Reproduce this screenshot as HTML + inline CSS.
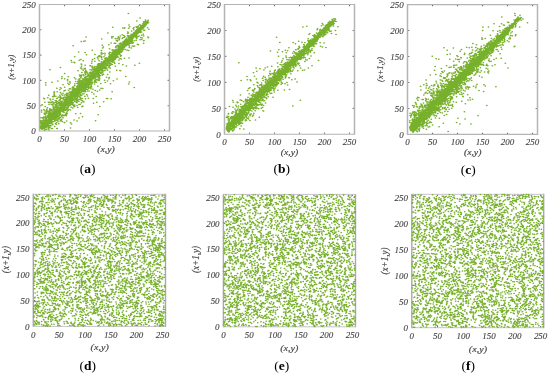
<!DOCTYPE html>
<html><head><meta charset="utf-8"><style>
html,body{margin:0;padding:0;background:#fff;width:550px;height:376px;overflow:hidden}
svg{display:block;filter:blur(.3px)}
text{text-anchor:middle}
.t{font-family:"Liberation Serif",serif;font-style:italic;font-size:7.2px;fill:#444;stroke:#444;stroke-width:.1px}
.e{text-anchor:end}
.l{font-family:"Liberation Serif",serif;font-style:italic;fill:#444;stroke:#444;stroke-width:.15px}
.c{font-family:"Liberation Serif",serif;font-weight:bold;font-size:12.5px;fill:#000}
.n{font-weight:normal}
</style></head><body>
<svg width="550" height="376" viewBox="0 0 550 376">
<path d="M39.5 4V131.5M169.5 4V131.5M224.5 4V134.8M354.5 4V134.8M407.5 4.1V134.9M537.5 4.1V134.9" stroke="#b4b4b4" stroke-width="1.5" fill="none"/>
<path d="M39.5 4.5H169.5M39.5 131H169.5M224.5 4.5H354.5M224.5 134.3H354.5M407.5 4.6H537.5M407.5 134.4H537.5" stroke="#b4b4b4" stroke-width="1.1" fill="none"/>
<path d="M33.3 193.8V326.9M165.5 193.8V326.9M223.4 193.9V327.3M355.5 193.9V327.3M411.8 193.8V328.2M543.7 193.8V328.2" stroke="#aca6b6" stroke-width="1.4" fill="none"/>
<path d="M33.3 194.3H165.5M33.3 326.4H165.5M223.4 194.4H355.5M223.4 326.8H355.5M411.8 194.3H543.7M411.8 327.7H543.7" stroke="#c6c0ce" stroke-width="1" fill="none"/>
<path d="M64.5 130.5v-1.2M64.5 5v1.2M40.2 105.7h1.2M168.8 105.7h-1.2M89.5 130.5v-1.2M89.5 5v1.2M40.2 80.4h1.2M168.8 80.4h-1.2M114.5 130.5v-1.2M114.5 5v1.2M40.2 55.1h1.2M168.8 55.1h-1.2M139.5 130.5v-1.2M139.5 5v1.2M40.2 29.8h1.2M168.8 29.8h-1.2M164.5 130.5v-1.2M164.5 5v1.2M249.5 133.8v-1.2M249.5 5v1.2M225.2 108.34h1.2M353.8 108.34h-1.2M274.5 133.8v-1.2M274.5 5v1.2M225.2 82.38h1.2M353.8 82.38h-1.2M299.5 133.8v-1.2M299.5 5v1.2M225.2 56.42h1.2M353.8 56.42h-1.2M324.5 133.8v-1.2M324.5 5v1.2M225.2 30.46h1.2M353.8 30.46h-1.2M349.5 133.8v-1.2M349.5 5v1.2M432.5 133.9v-1.2M432.5 5.1v1.2M408.2 108.44h1.2M536.8 108.44h-1.2M457.5 133.9v-1.2M457.5 5.1v1.2M408.2 82.48h1.2M536.8 82.48h-1.2M482.5 133.9v-1.2M482.5 5.1v1.2M408.2 56.52h1.2M536.8 56.52h-1.2M507.5 133.9v-1.2M507.5 5.1v1.2M408.2 30.56h1.2M536.8 30.56h-1.2M532.5 133.9v-1.2M532.5 5.1v1.2M59.12 325.9v-1.2M59.12 194.8v1.2M34 300.6h1.2M164.8 300.6h-1.2M84.94 325.9v-1.2M84.94 194.8v1.2M34 274.8h1.2M164.8 274.8h-1.2M110.76 325.9v-1.2M110.76 194.8v1.2M34 249h1.2M164.8 249h-1.2M136.58 325.9v-1.2M136.58 194.8v1.2M34 223.2h1.2M164.8 223.2h-1.2M162.4 325.9v-1.2M162.4 194.8v1.2M34 197.4h1.2M164.8 197.4h-1.2M249.2 326.3v-1.2M249.2 194.9v1.2M224.1 300.94h1.2M354.8 300.94h-1.2M275 326.3v-1.2M275 194.9v1.2M224.1 275.08h1.2M354.8 275.08h-1.2M300.8 326.3v-1.2M300.8 194.9v1.2M224.1 249.22h1.2M354.8 249.22h-1.2M326.6 326.3v-1.2M326.6 194.9v1.2M224.1 223.36h1.2M354.8 223.36h-1.2M352.4 326.3v-1.2M352.4 194.9v1.2M224.1 197.5h1.2M354.8 197.5h-1.2M437.56 327.2v-1.2M437.56 194.8v1.2M412.5 301.65h1.2M543 301.65h-1.2M463.32 327.2v-1.2M463.32 194.8v1.2M412.5 275.59h1.2M543 275.59h-1.2M489.09 327.2v-1.2M489.09 194.8v1.2M412.5 249.54h1.2M543 249.54h-1.2M514.85 327.2v-1.2M514.85 194.8v1.2M412.5 223.48h1.2M543 223.48h-1.2M540.61 327.2v-1.2M540.61 194.8v1.2M412.5 197.43h1.2M543 197.43h-1.2" stroke="#707070" stroke-width="1.1" fill="none"/>
<g transform="scale(0.325 0.25)" fill="none" stroke="#77b02a" stroke-width="5.8" stroke-linecap="round">
<path d="M395 54h0m36 18h0m17 8h0m8 1h0m-35 3h0m34 0h0m-8 1h0m2 0h0m6 1h0m-13 1h0m8 0h0m5 0h0m-4 2h0m-2 1h0m3 0h0m0 0h0m0 0h0m1 0h0m-7 1h0m1 0h0m10 0h0m-11 1h0m3 0h0m5 0h0m-13 1h0m6 0h0m3 0h0m1 0h0m-4 1h0m5 0h0m-12 1h0m9 0h0m-7 2h0m4 0h0m1 0h0m-5 1h0m6 0h0m-18 1h0m13 0h0m1 0h0m1 0h0m0 0h0m5 0h0m-53 1h0m35 0h0m9 0h0m2 0h0m2 0h0m1 0h0m1 0h0m-13 1h0m11 0h0m-9 1h0m2 0h0m8 0h0m-9 1h0m3 0h0m-14 1h0m7 0h0m5 0h0m2 0h0m2 0h0m0 1h0m-1 1h0m1 0h0m3 0h0m1 0h0m-47 1h0m20 0h0m5 0h0m11 0h0m2 0h0m0 0h0m6 0h0m-2 1h0m-94 1h0m87 0h0m0 0h0m7 0h0m-29 1h0m8 0h0m11 0h0m6 0h0m-53 1h0m45 0h0m7 0h0m0 0h0m18 0h0m-76 1h0m64 0h0m-59 1h0m13 0h0m28 0h0m1 0h0m6 0h0m5 0h0m1 0h0m-27 1h0m20 0h0m3 0h0m0 0h0m4 0h0m-10 1h0m7 0h0m3 0h0m2 0h0m-7 1h0m1 0h0m4 0h0m-5 1h0m26 0h0m-34 1h0m3 0h0m8 0h0m-23 1h0m9 0h0m7 0h0m7 0h0m-5 1h0m1 0h0m3 0h0m-12 1h0m1 0h0m3 0h0m1 0h0m4 0h0m11 0h0m3 0h0m-22 1h0m0 0h0m1 0h0m0 0h0m2 0h0m1 0h0m-9 1h0m4 0h0m-17 1h0m17 0h0m0 0h0m3 0h0m1 0h0m5 0h0m-14 1h0m1 0h0m2 0h0m4 0h0m2 0h0m-2 1h0m2 0h0m-4 1h0m1 0h0m0 0h0m9 0h0m-39 1h0m26 0h0m2 0h0m1 0h0m7 0h0m7 0h0m-21 1h0m5 0h0m3 0h0m2 0h0m-13 1h0m6 0h0m4 0h0m2 0h0m2 0h0m1 0h0m5 0h0m-19 1h0m3 0h0m3 0h0m0 0h0m0 0h0m1 0h0m-88 1h0m63 0h0m19 0h0m1 0h0m0 0h0m3 0h0m-6 1h0m2 0h0m3 0h0m8 0h0m-32 1h0m17 0h0m6 0h0m6 0h0m-9 1h0m2 0h0m7 0h0m-11 1h0m2 0h0m9 0h0m1 0h0m-19 1h0m6 0h0m5 0h0m1 0h0m1 0h0m24 0h0m-36 1h0m6 0h0m2 0h0m1 0h0m0 0h0m3 0h0m2 0h0m-43 1h0m29 0h0m1 0h0m2 0h0m4 0h0m6 0h0m1 0h0m-10 1h0m2 0h0m4 0h0m2 0h0m-10 1h0m4 0h0m1 0h0m3 0h0m21 0h0m-55 1h0m20 0h0m1 0h0m8 0h0m5 0h0m0 0h0m3 0h0m-26 1h0m2 0h0m0 0h0m1 0h0m6 0h0m8 0h0m5 0h0m6 0h0m-50 1h0m36 0h0m3 0h0m3 0h0m7 0h0m9 0h0m14 0h0m-47 1h0m11 0h0m16 0h0m-38 1h0m18 0h0m0 0h0m6 0h0m0 0h0m6 0h0m5 0h0m5 0h0m-80 1h0m4 0h0m16 0h0m31 0h0m22 0h0m-152 1h0m133 0h0m9 0h0m1 0h0m3 0h0m44 0h0m-72 1h0m16 0h0m2 0h0m10 0h0m7 0h0m-39 1h0m19 0h0m3 0h0m19 0h0m13 0h0m-68 1h0m32 0h0m5 0h0m5 0h0m3 0h0m47 0h0m-113 1h0m24 0h0m22 0h0m6 0h0m5 0h0m9 0h0m11 0h0m17 0h0m-41 1h0m1 0h0m2 0h0m0 0h0m7 0h0m2 0h0m-54 1h0m6 0h0m15 0h0m22 0h0m4 0h0m3 0h0m2 0h0m13 0h0m-23 1h0m3 0h0m1 0h0m6 0h0m1 0h0m-95 1h0m86 0h0m7 0h0m0 0h0m-39 1h0m20 0h0m5 0h0m3 0h0m5 0h0m1 0h0m-4 1h0m4 0h0m2 0h0m33 0h0m-69 1h0m24 0h0m0 0h0m10 0h0m0 0h0m2 0h0m0 0h0m1 0h0m2 0h0m1 0h0m24 0h0m-46 1h0m8 0h0m3 0h0m8 0h0m2 0h0m-48 1h0m32 0h0m0 0h0m3 0h0m0 0h0m0 0h0m1 0h0m1 0h0m2 0h0m2 0h0m20 0h0m-57 1h0m22 0h0m8 0h0m1 0h0m2 0h0m9 0h0m39 0h0m-49 1h0m1 0h0m3 0h0m2 0h0m13 0h0m29 0h0m-180 1h0m123 0h0m7 0h0m2 0h0m1 0h0m2 0h0m6 0h0m2 0h0m2 0h0m-149 1h0m103 0h0m22 0h0m7 0h0m3 0h0m14 0h0m-157 1h0m129 0h0m7 0h0m3 0h0m0 0h0m4 0h0m1 0h0m2 0h0m4 0h0m-20 1h0m5 0h0m2 0h0m2 0h0m0 1h0m5 0h0m-12 1h0m5 0h0m1 0h0m2 0h0m15 0h0m1 0h0m-18 1h0m2 0h0m-13 1h0m2 0h0m11 0h0m16 0h0m4 0h0m-68 1h0m30 0h0m9 0h0m13 0h0m0 0h0m5 0h0m2 0h0m-49 1h0m4 0h0m26 0h0m1 0h0m1 0h0m19 0h0m5 0h0m34 0h0m-74 1h0m15 0h0m1 0h0m5 0h0m0 0h0m6 0h0m4 0h0m-29 1h0m9 0h0m6 0h0m1 0h0m-18 1h0m16 0h0m6 0h0m2 0h0m3 0h0m-24 1h0m4 0h0m3 0h0m5 0h0m0 0h0m8 0h0m32 0h0m-38 1h0m1 0h0m0 0h0m0 0h0m-51 1h0m44 0h0m5 0h0m7 0h0m35 0h0m-45 1h0m1 0h0m2 0h0m0 0h0m4 0h0m1 0h0m3 0h0m5 0h0m-82 1h0m48 0h0m15 0h0m5 0h0m-8 1h0m3 0h0m3 0h0m1 0h0m1 0h0m-158 1h0m135 0h0m9 0h0m5 0h0m3 0h0m0 0h0m4 0h0m3 0h0m2 0h0m0 0h0m1 0h0m1 0h0m-22 1h0m6 0h0m3 0h0m2 0h0m2 0h0m4 0h0m0 0h0m15 0h0m9 0h0m7 0h0m-49 1h0m14 0h0m2 0h0m1 0h0m29 0h0m-54 1h0m15 0h0m3 0h0m1 0h0m3 0h0m5 0h0m-16 1h0m8 0h0m0 0h0m2 0h0m1 0h0m-61 1h0m46 0h0m5 0h0m4 0h0m3 0h0m2 0h0m1 0h0m-23 1h0m8 0h0m4 0h0m2 0h0m3 0h0m6 0h0m0 0h0m1 0h0m1 0h0m-17 1h0m8 0h0m3 0h0m23 0h0m-41 1h0m11 0h0m1 0h0m1 0h0m2 0h0m0 0h0m1 0h0m3 0h0m3 0h0m1 0h0m3 0h0m-67 1h0m55 0h0m1 0h0m5 0h0m27 0h0m-39 1h0m1 0h0m3 0h0m6 0h0m3 0h0m1 0h0m-15 1h0m2 0h0m2 0h0m0 0h0m1 0h0m3 0h0m2 0h0m-37 1h0m31 0h0m0 0h0m-5 1h0m0 0h0m14 0h0m-16 1h0m2 0h0m1 0h0m0 0h0m3 0h0m4 0h0m2 0h0m-8 1h0m4 0h0m6 0h0m4 0h0m6 0h0m-39 1h0m11 0h0m3 0h0m4 0h0m1 0h0m6 0h0m3 0h0m-29 1h0m6 0h0m3 0h0m9 0h0m10 0h0m18 0h0m-107 1h0m73 0h0m3 0h0m3 0h0m5 0h0m-56 1h0m46 0h0m4 0h0m34 0h0m-35 1h0m2 0h0m-15 1h0m10 0h0m1 0h0m3 0h0m1 0h0m0 0h0m5 0h0m9 0h0m-25 1h0m4 0h0m4 0h0m2 0h0m3 0h0m2 0h0m-13 1h0m1 0h0m2 0h0m7 0h0m7 0h0m-15 1h0m2 0h0m5 0h0m1 0h0m4 0h0m6 0h0m-132 1h0m106 0h0m5 0h0m5 0h0m3 0h0m6 0h0m-29 1h0m16 0h0m0 0h0m15 0h0m2 0h0m-109 1h0m50 0h0m28 0h0m17 0h0m11 0h0m4 0h0m-60 1h0m41 0h0m10 0h0m5 0h0m-23 1h0m5 0h0m1 0h0m-28 1h0m12 0h0m10 0h0m5 0h0m-33 1h0m33 0h0m2 0h0m2 0h0m4 0h0m-11 1h0m8 0h0m3 0h0m1 0h0m6 0h0m-53 1h0m24 0h0m13 0h0m5 0h0m0 0h0m2 0h0m1 0h0m5 0h0m3 0h0m0 0h0m-53 1h0m32 0h0m3 0h0m6 0h0m2 0h0m1 0h0m1 0h0m5 0h0m1 0h0m5 0h0m-76 1h0m46 0h0m5 0h0m4 0h0m8 0h0m0 0h0m-89 1h0m75 0h0m8 0h0m0 0h0m1 0h0m1 0h0m0 0h0m3 0h0m2 0h0m3 0h0m-36 1h0m18 0h0m8 0h0m2 0h0m4 0h0m5 0h0m0 0h0m10 0h0m-21 1h0m0 0h0m10 0h0m-12 1h0m10 0h0m16 0h0m-66 1h0m33 0h0m4 0h0m11 0h0m-51 1h0m32 0h0m2 0h0m8 0h0m16 0h0m-51 1h0m30 0h0m3 0h0m10 0h0m2 0h0m1 0h0m2 0h0m12 0h0m-65 1h0m38 0h0m3 0h0m2 0h0m1 0h0m-120 1h0m72 0h0m18 0h0m15 0h0m3 0h0m1 0h0m3 0h0m3 0h0m2 0h0m0 0h0m5 0h0m0 0h0m2 0h0m2 0h0m2 0h0m-45 1h0m24 0h0m5 0h0m2 0h0m3 0h0m2 0h0m2 0h0m5 0h0m6 0h0m-22 1h0m2 0h0m3 0h0m1 0h0m1 0h0m17 0h0m-64 1h0m48 0h0m2 0h0m2 0h0m-40 1h0m15 0h0m11 0h0m2 0h0m1 0h0m8 0h0m9 0h0m-32 1h0m2 0h0m5 0h0m3 0h0m1 0h0m0 0h0m2 0h0m1 0h0m3 0h0m3 0h0m10 0h0m41 0h0m-65 1h0m9 0h0m2 0h0m1 0h0m3 0h0m1 0h0m2 0h0m33 0h0m-92 1h0m32 0h0m10 0h0m7 0h0m0 0h0m4 0h0m25 0h0m-38 1h0m3 0h0m5 0h0m6 0h0m4 0h0m5 0h0m-52 1h0m25 0h0m8 0h0m5 0h0m0 0h0m0 0h0m6 0h0m3 0h0m24 0h0m0 0h0m-59 1h0m16 0h0m15 0h0m-96 1h0m36 0h0m39 0h0m8 0h0m3 0h0m2 0h0m1 0h0m8 0h0m8 0h0m-19 1h0m-5 1h0m2 0h0m1 0h0m1 0h0m1 0h0m3 0h0m3 0h0m4 0h0m21 0h0m-122 1h0m87 0h0m1 0h0m2 0h0m7 0h0m8 0h0m-130 1h0m104 0h0m5 0h0m0 0h0m2 0h0m3 0h0m1 0h0m-78 1h0m49 0h0m15 0h0m2 0h0m1 0h0m1 0h0m7 0h0m6 0h0m1 0h0m1 0h0m3 0h0m1 0h0m1 0h0m3 0h0m3 0h0m-26 1h0m2 0h0m7 0h0m6 0h0m4 0h0m-60 1h0m9 0h0m33 0h0m-5 1h0m15 0h0m-23 1h0m8 0h0m4 0h0m1 0h0m4 0h0m1 0h0m14 0h0m2 0h0m-26 1h0m1 0h0m0 0h0m4 0h0m1 0h0m0 0h0m1 0h0m4 0h0m5 0h0m-115 1h0m7 0h0m87 0h0m2 0h0m2 0h0m4 0h0m1 0h0m1 0h0m0 0h0m1 0h0m5 0h0m2 0h0m4 0h0m10 0h0m5 0h0m-35 1h0m5 0h0m-92 1h0m87 0h0m3 0h0m4 0h0m-42 2h0m31 0h0m10 0h0m14 0h0m4 0h0m88 0h0m-124 1h0m5 0h0m7 0h0m0 0h0m1 0h0m4 0h0m1 0h0m6 0h0m2 0h0m10 0h0m12 0h0m13 0h0m-53 1h0m1 0h0m1 0h0m10 0h0m10 0h0m-85 1h0m52 0h0m5 0h0m8 0h0m10 0h0m1 0h0m4 0h0m1 0h0m-28 1h0m12 0h0m3 0h0m3 0h0m10 0h0m-28 1h0m11 0h0m4 0h0m7 0h0m2 0h0m1 0h0m17 0h0m-94 1h0m55 0h0m3 0h0m4 0h0m3 0h0m10 0h0m2 0h0m12 0h0m38 0h0m-78 1h0m16 0h0m0 0h0m3 0h0m4 0h0m2 0h0m-63 1h0m41 0h0m2 0h0m4 0h0m6 0h0m6 0h0m5 0h0m10 0h0m4 0h0m75 0h0m-110 1h0m9 0h0m6 0h0m10 0h0m-53 1h0m2 0h0m28 0h0m1 0h0m3 0h0m1 0h0m0 0h0m2 0h0m3 0h0m0 0h0m15 0h0m-28 1h0m6 0h0m0 0h0m7 0h0m3 0h0m7 0h0m62 0h0m-104 1h0m15 0h0m11 0h0m6 0h0m19 0h0m19 0h0m-63 1h0m11 0h0m3 0h0m5 0h0m3 0h0m3 0h0m4 0h0m4 0h0m0 0h0m11 0h0m-85 1h0m53 0h0m12 0h0m3 0h0m-36 1h0m14 0h0m1 0h0m2 0h0m1 0h0m8 0h0m0 0h0m0 0h0m-8 1h0m3 0h0m3 0h0m9 0h0m3 0h0m-133 1h0m104 0h0m16 0h0m6 0h0m1 0h0m3 0h0m1 0h0m6 0h0m-14 1h0m3 0h0m3 0h0m1 0h0m3 0h0m1 0h0m8 0h0m7 0h0m-87 1h0m36 0h0m5 0h0m18 0h0m1 0h0m3 0h0m3 0h0m25 0h0m-77 1h0m33 0h0m5 0h0m0 0h0m4 0h0m0 0h0m0 0h0m1 0h0m0 0h0m0 0h0m5 0h0m3 0h0m0 0h0m2 0h0m7 0h0m-30 1h0m7 0h0m5 0h0m5 0h0m4 0h0m0 0h0m5 0h0m6 0h0m-65 1h0m42 0h0m3 0h0m1 0h0m3 0h0m5 0h0m3 0h0m1 0h0m7 0h0m-72 1h0m10 0h0m31 0h0m1 0h0m5 0h0m4 0h0m5 0h0m2 0h0m2 0h0m4 0h0m13 0h0m-42 1h0m4 0h0m0 0h0m8 0h0m6 0h0m1 0h0m0 0h0m1 0h0m2 0h0m3 0h0m4 0h0m-22 1h0m2 0h0m6 0h0m3 0h0m2 0h0m2 0h0m-155 1h0m123 0h0m6 0h0m7 0h0m2 0h0m1 0h0m10 0h0m6 0h0m4 0h0m-31 1h0m16 0h0m2 0h0m8 0h0m0 0h0m1 0h0m5 0h0m-58 1h0m37 0h0m1 0h0m5 0h0m13 0h0m11 0h0m8 0h0m28 0h0m-95 1h0m37 0h0m5 0h0m1 0h0m7 0h0m2 0h0m53 0h0m-129 1h0m50 0h0m1 0h0m0 0h0m2 0h0m8 0h0m5 0h0m65 0h0m-82 1h0m1 0h0m3 0h0m0 0h0m1 0h0m3 0h0m2 0h0m1 0h0m0 0h0m3 0h0m16 0h0m-33 1h0m6 0h0m4 0h0m2 0h0m1 0h0m0 0h0m-36 1h0m3 0h0m22 0h0m5 0h0m4 0h0m0 0h0m1 0h0m3 0h0m1 0h0m4 0h0m-40 1h0m28 0h0m6 0h0m12 0h0m2 0h0m-53 1h0m6 0h0m13 0h0m6 0h0m52 0h0m-60 1h0m19 0h0m0 0h0m3 0h0m5 0h0m-53 1h0m12 0h0m12 0h0m9 0h0m10 0h0m2 0h0m11 0h0m-45 1h0m21 0h0m2 0h0m2 0h0m3 0h0m2 0h0m1 0h0m1 0h0m1 0h0m14 0h0m6 0h0m-47 1h0m7 0h0m4 0h0m11 0h0m4 0h0m3 0h0m-8 1h0m7 0h0m3 0h0m2 0h0m8 0h0m1 0h0m-112 1h0m63 0h0m15 0h0m20 0h0m3 0h0m1 0h0m2 0h0m-15 1h0m3 0h0m1 0h0m0 0h0m-29 1h0m8 0h0m18 0h0m2 0h0m1 0h0m0 0h0m2 0h0m3 0h0m-16 1h0m2 0h0m1 0h0m8 0h0m4 0h0m10 0h0m12 0h0m-34 1h0m0 0h0m4 0h0m2 0h0m5 0h0m0 0h0m2 0h0m1 0h0m4 0h0m1 0h0m28 0h0m-74 1h0m7 0h0m19 0h0m9 0h0m5 0h0m-52 1h0m7 0h0m22 0h0m2 0h0m9 0h0m4 0h0m3 0h0m2 0h0m2 0h0m2 0h0m6 0h0m10 0h0m-66 1h0m22 0h0m2 0h0m3 0h0m0 0h0m2 0h0m4 0h0m3 0h0m3 0h0m8 0h0m5 0h0m15 0h0m-43 1h0m4 0h0m9 0h0m1 0h0m2 0h0m1 0h0m1 0h0m18 0h0m-50 1h0m20 0h0m5 0h0m4 0h0m7 0h0m14 0h0m-57 1h0m20 0h0m1 0h0m2 0h0m0 0h0m4 0h0m0 0h0m6 0h0m1 0h0m6 0h0m1 0h0m10 0h0m-56 1h0m29 0h0m4 0h0m1 0h0m1 0h0m0 0h0m6 0h0m-21 1h0m4 0h0m12 0h0m3 0h0m4 0h0m5 0h0m5 0h0m6 0h0m82 0h0m-196 1h0m19 0h0m54 0h0m12 0h0m0 0h0m10 0h0m0 0h0m6 0h0m9 0h0m-24 1h0m4 0h0m5 0h0m2 0h0m15 0h0m-54 1h0m15 0h0m15 0h0m1 0h0m2 0h0m2 0h0m3 0h0m3 0h0m1 0h0m37 0h0m-67 1h0m20 0h0m2 0h0m53 0h0m-107 1h0m33 0h0m15 0h0m0 0h0m10 0h0m8 0h0m11 0h0m-57 1h0m25 0h0m3 0h0m6 0h0m7 0h0m12 0h0m-31 1h0m0 0h0m7 0h0m0 0h0m0 0h0m11 0h0m-99 1h0m75 0h0m2 0h0m2 0h0m5 0h0m4 0h0m4 0h0m2 0h0m0 0h0m-85 1h0m45 0h0m11 0h0m0 0h0m4 0h0m2 0h0m3 0h0m7 0h0m0 0h0m4 0h0m5 0h0m2 0h0m5 0h0m0 0h0m2 0h0m18 0h0m28 0h0m-102 1h0m24 0h0m10 0h0m10 0h0m8 0h0m0 0h0m75 0h0m-105 1h0m11 0h0m1 0h0m3 0h0m6 0h0m0 0h0m18 0h0m-86 1h0m53 0h0m18 0h0m1 0h0m16 0h0m-32 1h0m6 0h0m5 0h0m2 0h0m2 0h0m0 0h0m2 0h0m1 0h0m16 0h0m3 0h0m3 0h0m-63 1h0m1 0h0m20 0h0m8 0h0m1 0h0m2 0h0m22 0h0m6 0h0m-56 1h0m3 0h0m11 0h0m1 0h0m7 0h0m2 0h0m11 0h0m2 0h0m40 0h0m-66 1h0m14 0h0m12 0h0m0 0h0m10 0h0m13 0h0m-97 1h0m46 0h0m10 0h0m18 0h0m12 0h0m55 0h0m-171 1h0m83 0h0m1 0h0m0 0h0m2 0h0m2 0h0m4 0h0m2 0h0m3 0h0m8 0h0m48 0h0m-80 1h0m21 0h0m3 0h0m2 0h0m1 0h0m13 0h0m-58 1h0m7 0h0m5 0h0m22 0h0m2 0h0m-54 1h0m28 0h0m7 0h0m0 0h0m6 0h0m14 0h0m7 0h0m-12 1h0m29 0h0m104 0h0m-238 1h0m92 0h0m13 0h0m2 0h0m2 0h0m3 0h0m1 0h0m0 0h0m4 0h0m3 0h0m3 0h0m7 0h0m7 0h0m-47 1h0m1 0h0m8 0h0m6 0h0m2 0h0m7 0h0m50 0h0m-183 1h0m105 0h0m2 0h0m6 0h0m10 0h0m0 0h0m9 0h0m4 0h0m0 0h0m7 0h0m-68 1h0m24 0h0m5 0h0m5 0h0m0 0h0m4 0h0m1 0h0m5 0h0m1 0h0m6 0h0m4 0h0m3 0h0m10 0h0m-75 1h0m39 0h0m7 0h0m6 0h0m7 0h0m3 0h0m5 0h0m-39 1h0m2 0h0m22 0h0m2 0h0m7 0h0m40 0h0m-80 1h0m14 0h0m2 0h0m5 0h0m7 0h0m13 0h0m6 0h0m6 0h0m57 0h0m-78 1h0m0 0h0m2 0h0m6 0h0m21 0h0m105 0h0m-149 1h0m12 0h0m2 0h0m1 0h0m4 0h0m3 0h0m9 0h0m-66 1h0m36 0h0m8 0h0m0 0h0m6 0h0m7 0h0m1 0h0m4 0h0m4 0h0m-84 1h0m53 0h0m5 0h0m3 0h0m6 0h0m2 0h0m0 0h0m-122 1h0m100 0h0m4 0h0m6 0h0m2 0h0m14 0h0m14 0h0m-39 1h0m7 0h0m0 0h0m20 0h0m5 0h0m-44 1h0m0 0h0m19 0h0m1 0h0m14 0h0m2 0h0m1 0h0m-17 1h0m0 0h0m2 0h0m7 0h0m4 0h0m-25 1h0m3 0h0m5 0h0m1 0h0m2 0h0m1 0h0m4 0h0m9 0h0m4 0h0m6 0h0m-32 1h0m8 0h0m10 0h0m2 0h0m2 0h0m4 0h0m6 0h0m6 0h0m22 0h0m-52 1h0m7 0h0m7 0h0m18 0h0m-45 1h0m5 0h0m2 0h0m1 0h0m3 0h0m2 0h0m4 0h0m8 0h0m-37 1h0m3 0h0m15 0h0m1 0h0m15 0h0m2 0h0m3 0h0m5 0h0m11 0h0m3 0h0m-83 1h0m40 0h0m4 0h0m2 0h0m2 0h0m1 0h0m1 0h0m0 0h0m1 0h0m4 0h0m3 0h0m4 0h0m9 0h0m2 0h0m-49 1h0m16 0h0m1 0h0m1 0h0m3 0h0m2 0h0m1 0h0m1 0h0m4 0h0m6 0h0m1 0h0m0 0h0m154 0h0m-227 1h0m40 0h0m14 0h0m1 0h0m14 0h0m2 0h0m1 0h0m7 0h0m11 0h0m-39 1h0m8 0h0m2 0h0m1 0h0m3 0h0m1 0h0m1 0h0m7 0h0m2 0h0m-87 1h0m13 0h0m40 0h0m30 0h0m1 0h0m5 0h0m9 0h0m38 0h0m-66 1h0m0 0h0m4 0h0m0 0h0m2 0h0m0 0h0m7 0h0m4 0h0m54 0h0m-102 1h0m3 0h0m8 0h0m7 0h0m3 0h0m5 0h0m3 0h0m4 0h0m7 0h0m3 0h0m6 0h0m17 0h0m-55 1h0m3 0h0m9 0h0m1 0h0m2 0h0m12 0h0m7 0h0m-36 1h0m18 0h0m3 0h0m0 0h0m2 0h0m1 0h0m19 0h0m4 0h0m16 0h0m-55 1h0m7 0h0m6 0h0m6 0h0m1 0h0m0 0h0m7 0h0m1 0h0m2 0h0m2 0h0m-79 1h0m39 0h0m2 0h0m18 0h0m2 0h0m3 0h0m1 0h0m2 0h0m-28 1h0m11 0h0m0 0h0m12 0h0m1 0h0m0 0h0m0 0h0m5 0h0m55 0h0m-106 1h0m10 0h0m18 0h0m5 0h0m3 0h0m2 0h0m6 0h0m3 0h0m0 0h0m-25 1h0m17 0h0m1 0h0m15 0h0m37 0h0m-68 1h0m4 0h0m8 0h0m5 0h0m3 0h0m0 0h0m9 0h0m4 0h0m4 0h0m-65 1h0m27 0h0m4 0h0m6 0h0m6 0h0m2 0h0m3 0h0m7 0h0m17 0h0m5 0h0m-51 1h0m2 0h0m2 0h0m0 0h0m14 0h0m9 0h0m2 0h0m48 0h0m-68 1h0m6 0h0m18 0h0m2 0h0m-91 1h0m9 0h0m43 0h0m12 0h0m4 0h0m0 0h0m3 0h0m23 0h0m2 0h0m82 0h0m-131 1h0m4 0h0m11 0h0m2 0h0m3 0h0m10 0h0m7 0h0m-27 1h0m4 0h0m2 0h0m2 0h0m1 0h0m3 0h0m2 0h0m45 0h0m-97 1h0m33 0h0m16 0h0m3 0h0m3 0h0m1 0h0m1 0h0m1 0h0m5 0h0m-82 1h0m65 0h0m2 0h0m1 0h0m1 0h0m5 0h0m2 0h0m0 0h0m4 0h0m0 0h0m-32 1h0m27 0h0m-48 1h0m12 0h0m4 0h0m7 0h0m3 0h0m7 0h0m7 0h0m6 0h0m-17 1h0m2 0h0m2 0h0m2 0h0m1 0h0m7 0h0m3 0h0m-22 1h0m9 0h0m0 0h0m14 0h0m2 0h0m15 0h0m-92 1h0m23 0h0m16 0h0m1 0h0m15 0h0m2 0h0m4 0h0m3 0h0m3 0h0m0 0h0m1 0h0m10 0h0m9 0h0m1 0h0m35 0h0m-86 1h0m15 0h0m2 0h0m5 0h0m0 0h0m0 0h0m7 0h0m5 0h0m10 0h0m-27 1h0m6 0h0m14 0h0m27 0h0m-54 1h0m12 0h0m2 0h0m5 0h0m0 0h0m2 0h0m1 0h0m1 0h0m3 0h0m-72 1h0m31 0h0m10 0h0m9 0h0m4 0h0m16 0h0m3 0h0m-90 1h0m34 0h0m8 0h0m12 0h0m3 0h0m9 0h0m11 0h0m4 0h0m1 0h0m2 0h0m4 0h0m1 0h0m10 0h0m-31 1h0m0 0h0m8 0h0m1 0h0m1 0h0m0 0h0m1 0h0m4 0h0m18 0h0m-84 1h0m41 0h0m10 0h0m1 0h0m4 0h0m2 0h0m1 0h0m1 0h0m2 0h0m0 0h0m7 0h0m2 0h0m8 0h0m-30 1h0m1 0h0m3 0h0m3 0h0m1 0h0m6 0h0m14 0h0m25 0h0m-97 1h0m45 0h0m1 0h0m5 0h0m0 0h0m2 0h0m4 0h0m7 0h0m6 0h0m19 0h0m-99 1h0m4 0h0m20 0h0m25 0h0m21 0h0m5 0h0m8 0h0m51 0h0m-131 1h0m43 0h0m4 0h0m4 0h0m4 0h0m-40 1h0m19 0h0m5 0h0m2 0h0m1 0h0m3 0h0m2 0h0m0 0h0m6 0h0m6 0h0m3 0h0m17 0h0m-60 1h0m22 0h0m9 0h0m8 0h0m6 0h0m0 0h0m18 0h0m-61 1h0m10 0h0m14 0h0m4 0h0m16 0h0m8 0h0m-91 1h0m61 0h0m5 0h0m5 0h0m1 0h0m2 0h0m2 0h0m0 0h0m-32 1h0m12 0h0m6 0h0m1 0h0m7 0h0m2 0h0m3 0h0m11 0h0m-98 1h0m41 0h0m13 0h0m1 0h0m14 0h0m8 0h0m2 0h0m6 0h0m0 0h0m3 0h0m26 0h0m23 0h0m-97 1h0m18 0h0m14 0h0m1 0h0m1 0h0m2 0h0m27 0h0m15 0h0m34 0h0m41 0h0m3 0h0m-195 1h0m1 0h0m49 0h0m7 0h0m12 0h0m14 0h0m9 0h0m35 0h0m79 0h0m-188 1h0m49 0h0m3 0h0m0 0h0m4 0h0m1 0h0m1 0h0m16 0h0m20 0h0m-85 1h0m33 0h0m3 0h0m3 0h0m9 0h0m9 0h0m11 0h0m4 0h0m10 0h0m-60 1h0m21 0h0m11 0h0m2 0h0m3 0h0m3 0h0m2 0h0m-26 1h0m4 0h0m2 0h0m6 0h0m6 0h0m2 0h0m15 0h0m4 0h0m-84 1h0m27 0h0m14 0h0m4 0h0m3 0h0m1 0h0m14 0h0m3 0h0m2 0h0m15 0h0m-41 1h0m23 0h0m5 0h0m24 0h0m-68 1h0m25 0h0m1 0h0m6 0h0m2 0h0m3 0h0m16 0h0m17 0h0m-82 1h0m3 0h0m11 0h0m14 0h0m5 0h0m0 0h0m5 0h0m-9 1h0m3 0h0m8 0h0m9 0h0m3 0h0m7 0h0m10 0h0m-50 1h0m3 0h0m6 0h0m2 0h0m1 0h0m42 0h0m12 0h0m-56 1h0m5 0h0m2 0h0m0 0h0m4 0h0m1 0h0m4 0h0m2 0h0m2 0h0m11 0h0m-68 1h0m12 0h0m3 0h0m10 0h0m25 0h0m1 0h0m1 0h0m5 0h0m13 0h0m87 0h0m-160 1h0m42 0h0m5 0h0m0 0h0m2 0h0m3 0h0m2 0h0m6 0h0m15 0h0m1 0h0m23 0h0m-120 1h0m11 0h0m4 0h0m27 0h0m8 0h0m9 0h0m1 0h0m13 0h0m1 0h0m86 0h0m-126 1h0m14 0h0m2 0h0m15 0h0m2 0h0m5 0h0m13 0h0m2 0h0m-69 1h0m8 0h0m4 0h0m15 0h0m5 0h0m16 0h0m13 0h0m5 0h0m15 0h0m14 0h0m-69 1h0m9 0h0m1 0h0m6 0h0m-18 1h0m6 0h0m8 0h0m3 0h0m7 0h0m4 0h0m2 0h0m2 0h0m0 0h0m4 0h0m72 0h0m-113 1h0m11 0h0m11 0h0m4 0h0m0 0h0m1 0h0m1 0h0m6 0h0m4 0h0m-26 1h0m11 0h0m0 0h0m1 0h0m7 0h0m7 0h0m1 0h0m4 0h0m6 0h0m-60 1h0m20 0h0m1 0h0m4 0h0m3 0h0m3 0h0m1 0h0m-45 1h0m32 0h0m3 0h0m1 0h0m0 0h0m4 0h0m1 0h0m14 0h0m11 0h0m30 0h0m-89 1h0m3 0h0m9 0h0m5 0h0m10 0h0m7 0h0m3 0h0m4 0h0m5 0h0m2 0h0m10 0h0m4 0h0m23 0h0m-113 1h0m45 0h0m18 0h0m6 0h0m4 0h0m6 0h0m15 0h0m-95 1h0m46 0h0m7 0h0m7 0h0m4 0h0m0 0h0m0 0h0m5 0h0m32 0h0m-50 1h0m6 0h0m0 0h0m7 0h0m2 0h0m1 0h0m2 0h0m13 0h0m14 0h0m-52 1h0m15 0h0m1 0h0m1 0h0m3 0h0m7 0h0m0 0h0m0 0h0m2 0h0m3 0h0m10 0h0m22 0h0m-52 1h0m5 0h0m3 0h0m6 0h0m10 0h0m18 0h0m-64 1h0m2 0h0m6 0h0m2 0h0m23 0h0m4 0h0m1 0h0m1 0h0m6 0h0m47 0h0m-66 1h0m2 0h0m8 0h0m12 0h0m19 0h0m-91 1h0m50 0h0m1 0h0m8 0h0m2 0h0m107 0h0m-130 1h0m15 0h0m1 0h0m6 0h0m3 0h0m26 0h0m24 0h0m-78 1h0m13 0h0m2 0h0m4 0h0m4 0h0m-22 1h0m2 0h0m3 0h0m1 0h0m5 0h0m4 0h0m0 0h0m20 0h0m9 0h0m-55 1h0m4 0h0m2 0h0m1 0h0m10 0h0m7 0h0m2 0h0m2 0h0m5 0h0m42 0h0m-93 1h0m28 0h0m22 0h0m3 0h0m6 0h0m3 0h0m-42 1h0m14 0h0m4 0h0m0 0h0m1 0h0m8 0h0m12 0h0m19 0h0m-58 1h0m27 0h0m-14 1h0m29 0h0m-54 1h0m30 0h0m3 0h0m1 0h0m9 0h0m-33 1h0m9 0h0m8 0h0m4 0h0m1 0h0m0 0h0m5 0h0m6 0h0m7 0h0m1 0h0m1 0h0m-62 1h0m22 0h0m2 0h0m0 0h0m7 0h0m4 0h0m2 0h0m8 0h0m0 0h0m11 0h0m6 0h0m-71 1h0m24 0h0m15 0h0m18 0h0m8 0h0m12 0h0m-68 1h0m9 0h0m4 0h0m8 0h0m8 0h0m2 0h0m2 0h0m2 0h0m5 0h0m3 0h0m1 0h0m3 0h0m5 0h0m-21 1h0m0 0h0m0 0h0m1 0h0m2 0h0m4 0h0m12 0h0m0 0h0m9 0h0m14 0h0m-89 1h0m40 0h0m12 0h0m6 0h0m6 0h0m10 0h0m-35 1h0m2 0h0m6 0h0m1 0h0m3 0h0m3 0h0m8 0h0m19 0h0m-72 1h0m22 0h0m0 0h0m9 0h0m1 0h0m3 0h0m0 0h0m1 0h0m9 0h0m1 0h0m14 0h0m-56 1h0m5 0h0m5 0h0m7 0h0m2 0h0m1 0h0m10 0h0m-17 1h0m8 0h0m8 0h0m1 0h0m5 0h0m6 0h0m4 0h0m6 0h0m15 0h0m-62 1h0m40 0h0m1 0h0m-42 1h0m23 0h0m4 0h0m4 0h0m8 0h0m9 0h0m3 0h0m-67 1h0m22 0h0m13 0h0m3 0h0m11 0h0m0 0h0m2 0h0m3 0h0m1 0h0m-12 1h0m3 0h0m1 0h0m3 0h0m6 0h0m1 0h0m-30 1h0m9 0h0m2 0h0m10 0h0m3 0h0m4 0h0m2 0h0m0 0h0m12 0h0m-55 1h0m14 0h0m9 0h0m3 0h0m1 0h0m1 0h0m6 0h0m8 0h0m21 0h0m0 0h0m-66 1h0m5 0h0m7 0h0m4 0h0m5 0h0m3 0h0m13 0h0m7 0h0m-47 1h0m17 0h0m4 0h0m4 0h0m6 0h0m1 0h0m4 0h0m2 0h0m2 0h0m3 0h0m0 0h0m0 0h0m6 0h0m1 0h0m17 0h0m4 0h0m-63 1h0m10 0h0m7 0h0m1 0h0m11 0h0m1 0h0m74 0h0m-98 1h0m10 0h0m14 0h0m5 0h0m6 0h0m48 0h0m-72 1h0m1 0h0m15 0h0m-40 1h0m30 0h0m3 0h0m1 0h0m0 0h0m0 0h0m6 0h0m6 0h0m-31 1h0m5 0h0m6 0h0m2 0h0m1 0h0m18 0h0m19 0h0m-53 1h0m0 0h0m2 0h0m2 0h0m7 0h0m6 0h0m1 0h0m7 0h0m11 0h0m19 0h0m97 0h0m-162 1h0m14 0h0m8 0h0m9 0h0m6 0h0m16 0h0m1 0h0m6 0h0m-45 1h0m4 0h0m9 0h0m2 0h0m7 0h0m13 0h0m3 0h0m-47 1h0m12 0h0m0 0h0m7 0h0m5 0h0m2 0h0m6 0h0m5 0h0m-20 1h0m12 0h0m0 0h0m17 0h0m5 0h0m7 0h0m-56 1h0m5 0h0m1 0h0m3 0h0m3 0h0m6 0h0m11 0h0m-27 1h0m0 0h0m1 0h0m0 0h0m7 0h0m2 0h0m5 0h0m3 0h0m6 0h0m3 0h0m1 0h0m3 0h0m-34 1h0m15 0h0m1 0h0m5 0h0m9 0h0m-37 1h0m12 0h0m3 0h0m6 0h0m0 0h0m6 0h0m2 0h0m2 0h0m10 0h0m8 0h0m65 0h0m-119 1h0m10 0h0m7 0h0m10 0h0m1 0h0m1 0h0m0 0h0m3 0h0m2 0h0m1 0h0m6 0h0m-39 1h0m20 0h0m4 0h0m13 0h0m-42 1h0m9 0h0m3 0h0m3 0h0m11 0h0m3 0h0m6 0h0m2 0h0m4 0h0m9 0h0m-56 1h0m18 0h0m3 0h0m4 0h0m1 0h0m1 0h0m1 0h0m19 0h0m1 0h0m11 0h0m9 0h0m-63 1h0m9 0h0m10 0h0m0 0h0m0 0h0m0 0h0m8 0h0m10 0h0m0 0h0m1 0h0m4 0h0m70 0h0m-93 1h0m4 0h0m4 0h0m22 0h0m1 0h0m-47 1h0m23 0h0m5 0h0m1 0h0m8 0h0m-30 1h0m1 0h0m10 0h0m4 0h0m3 0h0m7 0h0m-13 1h0m2 0h0m1 0h0m9 0h0m5 0h0m6 0h0m6 0h0m-29 1h0m0 0h0m4 0h0m1 0h0m2 0h0m30 0h0m-40 1h0m1 0h0m3 0h0m8 0h0m5 0h0m-31 1h0m9 0h0m6 0h0m4 0h0m14 0h0m-28 1h0m3 0h0m5 0h0m29 0h0m9 0h0m41 0h0m-96 1h0m12 0h0m4 0h0m2 0h0m0 0h0m2 0h0m1 0h0m1 0h0m1 0h0m4 0h0m14 0h0m-48 1h0m15 0h0m10 0h0m2 0h0m0 0h0m3 0h0m4 0h0m18 0h0m-45 1h0m5 0h0m4 0h0m3 0h0m2 0h0m13 0h0m10 0h0m1 0h0m18 0h0m106 0h0m-154 1h0m1 0h0m12 0h0m32 0h0m20 0h0m32 0h0m-109 1h0m14 0h0m2 0h0m8 0h0m1 0h0m5 0h0m1 0h0m1 0h0m-22 1h0m3 0h0m4 0h0m2 0h0m3 0h0m5 0h0m6 0h0m5 0h0m0 0h0m26 0h0m-68 1h0m13 0h0m12 0h0m3 0h0m27 0h0m-42 1h0m5 0h0m2 0h0m3 0h0m3 0h0m4 0h0m0 0h0m7 0h0m-33 1h0m5 0h0m4 0h0m3 0h0m0 0h0m1 0h0m1 0h0m1 0h0m3 0h0m0 0h0m3 0h0m0 0h0m3 0h0m4 0h0m-16 1h0m2 0h0m1 0h0m6 0h0m0 0h0m6 0h0m0 0h0m1 0h0m1 0h0m42 0h0m-65 1h0m4 0h0m2 0h0m4 0h0m5 0h0m4 0h0m0 0h0m5 0h0m16 0h0m24 0h0m19 0h0m-86 1h0m3 0h0m1 0h0m3 0h0m3 0h0m2 0h0m1 0h0m0 0h0m0 0h0m0 0h0m-19 1h0m1 0h0m14 0h0m1 0h0m1 0h0m0 0h0m1 0h0m1 0h0m13 0h0m15 0h0m-46 1h0m10 0h0m1 0h0m2 0h0m0 0h0m3 0h0m0 0h0m2 0h0m9 0h0m1 0h0m3 0h0m14 0h0m-35 1h0m1 0h0m2 0h0m0 0h0m1 0h0m1 0h0m0 0h0m6 0h0m3 0h0m31 0h0m-51 1h0m3 0h0m0 0h0m2 0h0m7 0h0m8 0h0m12 0h0m58 0h0m-84 1h0m2 0h0m2 0h0m3 0h0m6 0h0m-21 1h0m10 0h0m0 0h0m3 0h0m1 0h0m0 0h0m2 0h0m0 0h0m29 0h0m-46 1h0m1 0h0m1 0h0m1 0h0m1 0h0m4 0h0m2 0h0m25 0h0m-23 1h0m2 0h0m-10 1h0m4 0h0m1 0h0m11 0h0m0 0h0m-19 1h0m2 0h0m2 0h0m0 0h0m2 0h0m0 0h0m1 0h0m8 0h0m8 0h0m0 0h0m4 0h0m-29 1h0m1 0h0m0 0h0m1 0h0m1 0h0m2 0h0m0 0h0m2 0h0m2 0h0m1 0h0m0 0h0m2 0h0m2 0h0m0 0h0m2 0h0m15 0h0m-26 1h0m4 0h0m2 0h0m0 0h0m8 0h0m5 0h0m-23 1h0m6 0h0m3 0h0m4 0h0m2 0h0m0 0h0m1 0h0m0 0h0m2 0h0m-15 1h0m1 0h0m5 0h0m12 0h0m20 0h0m-44 1h0m2 1h0m1 0h0m1 0h0m2 0h0m2 0h0m2 0h0m-9 1h0m2 0h0m2 0h0m4 0h0m3 0h0m4 0h0m14 0h0m-29 1h0m2 0h0m1 0h0m1 0h0m0 0h0m5 0h0m3 0h0m5 0h0m9 0h0m-21 1h0m18 0h0m-20 1h0m1 0h0m88 0h0m-92 1h0m3 0h0m1 0h0m0 0h0m1 0h0m1 0h0m4 0h0m0 0h0m-7 1h0m1 0h0m4 0h0m1 0h0m3 0h0m21 0h0m3 0h0m14 0h0m1 0h0m-47 1h0m21 0h0m-22 1h0m4 0h0m-3 1h0m15 0h0m-3 1h0m10 2h0m-14 1h0"/>
<path d="M1031 75h0m-5 1h0m-4 2h0m10 0h0m-3 4h0m0 0h0m-5 1h0m1 1h0m2 0h0m0 0h0m-12 1h0m6 0h0m1 0h0m4 0h0m2 0h0m2 0h0m-4 1h0m8 0h0m-12 1h0m4 0h0m-13 1h0m10 0h0m-6 1h0m2 0h0m5 0h0m-10 1h0m3 0h0m1 0h0m1 0h0m3 0h0m-12 1h0m10 0h0m1 0h0m1 0h0m0 0h0m0 0h0m0 0h0m2 0h0m1 0h0m-5 2h0m1 0h0m-29 1h0m18 0h0m5 0h0m13 0h0m-14 1h0m0 0h0m1 0h0m2 0h0m0 0h0m2 0h0m2 0h0m-10 1h0m1 0h0m0 0h0m2 0h0m1 0h0m1 0h0m0 0h0m2 0h0m0 0h0m0 0h0m1 0h0m0 0h0m1 0h0m1 0h0m-9 1h0m2 0h0m1 0h0m0 0h0m1 0h0m3 0h0m-11 1h0m4 0h0m0 0h0m1 0h0m1 0h0m2 0h0m0 0h0m0 0h0m5 0h0m4 0h0m-31 1h0m11 0h0m5 0h0m2 0h0m0 0h0m1 0h0m0 0h0m5 0h0m3 0h0m-9 1h0m5 0h0m-12 1h0m5 0h0m2 0h0m1 0h0m0 0h0m0 0h0m5 0h0m2 0h0m-14 1h0m4 0h0m3 0h0m4 0h0m-28 1h0m12 0h0m6 0h0m2 0h0m3 0h0m1 0h0m5 0h0m-9 1h0m3 0h0m1 0h0m0 0h0m0 0h0m1 0h0m0 0h0m4 0h0m8 0h0m-82 1h0m63 0h0m2 0h0m0 0h0m0 0h0m1 0h0m0 0h0m1 0h0m1 0h0m0 0h0m2 0h0m-7 1h0m1 0h0m3 0h0m1 0h0m0 0h0m2 0h0m-11 1h0m1 0h0m0 0h0m1 0h0m0 0h0m0 0h0m1 0h0m1 0h0m1 0h0m0 0h0m1 0h0m2 0h0m2 0h0m1 0h0m1 0h0m0 0h0m25 0h0m-108 1h0m70 0h0m9 0h0m-11 1h0m9 0h0m1 0h0m-9 1h0m5 0h0m0 0h0m1 0h0m0 0h0m1 0h0m0 0h0m1 0h0m0 0h0m1 0h0m-13 1h0m2 0h0m5 0h0m5 0h0m2 0h0m1 0h0m-9 1h0m0 0h0m0 0h0m1 0h0m1 0h0m1 0h0m3 0h0m1 0h0m-8 1h0m0 0h0m1 0h0m3 0h0m4 0h0m0 0h0m-14 1h0m7 0h0m1 0h0m0 0h0m0 0h0m0 0h0m2 0h0m1 0h0m3 0h0m-33 1h0m18 0h0m4 0h0m2 0h0m2 0h0m3 0h0m2 0h0m2 0h0m-14 1h0m1 0h0m1 0h0m2 0h0m1 0h0m2 0h0m10 0h0m-15 1h0m2 0h0m1 0h0m0 0h0m2 0h0m4 0h0m0 0h0m-22 1h0m1 0h0m9 0h0m2 0h0m2 0h0m0 0h0m1 0h0m0 0h0m1 0h0m1 0h0m1 0h0m2 0h0m-29 1h0m16 0h0m2 0h0m3 0h0m0 0h0m3 0h0m3 0h0m0 0h0m1 0h0m-10 1h0m0 0h0m0 0h0m2 0h0m1 0h0m0 0h0m2 0h0m0 0h0m6 0h0m6 0h0m-19 1h0m2 0h0m1 0h0m1 0h0m1 0h0m1 0h0m0 0h0m-13 1h0m8 0h0m5 0h0m1 0h0m2 0h0m1 0h0m2 0h0m8 0h0m20 0h0m-43 1h0m1 0h0m1 0h0m4 0h0m1 0h0m2 0h0m1 0h0m0 0h0m1 0h0m-7 1h0m1 0h0m2 0h0m0 0h0m1 0h0m1 0h0m1 0h0m4 0h0m4 0h0m0 0h0m12 0h0m-35 1h0m9 0h0m4 0h0m2 0h0m0 0h0m-8 1h0m1 0h0m2 0h0m2 0h0m1 0h0m0 0h0m18 0h0m-22 1h0m4 0h0m1 0h0m1 0h0m2 0h0m-11 1h0m1 0h0m0 0h0m0 0h0m1 0h0m3 0h0m4 0h0m-11 1h0m0 0h0m2 0h0m1 0h0m0 0h0m2 0h0m-11 1h0m8 0h0m1 0h0m0 0h0m2 0h0m0 0h0m3 0h0m-15 1h0m3 0h0m1 0h0m3 0h0m2 0h0m2 0h0m1 0h0m2 0h0m10 0h0m3 0h0m-34 1h0m11 0h0m6 0h0m1 0h0m0 0h0m2 0h0m0 0h0m2 0h0m0 0h0m3 0h0m1 0h0m-19 1h0m4 0h0m2 0h0m3 0h0m0 0h0m1 0h0m1 0h0m0 0h0m-9 1h0m1 0h0m1 0h0m2 0h0m0 0h0m0 0h0m1 0h0m0 0h0m0 0h0m4 0h0m1 0h0m1 0h0m26 0h0m-67 1h0m28 0h0m3 0h0m0 0h0m1 0h0m3 0h0m1 0h0m1 0h0m6 0h0m1 0h0m-20 1h0m1 0h0m1 0h0m3 0h0m2 0h0m1 0h0m0 0h0m1 0h0m0 0h0m3 0h0m0 0h0m2 0h0m2 0h0m-42 1h0m29 0h0m1 0h0m0 0h0m1 0h0m1 0h0m2 0h0m0 0h0m5 0h0m-11 1h0m0 0h0m2 0h0m1 0h0m0 0h0m3 0h0m1 0h0m1 0h0m1 0h0m1 0h0m0 0h0m1 0h0m9 0h0m3 0h0m32 0h0m-66 1h0m10 0h0m5 0h0m0 0h0m4 0h0m1 0h0m0 0h0m1 0h0m8 0h0m2 0h0m-22 1h0m4 0h0m0 0h0m1 0h0m0 0h0m2 0h0m1 0h0m1 0h0m-16 1h0m8 0h0m2 0h0m8 0h0m1 0h0m1 0h0m-27 1h0m15 0h0m0 0h0m0 0h0m2 0h0m0 0h0m10 0h0m-23 1h0m9 0h0m1 0h0m0 0h0m0 0h0m2 0h0m1 0h0m0 0h0m1 0h0m1 0h0m5 0h0m2 0h0m7 0h0m-21 1h0m2 0h0m1 0h0m1 0h0m7 0h0m-8 1h0m3 0h0m4 0h0m-19 1h0m6 0h0m1 0h0m3 0h0m0 0h0m0 0h0m5 0h0m2 0h0m-15 1h0m1 0h0m1 0h0m2 0h0m3 0h0m0 0h0m1 0h0m1 0h0m5 0h0m11 0h0m-21 1h0m4 0h0m2 0h0m1 0h0m0 0h0m-128 1h0m120 0h0m5 0h0m9 0h0m-13 1h0m0 0h0m2 0h0m2 0h0m3 0h0m2 0h0m-11 1h0m1 0h0m3 0h0m-7 1h0m4 0h0m0 0h0m3 0h0m0 0h0m3 0h0m1 0h0m1 0h0m-11 1h0m2 0h0m1 0h0m4 0h0m-3 1h0m0 0h0m1 0h0m1 0h0m1 0h0m-27 1h0m17 0h0m0 0h0m5 0h0m2 0h0m2 0h0m0 0h0m-14 1h0m6 0h0m2 0h0m0 0h0m1 0h0m1 0h0m9 0h0m-16 1h0m4 0h0m1 0h0m3 0h0m0 0h0m4 0h0m1 0h0m-13 1h0m5 0h0m0 0h0m4 0h0m0 0h0m4 0h0m-8 1h0m0 0h0m1 0h0m1 0h0m0 0h0m2 0h0m3 0h0m1 0h0m-21 1h0m6 0h0m6 0h0m3 0h0m0 0h0m1 0h0m0 0h0m0 0h0m1 0h0m-16 1h0m7 0h0m2 0h0m1 0h0m0 0h0m0 0h0m1 0h0m1 0h0m1 0h0m-21 1h0m5 0h0m10 0h0m1 0h0m7 0h0m1 0h0m1 0h0m-13 1h0m4 0h0m1 0h0m2 0h0m0 0h0m1 0h0m3 0h0m1 0h0m-24 1h0m11 0h0m2 0h0m7 0h0m8 0h0m-57 1h0m37 0h0m3 0h0m9 0h0m1 0h0m-11 1h0m3 0h0m0 0h0m1 0h0m3 0h0m3 0h0m-17 1h0m7 0h0m0 0h0m1 0h0m3 0h0m6 0h0m1 0h0m1 0h0m2 0h0m1 0h0m-14 1h0m1 0h0m1 0h0m0 0h0m1 0h0m0 0h0m5 0h0m2 0h0m0 0h0m-40 1h0m32 0h0m0 0h0m1 0h0m1 0h0m4 0h0m1 0h0m0 0h0m1 0h0m-108 1h0m41 0h0m36 0h0m12 0h0m3 0h0m2 0h0m1 0h0m1 0h0m0 0h0m1 0h0m2 0h0m0 0h0m5 0h0m-11 1h0m1 0h0m5 0h0m25 0h0m-35 1h0m2 0h0m2 0h0m3 0h0m1 0h0m2 0h0m37 0h0m-46 1h0m3 0h0m9 0h0m0 0h0m0 0h0m1 0h0m2 0h0m-14 1h0m2 0h0m2 0h0m3 0h0m6 0h0m6 0h0m-62 1h0m38 0h0m5 0h0m3 0h0m2 0h0m2 0h0m3 0h0m2 0h0m10 0h0m-24 1h0m4 0h0m0 0h0m0 0h0m2 0h0m1 0h0m0 0h0m1 0h0m3 0h0m7 0h0m-23 1h0m5 0h0m1 0h0m0 0h0m2 0h0m1 0h0m3 0h0m1 0h0m0 0h0m4 0h0m-27 1h0m15 0h0m1 0h0m1 0h0m0 0h0m4 0h0m2 0h0m-11 1h0m5 0h0m6 0h0m1 0h0m0 0h0m1 0h0m1 0h0m3 0h0m-16 1h0m3 0h0m3 0h0m1 0h0m0 0h0m2 0h0m4 0h0m2 0h0m-27 1h0m8 0h0m12 0h0m1 0h0m0 0h0m0 0h0m-12 1h0m1 0h0m1 0h0m1 0h0m6 0h0m6 0h0m1 0h0m-12 1h0m1 0h0m1 0h0m1 0h0m1 0h0m1 0h0m2 0h0m8 0h0m-16 1h0m1 0h0m3 0h0m6 0h0m2 0h0m6 0h0m-28 1h0m5 0h0m1 0h0m2 0h0m1 0h0m1 0h0m0 0h0m3 0h0m0 0h0m35 0h0m-66 1h0m1 0h0m22 0h0m2 0h0m2 0h0m1 0h0m0 0h0m8 0h0m0 0h0m10 0h0m-32 1h0m6 0h0m4 0h0m3 0h0m2 0h0m4 0h0m-3 1h0m42 0h0m-71 1h0m12 0h0m13 0h0m1 0h0m0 0h0m0 0h0m-13 1h0m4 0h0m1 0h0m2 0h0m1 0h0m4 0h0m0 0h0m6 0h0m51 0h0m-114 1h0m33 0h0m17 0h0m2 0h0m2 0h0m1 0h0m1 0h0m1 0h0m1 0h0m2 0h0m0 0h0m-12 1h0m4 0h0m1 0h0m2 0h0m0 0h0m2 0h0m3 0h0m1 0h0m1 0h0m-13 1h0m5 0h0m0 0h0m1 0h0m-26 1h0m19 0h0m5 0h0m0 0h0m7 0h0m-32 1h0m22 0h0m2 0h0m1 0h0m2 0h0m0 0h0m4 0h0m12 0h0m-43 1h0m24 0h0m3 0h0m-26 1h0m15 0h0m6 0h0m1 0h0m1 0h0m0 0h0m-8 1h0m1 0h0m1 0h0m1 0h0m4 0h0m8 0h0m3 0h0m-93 1h0m52 0h0m1 0h0m22 0h0m1 0h0m1 0h0m3 0h0m1 0h0m0 0h0m2 0h0m-13 1h0m2 0h0m1 0h0m1 0h0m6 0h0m2 0h0m0 0h0m2 0h0m1 0h0m1 0h0m0 0h0m-66 1h0m50 0h0m1 0h0m3 0h0m1 0h0m1 0h0m0 0h0m4 0h0m1 0h0m1 0h0m7 0h0m10 0h0m-27 1h0m3 0h0m6 0h0m2 0h0m8 0h0m11 0h0m-75 1h0m42 0h0m5 0h0m1 0h0m4 0h0m0 0h0m3 0h0m12 0h0m-120 1h0m90 0h0m10 0h0m5 0h0m2 0h0m14 0h0m-20 1h0m0 0h0m3 0h0m0 0h0m12 0h0m-44 1h0m15 0h0m1 0h0m1 0h0m2 0h0m1 0h0m1 0h0m1 0h0m3 0h0m0 0h0m6 0h0m7 0h0m6 0h0m-79 1h0m59 0h0m3 0h0m1 0h0m1 0h0m22 0h0m-22 1h0m-79 1h0m73 0h0m2 0h0m1 0h0m1 0h0m0 0h0m1 0h0m1 0h0m3 0h0m19 0h0m-48 1h0m17 0h0m5 0h0m2 0h0m2 0h0m-52 1h0m41 0h0m3 0h0m2 0h0m1 0h0m1 0h0m2 0h0m3 0h0m10 0h0m2 0h0m21 0h0m-55 1h0m10 0h0m1 0h0m5 0h0m1 0h0m3 0h0m0 0h0m5 0h0m7 0h0m5 0h0m-48 1h0m9 0h0m6 0h0m2 0h0m2 0h0m2 0h0m1 0h0m1 0h0m2 0h0m5 0h0m3 0h0m11 0h0m-32 1h0m8 0h0m4 0h0m2 0h0m8 0h0m5 0h0m1 0h0m-32 1h0m6 0h0m6 0h0m2 0h0m4 0h0m0 0h0m1 0h0m3 0h0m0 0h0m1 0h0m-17 1h0m4 0h0m5 0h0m1 0h0m3 0h0m1 0h0m5 0h0m-16 1h0m3 0h0m2 0h0m1 0h0m3 0h0m0 0h0m2 0h0m1 0h0m3 0h0m2 0h0m-23 1h0m10 0h0m3 0h0m3 0h0m1 0h0m1 0h0m0 0h0m0 0h0m-18 1h0m9 0h0m4 0h0m3 0h0m0 0h0m3 0h0m6 0h0m10 0h0m-33 1h0m3 0h0m2 0h0m5 0h0m3 0h0m2 0h0m1 0h0m-13 1h0m6 0h0m0 0h0m1 0h0m0 0h0m1 0h0m4 0h0m4 0h0m-29 1h0m15 0h0m5 0h0m0 0h0m2 0h0m0 0h0m-9 1h0m2 0h0m2 0h0m0 0h0m5 0h0m8 0h0m-54 1h0m35 0h0m3 0h0m0 0h0m4 0h0m35 0h0m-100 1h0m54 0h0m0 0h0m4 0h0m3 0h0m2 0h0m2 0h0m5 0h0m-20 1h0m3 0h0m3 0h0m3 0h0m9 0h0m-13 1h0m3 0h0m2 0h0m0 0h0m1 0h0m2 0h0m4 0h0m2 0h0m-25 1h0m7 0h0m2 0h0m0 0h0m3 0h0m2 0h0m3 0h0m7 0h0m-30 1h0m9 0h0m7 0h0m6 0h0m1 0h0m4 0h0m4 0h0m1 0h0m3 0h0m0 0h0m5 0h0m1 0h0m-55 1h0m21 0h0m6 0h0m2 0h0m4 0h0m1 0h0m3 0h0m4 0h0m-32 1h0m16 0h0m3 0h0m1 0h0m12 0h0m2 0h0m7 0h0m8 0h0m-41 1h0m0 0h0m5 0h0m5 0h0m2 0h0m1 0h0m0 0h0m3 0h0m19 0h0m-29 1h0m4 0h0m2 0h0m4 0h0m0 0h0m1 0h0m1 0h0m3 0h0m-18 1h0m13 0h0m3 0h0m6 0h0m4 0h0m25 0h0m-81 1h0m27 0h0m6 0h0m4 0h0m4 0h0m2 0h0m-13 1h0m8 0h0m6 0h0m-19 1h0m3 0h0m3 0h0m1 0h0m6 0h0m3 0h0m6 0h0m4 0h0m1 0h0m-40 1h0m25 0h0m4 0h0m4 0h0m1 0h0m8 0h0m-36 1h0m14 0h0m0 0h0m3 0h0m3 0h0m4 0h0m2 0h0m26 0h0m-53 1h0m8 0h0m8 0h0m7 0h0m34 0h0m-51 1h0m6 0h0m1 0h0m7 0h0m1 0h0m3 0h0m2 0h0m-14 1h0m1 0h0m0 0h0m1 0h0m3 0h0m1 0h0m3 0h0m2 0h0m69 0h0m-112 1h0m31 0h0m1 0h0m2 0h0m1 0h0m9 0h0m-9 1h0m2 0h0m3 0h0m4 0h0m2 0h0m1 0h0m-20 1h0m3 0h0m2 0h0m1 0h0m9 0h0m-18 1h0m2 0h0m5 0h0m1 0h0m4 0h0m5 0h0m29 0h0m-42 1h0m8 0h0m3 0h0m-23 1h0m21 0h0m-39 1h0m21 0h0m4 0h0m10 0h0m0 0h0m1 0h0m0 0h0m5 0h0m-13 1h0m0 0h0m1 0h0m3 0h0m2 0h0m-165 1h0m144 0h0m8 0h0m8 0h0m1 0h0m2 0h0m1 0h0m1 0h0m2 0h0m0 0h0m5 0h0m4 0h0m-57 1h0m24 0h0m14 0h0m4 0h0m2 0h0m3 0h0m3 0h0m13 0h0m-34 1h0m3 0h0m6 0h0m0 0h0m11 0h0m17 0h0m-29 1h0m3 0h0m2 0h0m1 0h0m7 0h0m12 0h0m-41 1h0m15 0h0m2 0h0m4 0h0m1 0h0m3 0h0m3 0h0m-25 1h0m6 0h0m4 0h0m14 0h0m6 0h0m-18 1h0m5 0h0m15 0h0m8 0h0m-56 1h0m11 0h0m3 0h0m7 0h0m1 0h0m9 0h0m2 0h0m1 0h0m9 0h0m-22 1h0m4 0h0m4 0h0m0 0h0m3 0h0m1 0h0m2 0h0m0 0h0m-31 1h0m2 0h0m17 0h0m3 0h0m3 0h0m3 0h0m1 0h0m11 0h0m3 0h0m3 0h0m-34 1h0m4 0h0m3 0h0m7 0h0m3 0h0m8 0h0m2 0h0m-13 1h0m1 0h0m3 0h0m2 0h0m2 0h0m-22 1h0m0 0h0m4 0h0m7 0h0m12 0h0m21 0h0m38 0h0m-82 1h0m3 0h0m2 0h0m2 0h0m0 0h0m-49 1h0m38 0h0m13 0h0m1 0h0m2 0h0m2 0h0m11 0h0m7 0h0m-34 1h0m1 0h0m1 0h0m8 0h0m1 0h0m0 0h0m2 0h0m-34 1h0m14 0h0m15 0h0m2 0h0m0 0h0m1 0h0m7 0h0m-71 1h0m48 0h0m6 0h0m2 0h0m0 0h0m8 0h0m0 0h0m15 0h0m-28 1h0m1 0h0m6 0h0m1 0h0m3 0h0m17 0h0m-28 1h0m1 0h0m7 0h0m2 0h0m3 0h0m1 0h0m7 0h0m-13 1h0m4 0h0m-98 1h0m28 0h0m66 0h0m1 0h0m1 0h0m3 0h0m3 0h0m15 0h0m20 0h0m24 0h0m-81 1h0m10 0h0m3 0h0m3 0h0m4 0h0m-22 1h0m9 0h0m0 0h0m4 0h0m-79 1h0m77 0h0m4 0h0m6 0h0m7 0h0m-34 1h0m16 0h0m3 0h0m2 0h0m0 0h0m-11 1h0m3 0h0m7 0h0m2 0h0m1 0h0m0 0h0m1 0h0m1 0h0m3 0h0m-31 1h0m11 0h0m5 0h0m3 0h0m0 0h0m2 0h0m2 0h0m13 0h0m-33 1h0m1 0h0m9 0h0m1 0h0m3 0h0m2 0h0m1 0h0m5 0h0m3 0h0m-73 1h0m35 0h0m21 0h0m6 0h0m8 0h0m1 0h0m6 0h0m3 0h0m10 0h0m35 0h0m-78 1h0m1 0h0m10 0h0m5 0h0m3 0h0m3 0h0m50 0h0m-85 1h0m17 0h0m5 0h0m1 0h0m5 0h0m3 0h0m5 0h0m12 0h0m-49 1h0m10 0h0m7 0h0m8 0h0m2 0h0m0 0h0m9 0h0m2 0h0m4 0h0m29 0h0m-55 1h0m2 0h0m1 0h0m0 0h0m4 0h0m1 0h0m1 0h0m7 0h0m5 0h0m-92 1h0m41 0h0m27 0h0m1 0h0m2 0h0m5 0h0m0 0h0m1 0h0m0 0h0m3 0h0m0 0h0m0 0h0m2 0h0m3 0h0m24 0h0m-33 1h0m1 0h0m0 0h0m27 0h0m-41 1h0m3 0h0m6 0h0m4 0h0m2 0h0m9 0h0m11 0h0m4 0h0m-28 1h0m1 0h0m2 0h0m2 0h0m0 0h0m3 0h0m0 0h0m3 0h0m2 0h0m3 0h0m2 0h0m1 0h0m-39 1h0m22 0h0m8 0h0m2 0h0m2 0h0m-25 1h0m8 0h0m11 0h0m1 0h0m0 0h0m7 0h0m-100 1h0m71 0h0m0 0h0m8 0h0m2 0h0m1 0h0m0 0h0m0 0h0m2 0h0m1 0h0m2 0h0m10 0h0m8 0h0m-28 1h0m1 0h0m5 0h0m6 0h0m-39 1h0m12 0h0m5 0h0m0 0h0m13 0h0m2 0h0m8 0h0m2 0h0m1 0h0m1 0h0m2 0h0m-39 1h0m26 0h0m13 0h0m1 0h0m0 0h0m-24 1h0m4 0h0m8 0h0m4 0h0m4 0h0m1 0h0m0 0h0m21 0h0m-64 1h0m10 0h0m7 0h0m6 0h0m1 0h0m3 0h0m8 0h0m13 0h0m-23 1h0m4 0h0m1 0h0m2 0h0m1 0h0m5 0h0m7 0h0m-16 1h0m-27 1h0m11 0h0m12 0h0m4 0h0m1 0h0m4 0h0m2 0h0m4 0h0m2 0h0m9 0h0m-22 1h0m4 0h0m13 0h0m-30 1h0m6 0h0m2 0h0m5 0h0m4 0h0m16 0h0m-27 1h0m6 0h0m1 0h0m1 0h0m1 0h0m-35 1h0m17 0h0m3 0h0m4 0h0m5 0h0m2 0h0m6 0h0m-19 1h0m13 0h0m3 0h0m2 0h0m1 0h0m1 0h0m1 0h0m-83 1h0m28 0h0m29 0h0m11 0h0m5 0h0m1 0h0m1 0h0m8 0h0m-106 1h0m87 0h0m12 0h0m3 0h0m6 0h0m-25 1h0m5 0h0m1 0h0m3 0h0m1 0h0m6 0h0m0 0h0m19 0h0m2 0h0m-40 1h0m1 0h0m5 0h0m5 0h0m0 0h0m4 0h0m-39 1h0m25 0h0m3 0h0m2 0h0m1 0h0m8 0h0m4 0h0m11 0h0m0 0h0m-29 1h0m1 0h0m1 0h0m3 0h0m-4 1h0m3 0h0m3 0h0m1 0h0m0 0h0m5 0h0m11 0h0m24 0h0m1 0h0m-81 1h0m19 0h0m3 0h0m5 0h0m10 0h0m1 0h0m4 0h0m1 0h0m2 0h0m0 0h0m0 0h0m0 0h0m3 0h0m10 0h0m11 0h0m-70 1h0m28 0h0m10 0h0m4 0h0m2 0h0m4 0h0m4 0h0m-29 1h0m0 0h0m5 0h0m8 0h0m1 0h0m10 0h0m3 0h0m2 0h0m1 0h0m1 0h0m2 0h0m-13 1h0m1 0h0m4 0h0m2 0h0m6 0h0m-75 1h0m60 0h0m3 0h0m7 0h0m49 0h0m-91 1h0m2 0h0m18 0h0m4 0h0m12 0h0m5 0h0m2 0h0m11 0h0m-54 1h0m9 0h0m10 0h0m8 0h0m4 0h0m8 0h0m2 0h0m1 0h0m-98 1h0m9 0h0m60 0h0m9 0h0m0 0h0m3 0h0m0 0h0m0 0h0m2 0h0m5 0h0m49 0h0m-67 1h0m5 0h0m5 0h0m1 0h0m1 0h0m3 0h0m5 0h0m4 0h0m6 0h0m4 0h0m-25 1h0m1 0h0m3 0h0m2 0h0m3 0h0m1 0h0m0 0h0m7 0h0m-115 1h0m68 0h0m12 0h0m11 0h0m2 0h0m1 0h0m9 0h0m3 0h0m1 0h0m1 0h0m2 0h0m1 0h0m-81 1h0m65 0h0m1 0h0m4 0h0m-14 1h0m9 0h0m6 0h0m10 0h0m7 0h0m-43 1h0m9 0h0m1 0h0m1 0h0m1 0h0m8 0h0m7 0h0m0 0h0m0 0h0m1 0h0m0 0h0m1 0h0m0 0h0m-21 1h0m6 0h0m8 0h0m2 0h0m1 0h0m1 0h0m0 0h0m1 0h0m4 0h0m3 0h0m-28 1h0m10 0h0m0 0h0m3 0h0m4 0h0m1 0h0m4 0h0m3 0h0m3 0h0m14 1h0m49 0h0m-123 1h0m35 0h0m3 0h0m2 0h0m35 0h0m-49 1h0m12 0h0m6 0h0m5 0h0m1 0h0m2 0h0m6 0h0m7 0h0m27 0h0m-53 1h0m1 0h0m5 0h0m6 0h0m1 0h0m-49 1h0m11 0h0m18 0h0m5 0h0m1 0h0m3 0h0m1 0h0m2 0h0m5 0h0m3 0h0m9 0h0m2 0h0m-35 1h0m7 0h0m1 0h0m8 0h0m1 0h0m33 0h0m-39 1h0m7 0h0m2 0h0m13 0h0m5 0h0m-36 1h0m9 0h0m7 0h0m0 0h0m9 0h0m31 0h0m-54 1h0m7 0h0m2 0h0m14 0h0m1 0h0m4 0h0m-15 1h0m1 0h0m0 0h0m4 0h0m0 0h0m1 0h0m1 0h0m10 0h0m12 0h0m-40 1h0m2 0h0m6 0h0m11 0h0m-63 1h0m21 0h0m3 0h0m13 0h0m7 0h0m5 0h0m3 0h0m4 0h0m6 0h0m5 0h0m5 0h0m-37 1h0m4 0h0m11 0h0m1 0h0m6 0h0m12 0h0m35 0h0m-86 1h0m13 0h0m5 0h0m7 0h0m4 0h0m1 0h0m3 0h0m3 0h0m-18 1h0m0 0h0m4 0h0m14 0h0m-43 1h0m13 0h0m30 0h0m5 0h0m4 0h0m-37 1h0m10 0h0m2 0h0m6 0h0m4 0h0m1 0h0m6 0h0m11 0h0m0 0h0m3 0h0m-35 1h0m5 0h0m1 0h0m9 0h0m-15 1h0m2 0h0m8 0h0m2 0h0m-14 1h0m1 0h0m4 0h0m7 0h0m0 0h0m4 0h0m-35 1h0m12 0h0m4 0h0m15 0h0m3 0h0m2 0h0m12 0h0m-33 1h0m6 0h0m1 0h0m13 0h0m-22 1h0m16 0h0m6 0h0m2 0h0m2 0h0m4 0h0m-68 1h0m29 0h0m6 0h0m9 0h0m5 0h0m3 0h0m11 0h0m-28 1h0m2 0h0m1 0h0m7 0h0m1 0h0m5 0h0m9 0h0m9 0h0m9 0h0m-35 1h0m1 0h0m2 0h0m4 0h0m2 0h0m8 0h0m10 0h0m-74 1h0m19 0h0m18 0h0m7 0h0m4 0h0m0 0h0m2 0h0m4 0h0m14 0h0m-15 1h0m0 0h0m1 0h0m5 0h0m2 0h0m1 0h0m4 0h0m12 0h0m-44 1h0m16 0h0m5 0h0m7 0h0m-17 1h0m5 0h0m1 0h0m10 0h0m-24 1h0m2 0h0m3 0h0m4 0h0m1 0h0m4 0h0m4 0h0m12 0h0m59 0h0m-108 1h0m35 0h0m26 0h0m-66 1h0m20 0h0m7 0h0m1 0h0m3 0h0m1 0h0m9 0h0m4 0h0m11 0h0m1 0h0m40 0h0m-59 1h0m3 0h0m9 0h0m4 0h0m10 0h0m13 0h0m-93 1h0m17 0h0m23 0h0m5 0h0m18 0h0m5 0h0m2 0h0m-55 1h0m29 0h0m3 0h0m0 0h0m7 0h0m1 0h0m1 0h0m9 0h0m-28 1h0m7 0h0m4 0h0m1 0h0m10 0h0m3 0h0m0 0h0m1 0h0m-18 1h0m0 0h0m3 0h0m4 0h0m1 0h0m0 0h0m5 0h0m3 0h0m-19 1h0m12 0h0m4 0h0m7 0h0m-32 1h0m12 0h0m4 0h0m4 0h0m-34 1h0m16 0h0m1 0h0m10 0h0m7 0h0m14 0h0m15 0h0m-54 1h0m0 0h0m7 0h0m10 0h0m6 0h0m2 0h0m1 0h0m7 0h0m-35 1h0m16 0h0m3 0h0m0 0h0m2 0h0m3 0h0m4 0h0m1 0h0m-16 1h0m1 0h0m3 0h0m2 0h0m6 0h0m-22 1h0m8 0h0m3 0h0m2 0h0m5 0h0m2 0h0m1 0h0m0 0h0m-19 1h0m5 0h0m4 0h0m10 0h0m2 0h0m22 0h0m0 0h0m-47 1h0m0 0h0m15 0h0m4 0h0m0 0h0m6 0h0m18 0h0m-65 1h0m20 0h0m14 0h0m6 0h0m1 0h0m13 0h0m-43 1h0m16 0h0m5 0h0m9 0h0m-17 1h0m0 0h0m6 0h0m3 0h0m-1 1h0m4 0h0m1 0h0m2 0h0m17 0h0m1 0h0m-43 1h0m3 0h0m26 0h0m1 0h0m3 0h0m2 0h0m5 0h0m-81 1h0m53 0h0m2 0h0m3 0h0m15 0h0m6 0h0m-46 1h0m3 0h0m10 0h0m8 0h0m8 0h0m2 0h0m1 0h0m1 0h0m2 0h0m1 0h0m-18 1h0m7 0h0m0 0h0m22 0h0m-34 1h0m2 0h0m0 0h0m9 0h0m7 0h0m2 0h0m0 0h0m1 0h0m0 0h0m-21 1h0m0 0h0m0 0h0m6 0h0m3 0h0m3 0h0m1 0h0m-18 1h0m4 0h0m11 0h0m0 0h0m2 0h0m2 0h0m-23 1h0m6 0h0m4 0h0m5 0h0m6 0h0m1 0h0m4 0h0m1 0h0m8 0h0m-25 1h0m0 0h0m2 0h0m3 0h0m4 0h0m0 0h0m1 0h0m1 0h0m15 0h0m12 0h0m-48 1h0m8 0h0m8 0h0m3 0h0m3 0h0m1 0h0m6 0h0m-43 1h0m27 0h0m8 0h0m3 0h0m4 0h0m8 0h0m3 0h0m24 0h0m-48 1h0m1 0h0m0 0h0m2 0h0m18 0h0m-29 1h0m7 0h0m14 0h0m3 0h0m0 0h0m-22 1h0m2 0h0m1 0h0m5 0h0m26 0h0m-51 1h0m0 0h0m5 0h0m0 0h0m8 0h0m5 0h0m0 0h0m0 0h0m1 0h0m6 0h0m-16 1h0m5 0h0m12 0h0m7 0h0m-33 1h0m17 0h0m3 0h0m31 0h0m-47 1h0m9 0h0m9 0h0m1 0h0m0 0h0m1 0h0m1 0h0m1 0h0m7 0h0m1 0h0m-47 1h0m17 0h0m0 0h0m2 0h0m4 0h0m2 0h0m7 0h0m21 0h0m-47 1h0m13 0h0m16 0h0m1 0h0m3 0h0m3 0h0m11 0h0m-51 1h0m0 0h0m11 0h0m1 0h0m0 0h0m7 0h0m2 0h0m0 0h0m4 0h0m1 0h0m5 0h0m0 0h0m6 0h0m-56 1h0m17 0h0m26 0h0m9 0h0m2 0h0m-51 1h0m17 0h0m2 0h0m11 0h0m2 0h0m5 0h0m1 0h0m6 0h0m0 0h0m9 0h0m129 0h0m-208 1h0m28 0h0m14 0h0m6 0h0m1 0h0m1 0h0m4 0h0m17 0h0m1 0h0m1 0h0m14 0h0m3 0h0m-49 1h0m3 0h0m5 0h0m10 0h0m3 0h0m3 0h0m1 0h0m1 0h0m17 0h0m10 0h0m4 0h0m-59 1h0m21 0h0m15 0h0m-30 1h0m7 0h0m3 0h0m8 0h0m2 0h0m3 0h0m0 0h0m5 0h0m3 0h0m-33 1h0m19 0h0m10 0h0m-39 1h0m10 0h0m15 0h0m6 0h0m6 0h0m10 0h0m-66 1h0m30 0h0m1 0h0m8 0h0m4 0h0m14 0h0m9 0h0m-78 1h0m53 0h0m5 0h0m2 0h0m20 0h0m-66 1h0m34 0h0m2 0h0m1 0h0m1 0h0m0 0h0m1 0h0m2 0h0m5 0h0m7 0h0m-55 1h0m32 0h0m2 0h0m9 0h0m4 0h0m1 0h0m7 0h0m4 0h0m-34 1h0m21 0h0m2 0h0m8 0h0m3 0h0m13 0h0m15 0h0m-59 1h0m10 0h0m7 0h0m1 0h0m8 0h0m0 0h0m0 0h0m-25 1h0m8 0h0m1 0h0m2 0h0m5 0h0m4 0h0m4 0h0m2 0h0m-29 1h0m8 0h0m10 0h0m0 0h0m1 0h0m1 0h0m1 0h0m0 0h0m-20 1h0m1 0h0m0 0h0m10 0h0m1 0h0m3 0h0m4 0h0m4 0h0m6 0h0m5 0h0m-50 1h0m35 0h0m0 0h0m31 0h0m-54 1h0m0 0h0m2 0h0m11 0h0m2 0h0m4 0h0m3 0h0m0 0h0m0 0h0m3 0h0m6 0h0m3 0h0m11 0h0m4 0h0m-49 1h0m12 0h0m4 0h0m3 0h0m1 0h0m8 0h0m1 0h0m3 0h0m10 0h0m1 0h0m-34 1h0m0 0h0m4 0h0m14 0h0m10 0h0m-64 1h0m27 0h0m9 0h0m2 0h0m0 0h0m11 0h0m2 0h0m2 0h0m13 0h0m13 0h0m-44 1h0m1 0h0m3 0h0m6 0h0m1 0h0m1 0h0m4 0h0m5 0h0m11 0h0m18 0h0m-56 1h0m3 0h0m6 0h0m5 0h0m1 0h0m2 0h0m-38 1h0m14 0h0m1 0h0m4 0h0m13 0h0m2 0h0m7 0h0m126 0h0m-155 1h0m8 0h0m4 0h0m6 0h0m1 0h0m1 0h0m1 0h0m0 0h0m10 0h0m11 0h0m-82 1h0m47 0h0m2 0h0m2 0h0m6 0h0m3 0h0m1 0h0m4 0h0m4 0h0m-47 1h0m13 0h0m5 0h0m3 0h0m8 0h0m0 0h0m1 0h0m11 0h0m2 0h0m2 0h0m3 0h0m0 0h0m10 0h0m-26 1h0m1 0h0m1 0h0m2 0h0m-47 1h0m28 0h0m18 0h0m0 0h0m2 0h0m0 0h0m2 0h0m1 0h0m9 0h0m-33 1h0m1 0h0m17 0h0m0 0h0m9 0h0m1 0h0m0 0h0m1 0h0m1 0h0m2 0h0m11 0h0m21 0h0m-60 1h0m1 0h0m7 0h0m1 0h0m4 0h0m0 0h0m5 0h0m1 0h0m3 0h0m6 0h0m6 0h0m-49 1h0m18 0h0m24 0h0m8 0h0m9 0h0m-47 1h0m7 0h0m3 0h0m11 0h0m0 0h0m13 0h0m10 0h0m15 0h0m-58 1h0m1 0h0m5 0h0m1 0h0m2 0h0m1 0h0m2 0h0m1 0h0m7 0h0m4 0h0m2 0h0m5 0h0m11 0h0m-42 1h0m8 0h0m0 0h0m3 0h0m2 0h0m1 0h0m4 0h0m5 0h0m2 0h0m17 0h0m8 0h0m-73 1h0m20 0h0m1 0h0m11 0h0m4 0h0m0 0h0m2 0h0m1 0h0m-23 1h0m6 0h0m6 0h0m4 0h0m2 0h0m1 0h0m2 0h0m6 0h0m14 0h0m-43 1h0m1 0h0m17 0h0m1 0h0m8 0h0m0 0h0m-33 1h0m13 0h0m10 0h0m1 0h0m6 0h0m-24 1h0m4 0h0m2 0h0m7 0h0m5 0h0m0 0h0m1 0h0m1 0h0m2 0h0m0 0h0m5 0h0m2 0h0m-7 1h0m2 0h0m1 0h0m7 0h0m0 0h0m1 0h0m-44 1h0m2 0h0m20 0h0m5 0h0m-13 1h0m12 0h0m3 0h0m3 0h0m5 0h0m3 0h0m1 0h0m18 0h0m24 0h0m-73 1h0m10 0h0m0 0h0m1 0h0m17 0h0m11 0h0m36 0h0m-84 1h0m14 0h0m5 0h0m0 0h0m2 0h0m-10 1h0m7 0h0m9 0h0m-38 1h0m20 0h0m2 0h0m5 0h0m-24 1h0m6 0h0m3 0h0m10 0h0m5 0h0m1 0h0m3 0h0m2 0h0m1 0h0m1 0h0m2 0h0m3 1h0m9 0h0m-25 1h0m2 0h0m1 0h0m1 0h0m5 0h0m1 0h0m0 0h0m-7 1h0m9 0h0m0 0h0m7 0h0m6 0h0m-52 1h0m23 0h0m0 0h0m2 0h0m0 0h0m3 0h0m2 0h0m0 0h0m6 0h0m10 0h0m-34 1h0m1 0h0m1 0h0m1 0h0m7 0h0m1 0h0m45 0h0m-78 1h0m12 0h0m21 0h0m3 0h0m1 0h0m4 0h0m1 0h0m3 0h0m1 0h0m1 0h0m2 0h0m11 0h0m-36 1h0m9 0h0m1 0h0m9 0h0m2 0h0m3 0h0m2 0h0m-50 1h0m28 0h0m1 0h0m6 0h0m1 0h0m5 0h0m4 0h0m3 0h0m6 0h0m2 0h0m14 0h0m-34 1h0m3 0h0m1 0h0m7 0h0m5 0h0m-31 1h0m5 0h0m1 0h0m2 0h0m2 0h0m0 0h0m2 0h0m1 0h0m1 0h0m12 0h0m11 0h0m8 0h0m1 0h0m-36 1h0m6 0h0m8 0h0m4 0h0m7 0h0m2 0h0m-22 1h0m1 0h0m5 0h0m2 0h0m0 0h0m4 0h0m4 0h0m2 0h0m23 0h0m-55 1h0m8 0h0m0 0h0m9 0h0m2 0h0m2 0h0m2 0h0m6 0h0m1 0h0m24 0h0m-48 1h0m1 0h0m1 0h0m26 0h0m-38 1h0m0 0h0m17 0h0m1 0h0m1 0h0m4 0h0m2 0h0m24 0h0m-47 1h0m4 0h0m2 0h0m10 0h0m2 0h0m2 0h0m-44 1h0m21 0h0m4 0h0m2 0h0m3 0h0m5 0h0m5 0h0m1 0h0m2 0h0m1 0h0m1 0h0m3 0h0m11 0h0m19 0h0m-74 1h0m26 0h0m2 0h0m0 0h0m6 0h0m-24 1h0m3 0h0m15 0h0m8 0h0m7 0h0m2 0h0m7 0h0m-31 1h0m1 0h0m6 0h0m1 0h0m5 0h0m0 0h0m9 0h0m19 0h0m-64 1h0m8 0h0m8 0h0m2 0h0m3 0h0m8 0h0m1 0h0m11 0h0m56 0h0m-101 1h0m13 0h0m5 0h0m12 0h0m2 0h0m1 0h0m0 0h0m9 0h0m3 0h0m5 0h0m1 0h0m4 0h0m-29 1h0m1 0h0m7 0h0m6 0h0m0 0h0m2 0h0m0 0h0m4 0h0m1 0h0m15 0h0m-47 1h0m9 0h0m5 0h0m3 0h0m5 0h0m0 0h0m0 0h0m14 0h0m-37 1h0m27 0h0m2 0h0m21 0h0m-58 1h0m6 0h0m7 0h0m9 0h0m8 0h0m30 0h0m-39 1h0m2 0h0m1 0h0m3 0h0m5 0h0m1 0h0m1 0h0m1 0h0m0 0h0m1 0h0m0 0h0m1 0h0m4 0h0m7 0h0m-37 1h0m14 0h0m3 0h0m1 0h0m4 0h0m2 0h0m27 0h0m-46 1h0m3 0h0m5 0h0m11 0h0m2 0h0m6 1h0m11 0h0m-51 1h0m17 0h0m3 0h0m5 0h0m2 0h0m4 0h0m2 0h0m8 0h0m-45 1h0m0 0h0m23 0h0m3 0h0m11 0h0m47 0h0m-73 1h0m1 0h0m2 0h0m7 0h0m6 0h0m2 0h0m10 0h0m16 0h0m-52 1h0m13 0h0m3 0h0m2 0h0m10 0h0m5 0h0m20 0h0m11 0h0m-42 1h0m3 0h0m16 0h0m9 0h0m-42 1h0m5 0h0m13 0h0m5 0h0m4 0h0m-26 1h0m4 0h0m8 0h0m2 0h0m5 0h0m-21 1h0m1 0h0m10 0h0m9 0h0m-28 1h0m11 0h0m4 0h0m-14 1h0m6 0h0m3 0h0m1 0h0m4 0h0m2 0h0m0 0h0m4 0h0m0 0h0m-16 1h0m1 0h0m2 0h0m1 0h0m3 0h0m0 0h0m3 0h0m1 0h0m6 0h0m3 0h0m1 0h0m3 0h0m4 0h0m-28 1h0m3 0h0m4 0h0m2 0h0m2 0h0m2 0h0m3 0h0m1 0h0m5 0h0m4 0h0m7 0h0m-39 1h0m4 0h0m2 0h0m5 0h0m1 0h0m1 0h0m2 0h0m8 0h0m-18 1h0m4 0h0m6 0h0m1 0h0m1 0h0m6 0h0m7 0h0m5 0h0m1 0h0m1 0h0m3 0h0m-34 1h0m5 0h0m4 0h0m4 0h0m1 0h0m23 0h0m-47 1h0m9 0h0m12 0h0m1 0h0m7 0h0m0 0h0m-15 1h0m2 0h0m2 0h0m3 0h0m0 0h0m0 0h0m2 0h0m0 0h0m13 0h0m4 0h0m-28 1h0m5 0h0m3 0h0m7 0h0m-22 1h0m8 0h0m2 0h0m10 0h0m-19 1h0m1 0h0m0 0h0m5 0h0m1 0h0m1 0h0m5 0h0m8 0h0m-25 1h0m6 0h0m1 0h0m1 0h0m1 0h0m4 0h0m7 0h0m14 0h0m-37 1h0m4 0h0m0 0h0m14 0h0m2 0h0m2 0h0m8 0h0m-23 1h0m6 0h0m7 0h0m-3 1h0m5 0h0m9 0h0m-25 1h0m2 0h0m3 0h0m4 0h0m-12 1h0m9 0h0m3 0h0m9 0h0m20 0h0m-30 1h0m6 0h0m5 0h0m0 0h0m-25 1h0m4 0h0m7 0h0m0 0h0m1 0h0m4 0h0m1 0h0m1 0h0m2 0h0m3 0h0m-12 1h0m2 0h0m0 0h0m9 0h0m-17 1h0m20 0h0m4 0h0m-29 1h0m0 1h0m6 0h0m4 0h0m1 0h0m7 0h0m1 0h0m5 0h0m-25 1h0m4 0h0m2 0h0m2 0h0m3 0h0m1 0h0m1 0h0m-12 1h0m4 0h0m2 0h0m16 0h0m-21 1h0m3 0h0m2 0h0m0 0h0m1 0h0m1 0h0m1 0h0m9 0h0m5 0h0m-24 1h0m0 0h0m2 0h0m6 0h0m0 0h0m3 0h0m-2 1h0m3 0h0m0 0h0m4 0h0m25 0h0m-40 1h0m2 0h0m1 0h0m3 0h0m3 0h0m4 0h0m39 0h0m-52 1h0m1 0h0m7 0h0m-9 1h0m0 0h0m1 0h0m2 0h0m2 0h0m2 0h0m1 0h0m2 0h0m-8 1h0m1 0h0m0 0h0m0 0h0m5 0h0m8 0h0m7 0h0m-21 1h0m0 0h0m6 0h0m1 0h0m-6 1h0m2 0h0m4 0h0m12 0h0m-11 1h0m-7 1h0m1 0h0m4 1h0m11 0h0m-15 1h0m1 1h0m3 1h0m-1 1h0"/>
<path d="M1584 54h0m16 7h0m-15 1h0m-41 6h0m50 0h0m9 2h0m1 1h0m-12 1h0m2 1h0m1 0h0m2 0h0m1 0h0m1 1h0m0 0h0m2 0h0m-11 1h0m19 1h0m-20 1h0m8 0h0m3 0h0m-11 1h0m0 0h0m6 0h0m-4 1h0m4 0h0m2 0h0m-15 1h0m4 0h0m2 0h0m1 1h0m1 0h0m14 0h0m-13 1h0m5 1h0m-8 1h0m3 0h0m-5 1h0m5 0h0m-7 1h0m4 1h0m4 0h0m-30 2h0m23 0h0m1 0h0m-21 1h0m18 1h0m40 0h0m-40 1h0m-3 1h0m2 0h0m2 0h0m-4 1h0m3 0h0m1 0h0m4 0h0m-68 1h0m0 0h0m23 0h0m39 0h0m4 0h0m2 0h0m-14 1h0m3 0h0m8 0h0m-9 2h0m1 0h0m3 0h0m-6 1h0m2 0h0m1 0h0m2 0h0m0 0h0m6 0h0m-36 1h0m3 1h0m15 0h0m7 0h0m1 0h0m1 0h0m-2 1h0m3 0h0m-6 1h0m7 0h0m1 0h0m8 0h0m-15 1h0m2 0h0m2 0h0m1 0h0m-8 1h0m4 0h0m3 0h0m-39 1h0m33 0h0m6 0h0m1 0h0m-2 1h0m3 0h0m2 0h0m-94 1h0m17 0h0m64 0h0m1 0h0m4 0h0m14 0h0m13 0h0m-38 1h0m8 0h0m4 0h0m3 0h0m2 0h0m-13 1h0m7 0h0m3 0h0m-10 1h0m5 0h0m0 0h0m5 0h0m2 0h0m-10 1h0m2 0h0m7 0h0m1 0h0m-20 1h0m1 0h0m9 0h0m2 0h0m2 0h0m-17 1h0m9 0h0m1 0h0m1 0h0m1 0h0m4 0h0m-11 2h0m9 0h0m-7 1h0m2 0h0m-4 1h0m1 0h0m2 0h0m1 0h0m0 0h0m2 0h0m-7 1h0m5 0h0m-15 1h0m5 0h0m6 0h0m1 0h0m1 0h0m1 0h0m6 0h0m-13 1h0m7 0h0m0 0h0m1 0h0m2 0h0m2 0h0m2 0h0m-84 1h0m53 0h0m11 0h0m12 0h0m1 0h0m2 0h0m-47 1h0m36 0h0m2 0h0m2 0h0m3 0h0m1 0h0m1 0h0m-7 1h0m3 0h0m3 0h0m1 0h0m4 0h0m-34 1h0m24 0h0m2 0h0m0 0h0m1 0h0m1 0h0m2 0h0m-15 1h0m6 0h0m3 0h0m10 0h0m-5 1h0m1 0h0m0 0h0m14 0h0m-30 1h0m7 0h0m1 0h0m4 0h0m2 0h0m2 0h0m-23 1h0m6 0h0m9 0h0m2 0h0m3 0h0m-11 1h0m3 0h0m0 0h0m7 0h0m2 0h0m-14 1h0m6 0h0m12 0h0m-16 1h0m14 0h0m10 0h0m-27 1h0m1 0h0m8 0h0m3 0h0m-9 1h0m7 0h0m0 0h0m0 0h0m1 0h0m1 0h0m-26 1h0m15 0h0m1 0h0m0 0h0m3 0h0m3 0h0m0 0h0m3 0h0m-13 1h0m1 0h0m5 0h0m14 0h0m-18 1h0m1 0h0m7 0h0m1 0h0m2 0h0m-15 1h0m0 0h0m6 0h0m0 0h0m0 0h0m11 0h0m-14 1h0m7 0h0m3 0h0m9 0h0m24 0h0m-56 1h0m0 0h0m14 0h0m1 0h0m2 0h0m1 0h0m0 0h0m6 0h0m2 0h0m-48 1h0m25 1h0m3 0h0m6 0h0m1 0h0m0 0h0m27 0h0m-41 1h0m9 0h0m5 0h0m6 0h0m2 0h0m2 0h0m22 0h0m10 0h0m-49 1h0m2 0h0m0 0h0m1 0h0m2 0h0m1 0h0m4 0h0m1 0h0m-22 1h0m16 0h0m3 0h0m4 0h0m-18 1h0m11 0h0m1 0h0m0 0h0m2 0h0m-8 1h0m1 0h0m1 0h0m0 0h0m1 0h0m13 0h0m-24 1h0m4 0h0m9 0h0m1 0h0m3 0h0m3 0h0m1 0h0m3 0h0m-18 1h0m8 0h0m2 0h0m1 0h0m23 0h0m-41 1h0m4 0h0m2 0h0m8 0h0m5 0h0m-64 1h0m54 0h0m0 0h0m3 0h0m1 0h0m1 0h0m4 0h0m0 0h0m0 0h0m-16 1h0m1 0h0m11 0h0m-6 1h0m1 0h0m0 0h0m3 0h0m3 0h0m8 0h0m-58 1h0m19 0h0m9 0h0m7 0h0m3 0h0m8 0h0m3 0h0m2 0h0m1 0h0m5 0h0m-18 1h0m1 0h0m1 0h0m32 0h0m4 0h0m-85 1h0m53 0h0m4 0h0m-59 1h0m62 0h0m8 0h0m-25 1h0m4 0h0m10 0h0m-25 1h0m10 0h0m1 0h0m3 0h0m0 0h0m3 0h0m2 0h0m-19 1h0m8 0h0m2 0h0m3 0h0m0 0h0m2 0h0m1 0h0m2 0h0m-15 1h0m8 0h0m0 0h0m5 0h0m1 0h0m2 0h0m0 0h0m1 0h0m9 0h0m6 0h0m-30 1h0m11 0h0m7 0h0m-29 1h0m13 0h0m6 0h0m4 0h0m4 0h0m23 0h0m-34 1h0m0 0h0m1 0h0m-16 1h0m13 0h0m7 0h0m1 0h0m2 0h0m0 0h0m-24 1h0m15 0h0m5 0h0m0 0h0m5 0h0m-16 1h0m2 0h0m1 0h0m4 0h0m2 0h0m24 0h0m13 0h0m-58 1h0m6 0h0m23 0h0m4 0h0m-36 1h0m14 0h0m4 0h0m1 0h0m0 0h0m3 0h0m21 0h0m-30 1h0m1 0h0m1 0h0m5 0h0m2 0h0m4 0h0m16 0h0m-29 1h0m11 0h0m3 0h0m2 0h0m-20 1h0m4 0h0m1 0h0m4 0h0m7 0h0m1 0h0m-29 1h0m9 0h0m3 0h0m7 0h0m0 0h0m1 0h0m5 0h0m6 0h0m-78 1h0m52 0h0m7 0h0m5 0h0m7 0h0m0 0h0m2 0h0m7 0h0m-27 1h0m6 0h0m12 0h0m-28 1h0m3 0h0m14 0h0m5 0h0m2 0h0m1 0h0m3 0h0m0 0h0m-23 1h0m4 0h0m2 0h0m8 0h0m6 0h0m1 0h0m22 0h0m-32 1h0m1 0h0m1 0h0m0 0h0m5 0h0m0 0h0m1 0h0m-56 1h0m39 0h0m15 0h0m9 0h0m-29 1h0m12 0h0m3 0h0m0 0h0m8 0h0m3 0h0m15 0h0m-52 1h0m12 0h0m14 0h0m1 0h0m9 0h0m23 0h0m-52 1h0m12 0h0m5 0h0m1 0h0m4 0h0m0 0h0m10 0h0m1 0h0m7 0h0m-38 1h0m13 0h0m0 0h0m0 0h0m1 0h0m1 0h0m1 0h0m0 0h0m-6 1h0m3 0h0m2 0h0m2 0h0m1 0h0m1 0h0m0 0h0m-36 1h0m25 0h0m4 0h0m3 0h0m3 0h0m3 0h0m3 0h0m5 0h0m5 0h0m52 0h0m-89 1h0m5 0h0m7 0h0m6 0h0m-13 1h0m9 0h0m1 0h0m3 0h0m2 0h0m0 0h0m0 0h0m3 0h0m1 0h0m63 0h0m-89 1h0m18 0h0m2 0h0m7 0h0m7 0h0m-91 1h0m16 0h0m56 0h0m6 0h0m4 0h0m24 0h0m-78 1h0m37 0h0m6 0h0m1 0h0m0 0h0m1 0h0m3 0h0m1 0h0m3 0h0m1 0h0m-151 1h0m78 0h0m49 0h0m17 0h0m2 0h0m9 0h0m-126 1h0m85 0h0m9 0h0m1 0h0m17 0h0m6 0h0m1 0h0m1 0h0m-24 1h0m2 0h0m2 0h0m12 0h0m3 0h0m2 0h0m-42 1h0m31 0h0m3 0h0m5 0h0m4 0h0m-30 1h0m12 0h0m10 0h0m0 0h0m2 0h0m0 0h0m1 0h0m1 0h0m1 0h0m3 0h0m-32 1h0m14 0h0m2 0h0m1 0h0m3 0h0m1 0h0m3 0h0m3 0h0m0 0h0m6 0h0m4 0h0m-42 1h0m20 0h0m1 0h0m5 0h0m2 0h0m0 0h0m1 0h0m0 0h0m5 0h0m4 0h0m4 0h0m26 0h0m-124 1h0m77 0h0m0 0h0m3 0h0m1 0h0m0 0h0m1 0h0m2 0h0m11 0h0m2 0h0m1 0h0m9 0h0m3 0h0m-55 1h0m4 0h0m16 0h0m3 0h0m4 0h0m1 0h0m0 0h0m4 0h0m0 0h0m5 0h0m-58 1h0m13 0h0m21 0h0m8 0h0m2 0h0m5 0h0m0 0h0m2 0h0m0 0h0m1 0h0m4 0h0m4 0h0m-138 1h0m113 0h0m8 0h0m4 0h0m2 0h0m6 0h0m-20 1h0m3 0h0m10 0h0m2 0h0m2 0h0m5 0h0m3 0h0m-24 1h0m4 0h0m2 0h0m3 0h0m8 0h0m4 0h0m4 0h0m4 0h0m-56 1h0m16 0h0m14 0h0m12 0h0m6 0h0m4 0h0m2 0h0m-101 1h0m66 0h0m9 0h0m2 0h0m3 0h0m6 0h0m1 0h0m1 0h0m7 0h0m22 0h0m-59 1h0m11 0h0m6 0h0m0 0h0m1 0h0m2 0h0m2 0h0m0 0h0m2 0h0m0 0h0m-7 1h0m9 0h0m-29 1h0m0 0h0m10 0h0m6 0h0m0 0h0m2 0h0m7 0h0m-43 1h0m17 0h0m1 0h0m4 0h0m14 0h0m1 0h0m0 0h0m4 0h0m9 0h0m1 0h0m12 0h0m-29 1h0m3 0h0m6 0h0m2 0h0m2 0h0m6 0h0m8 0h0m-28 1h0m3 0h0m4 0h0m3 0h0m1 0h0m-17 1h0m1 0h0m4 0h0m8 0h0m4 0h0m11 0h0m2 0h0m-80 1h0m20 0h0m26 0h0m8 0h0m6 0h0m2 0h0m8 0h0m6 0h0m1 0h0m4 0h0m-65 1h0m17 0h0m17 0h0m3 0h0m1 0h0m1 0h0m6 0h0m1 0h0m3 0h0m0 0h0m2 0h0m-20 1h0m11 0h0m0 0h0m11 0h0m1 0h0m1 0h0m3 0h0m3 0h0m32 0h0m-154 1h0m76 0h0m24 0h0m1 0h0m2 0h0m2 0h0m2 0h0m0 0h0m4 0h0m1 0h0m-31 1h0m9 0h0m2 0h0m1 0h0m1 0h0m10 0h0m2 0h0m2 0h0m5 0h0m2 0h0m7 0h0m-131 1h0m53 0h0m44 0h0m4 0h0m5 0h0m3 0h0m1 0h0m0 0h0m6 0h0m2 0h0m4 0h0m-54 1h0m23 0h0m0 0h0m10 0h0m5 0h0m4 0h0m4 0h0m2 0h0m2 0h0m1 0h0m-17 1h0m0 0h0m3 0h0m4 0h0m1 0h0m2 0h0m3 0h0m-32 1h0m5 0h0m2 0h0m12 0h0m6 0h0m3 0h0m1 0h0m5 0h0m-37 1h0m19 0h0m4 0h0m2 0h0m1 0h0m7 0h0m-83 1h0m70 0h0m2 0h0m5 0h0m0 0h0m2 0h0m6 0h0m0 0h0m1 0h0m2 0h0m8 0h0m9 0h0m-62 1h0m6 0h0m22 0h0m1 0h0m2 0h0m6 0h0m2 0h0m2 0h0m8 0h0m-168 1h0m129 0h0m24 0h0m0 0h0m2 0h0m0 0h0m0 0h0m2 0h0m-78 1h0m40 0h0m8 0h0m12 0h0m5 0h0m8 0h0m3 0h0m2 0h0m4 0h0m0 0h0m-23 1h0m4 0h0m4 0h0m3 0h0m0 0h0m9 0h0m1 0h0m0 0h0m10 0h0m1 0h0m-43 1h0m5 0h0m5 0h0m2 0h0m5 0h0m1 0h0m5 0h0m-34 1h0m16 0h0m12 0h0m2 0h0m1 0h0m3 0h0m0 0h0m0 0h0m2 0h0m0 0h0m1 0h0m2 0h0m0 0h0m-67 1h0m57 0h0m10 0h0m10 0h0m-25 1h0m5 0h0m2 0h0m0 0h0m5 0h0m7 0h0m10 0h0m-80 1h0m19 0h0m28 0h0m2 0h0m2 0h0m1 0h0m6 0h0m16 0h0m4 0h0m-41 1h0m12 0h0m2 0h0m0 0h0m3 0h0m0 0h0m2 0h0m5 0h0m0 0h0m15 0h0m32 0h0m15 0h0m-89 1h0m3 0h0m12 0h0m4 0h0m11 0h0m0 0h0m6 0h0m-147 1h0m106 0h0m12 0h0m12 0h0m0 0h0m3 0h0m4 0h0m0 0h0m-77 1h0m50 0h0m17 0h0m5 0h0m4 0h0m4 0h0m1 0h0m22 0h0m-155 1h0m34 0h0m83 0h0m1 0h0m2 0h0m4 0h0m8 0h0m6 0h0m-80 1h0m2 0h0m4 0h0m48 0h0m1 0h0m0 0h0m1 0h0m6 0h0m1 0h0m8 0h0m2 0h0m39 0h0m-66 1h0m1 0h0m0 0h0m3 0h0m10 0h0m1 0h0m10 0h0m6 0h0m6 0h0m-34 1h0m3 0h0m4 0h0m0 0h0m-20 1h0m15 0h0m16 0h0m3 0h0m3 0h0m-37 1h0m4 0h0m19 0h0m2 0h0m3 0h0m1 0h0m6 0h0m5 0h0m20 0h0m-53 1h0m14 0h0m2 0h0m0 0h0m2 0h0m1 0h0m0 0h0m2 0h0m3 0h0m3 0h0m0 0h0m0 0h0m1 0h0m3 0h0m1 0h0m-27 1h0m2 0h0m2 0h0m1 0h0m8 0h0m4 0h0m0 0h0m3 0h0m-80 1h0m46 0h0m21 0h0m1 0h0m2 0h0m2 0h0m2 0h0m2 0h0m2 0h0m37 0h0m-62 1h0m1 0h0m18 0h0m1 0h0m5 0h0m7 0h0m25 0h0m-93 1h0m16 0h0m5 0h0m25 0h0m3 0h0m1 0h0m2 0h0m0 0h0m16 0h0m-27 1h0m4 0h0m0 0h0m2 0h0m3 0h0m1 0h0m0 0h0m4 0h0m6 0h0m-21 1h0m10 0h0m5 0h0m0 0h0m5 0h0m5 0h0m-42 1h0m16 0h0m3 0h0m3 0h0m13 0h0m0 0h0m3 0h0m4 0h0m-40 1h0m8 0h0m8 0h0m8 0h0m3 0h0m1 0h0m2 0h0m5 0h0m1 0h0m13 0h0m-61 1h0m21 0h0m4 0h0m0 0h0m2 0h0m1 0h0m5 0h0m11 0h0m7 0h0m-20 1h0m2 0h0m5 0h0m6 0h0m2 0h0m83 0h0m-110 1h0m31 0h0m-39 1h0m12 0h0m2 0h0m3 0h0m3 0h0m3 0h0m3 0h0m8 0h0m3 0h0m3 0h0m-26 1h0m1 0h0m6 0h0m0 0h0m1 0h0m4 0h0m2 0h0m2 0h0m-23 1h0m9 0h0m1 0h0m6 0h0m3 0h0m2 0h0m2 0h0m4 0h0m1 0h0m9 0h0m1 0h0m16 0h0m-61 1h0m5 0h0m9 0h0m3 0h0m0 0h0m2 0h0m2 0h0m1 0h0m8 0h0m1 0h0m1 0h0m6 0h0m-25 1h0m2 0h0m1 0h0m2 0h0m2 0h0m0 0h0m20 0h0m2 0h0m4 0h0m4 0h0m36 0h0m-118 1h0m28 0h0m15 0h0m3 0h0m1 0h0m1 0h0m2 0h0m0 0h0m1 0h0m6 0h0m6 0h0m-72 1h0m4 0h0m46 0h0m2 0h0m10 0h0m2 0h0m11 0h0m1 0h0m16 0h0m8 0h0m-62 1h0m10 0h0m5 0h0m4 0h0m2 0h0m4 0h0m2 0h0m37 0h0m-124 1h0m53 0h0m9 0h0m1 0h0m3 0h0m10 0h0m0 0h0m1 0h0m3 0h0m3 0h0m3 0h0m4 0h0m37 0h0m14 0h0m-79 1h0m1 0h0m24 0h0m1 0h0m-28 1h0m16 0h0m1 0h0m6 0h0m0 0h0m6 0h0m0 0h0m1 0h0m7 0h0m-132 1h0m80 0h0m8 0h0m9 0h0m0 0h0m6 0h0m3 0h0m0 0h0m0 0h0m0 0h0m5 0h0m0 0h0m1 0h0m4 0h0m9 0h0m8 0h0m-39 1h0m4 0h0m4 0h0m3 0h0m3 0h0m1 0h0m7 0h0m-67 1h0m8 0h0m21 0h0m10 0h0m0 0h0m7 0h0m4 0h0m5 0h0m2 0h0m3 0h0m9 0h0m10 0h0m-83 1h0m49 0h0m15 0h0m5 0h0m3 0h0m-74 1h0m15 0h0m24 0h0m15 0h0m2 0h0m4 0h0m0 0h0m1 0h0m0 0h0m1 0h0m5 0h0m0 0h0m4 0h0m13 0h0m-56 1h0m39 0h0m1 0h0m9 0h0m19 0h0m-64 1h0m21 0h0m4 0h0m4 0h0m2 0h0m3 0h0m2 0h0m1 0h0m0 0h0m8 0h0m104 0h0m-145 1h0m22 0h0m2 0h0m1 0h0m0 0h0m2 0h0m0 0h0m5 0h0m46 0h0m-138 1h0m86 0h0m1 0h0m2 0h0m2 0h0m-28 1h0m1 0h0m16 0h0m9 0h0m2 0h0m3 0h0m1 0h0m3 0h0m1 0h0m2 0h0m7 0h0m-47 1h0m7 0h0m20 0h0m1 0h0m4 0h0m5 0h0m12 0h0m33 0h0m-99 1h0m3 0h0m23 0h0m2 0h0m7 0h0m1 0h0m1 0h0m2 0h0m6 0h0m0 0h0m5 0h0m5 0h0m15 0h0m-42 1h0m2 0h0m0 0h0m7 0h0m4 0h0m5 0h0m1 0h0m-35 1h0m2 0h0m28 0h0m1 0h0m-25 1h0m10 0h0m0 0h0m4 0h0m4 0h0m4 0h0m14 0h0m0 0h0m11 0h0m-130 1h0m85 0h0m7 0h0m8 0h0m8 0h0m4 0h0m1 0h0m1 0h0m0 0h0m1 0h0m8 0h0m2 0h0m-56 1h0m17 0h0m13 0h0m1 0h0m10 0h0m0 0h0m0 0h0m-23 1h0m2 0h0m2 0h0m4 0h0m6 0h0m0 0h0m2 0h0m2 0h0m1 0h0m6 0h0m5 0h0m27 0h0m-114 1h0m40 0h0m22 0h0m10 0h0m5 0h0m10 0h0m0 0h0m4 0h0m13 0h0m33 0h0m-77 1h0m6 0h0m3 0h0m5 0h0m-81 1h0m51 0h0m17 0h0m1 0h0m5 0h0m6 0h0m4 0h0m24 0h0m-67 1h0m24 0h0m5 0h0m3 0h0m3 0h0m8 0h0m1 0h0m-36 1h0m25 0h0m1 0h0m1 0h0m1 0h0m16 0h0m14 0h0m24 0h0m10 0h0m-91 1h0m8 0h0m6 0h0m6 0h0m2 0h0m11 0h0m3 0h0m1 0h0m3 0h0m20 0h0m7 0h0m-114 1h0m56 0h0m12 0h0m8 0h0m0 0h0m7 0h0m1 0h0m-63 1h0m17 0h0m13 0h0m5 0h0m3 0h0m0 0h0m1 0h0m5 0h0m4 0h0m2 0h0m4 0h0m-43 1h0m4 0h0m15 0h0m8 0h0m2 0h0m7 0h0m1 0h0m0 0h0m8 0h0m63 0h0m-122 1h0m9 0h0m24 0h0m7 0h0m2 0h0m4 0h0m2 0h0m1 0h0m4 0h0m8 0h0m7 0h0m15 0h0m-41 1h0m3 0h0m2 0h0m4 0h0m0 0h0m0 0h0m2 0h0m3 0h0m9 0h0m7 0h0m-96 1h0m56 0h0m9 0h0m0 0h0m3 0h0m5 0h0m7 0h0m4 0h0m2 0h0m0 0h0m-67 1h0m48 0h0m2 0h0m2 0h0m3 0h0m9 0h0m-23 1h0m3 0h0m1 0h0m-80 1h0m63 0h0m24 0h0m11 0h0m8 0h0m16 0h0m-85 1h0m41 0h0m6 0h0m7 0h0m5 0h0m-113 1h0m68 0h0m30 0h0m1 0h0m7 0h0m3 0h0m9 0h0m-32 1h0m1 0h0m2 0h0m4 0h0m8 0h0m1 0h0m7 0h0m0 0h0m8 0h0m18 0h0m-62 1h0m22 0h0m5 0h0m1 0h0m11 0h0m-82 1h0m23 0h0m24 0h0m11 0h0m1 0h0m13 0h0m0 0h0m5 0h0m2 0h0m-21 1h0m0 0h0m3 0h0m8 0h0m4 0h0m0 0h0m3 0h0m45 0h0m-64 1h0m2 0h0m4 0h0m6 0h0m10 0h0m-75 1h0m54 0h0m2 0h0m1 0h0m1 0h0m1 0h0m2 0h0m8 0h0m-52 1h0m16 0h0m11 0h0m13 0h0m2 0h0m1 0h0m0 0h0m1 0h0m3 0h0m2 0h0m0 0h0m6 0h0m4 0h0m-27 1h0m2 0h0m3 0h0m0 0h0m1 0h0m2 0h0m1 0h0m1 0h0m3 0h0m2 0h0m0 0h0m5 0h0m2 0h0m2 0h0m-20 1h0m2 0h0m7 0h0m0 0h0m1 0h0m62 0h0m-117 1h0m36 0h0m18 0h0m1 0h0m1 0h0m3 0h0m0 0h0m2 0h0m-57 1h0m33 0h0m3 0h0m7 0h0m1 0h0m1 0h0m0 0h0m4 0h0m31 0h0m-41 1h0m2 0h0m3 0h0m7 0h0m10 0h0m3 0h0m16 0h0m-85 1h0m26 0h0m18 0h0m5 0h0m1 0h0m6 0h0m0 0h0m13 0h0m2 0h0m1 0h0m-68 1h0m32 0h0m1 0h0m13 0h0m2 0h0m0 0h0m5 0h0m0 0h0m4 0h0m3 0h0m-40 1h0m7 0h0m5 0h0m11 0h0m16 0h0m15 0h0m-38 1h0m1 0h0m5 0h0m8 0h0m6 0h0m11 0h0m-55 1h0m9 0h0m12 0h0m5 0h0m11 0h0m2 0h0m4 0h0m4 0h0m18 0h0m-72 1h0m20 0h0m1 0h0m3 0h0m8 0h0m8 0h0m2 0h0m7 0h0m2 0h0m5 0h0m5 0h0m-38 1h0m10 0h0m11 0h0m2 0h0m0 0h0m-109 1h0m44 0h0m47 0h0m2 0h0m2 0h0m11 0h0m14 0h0m-71 1h0m14 0h0m4 0h0m10 0h0m10 0h0m6 0h0m0 0h0m6 0h0m1 0h0m2 0h0m2 0h0m4 0h0m7 0h0m-23 1h0m4 0h0m2 0h0m2 0h0m1 0h0m2 0h0m0 0h0m4 0h0m2 0h0m31 0h0m-48 1h0m2 0h0m0 0h0m1 0h0m3 0h0m1 0h0m8 0h0m1 0h0m9 0h0m11 0h0m4 0h0m-72 1h0m29 0h0m16 0h0m5 0h0m-79 1h0m20 0h0m26 0h0m28 0h0m5 0h0m-37 1h0m13 0h0m4 0h0m7 0h0m1 0h0m2 0h0m0 0h0m9 0h0m15 0h0m-58 1h0m3 0h0m6 0h0m1 0h0m4 0h0m0 0h0m12 0h0m2 0h0m5 0h0m1 0h0m1 0h0m0 0h0m6 0h0m-21 1h0m2 0h0m0 0h0m6 0h0m3 0h0m-26 1h0m7 0h0m33 0h0m-39 1h0m11 0h0m5 0h0m11 0h0m3 0h0m1 0h0m14 0h0m-44 1h0m3 0h0m3 0h0m15 0h0m4 0h0m1 0h0m7 0h0m1 0h0m6 0h0m-81 1h0m12 0h0m26 0h0m4 0h0m5 0h0m6 0h0m10 0h0m14 0h0m-36 1h0m12 0h0m9 0h0m6 0h0m0 0h0m20 0h0m-119 1h0m53 0h0m29 0h0m5 0h0m3 0h0m2 0h0m8 0h0m3 0h0m1 0h0m-35 1h0m11 0h0m2 0h0m1 0h0m1 0h0m5 0h0m9 0h0m20 0h0m0 0h0m-71 1h0m21 0h0m7 0h0m17 0h0m3 0h0m1 0h0m1 0h0m-37 1h0m8 0h0m13 0h0m3 0h0m4 0h0m1 0h0m31 0h0m36 0h0m-132 1h0m39 0h0m8 0h0m4 0h0m3 0h0m2 0h0m1 0h0m1 0h0m2 0h0m12 0h0m17 0h0m-121 1h0m65 0h0m14 0h0m7 0h0m3 0h0m0 0h0m6 0h0m5 0h0m11 0h0m16 0h0m58 0h0m-151 1h0m9 0h0m36 0h0m5 0h0m5 0h0m2 0h0m8 0h0m-89 1h0m42 0h0m25 0h0m10 0h0m4 0h0m8 0h0m5 0h0m3 0h0m2 0h0m-85 1h0m34 0h0m25 0h0m11 0h0m4 0h0m4 0h0m3 0h0m-97 1h0m36 0h0m26 0h0m3 0h0m4 0h0m13 0h0m6 0h0m14 0h0m2 0h0m3 0h0m-85 1h0m26 0h0m33 0h0m15 0h0m6 0h0m51 0h0m28 0h0m-199 1h0m69 0h0m5 0h0m5 0h0m14 0h0m15 0h0m0 0h0m2 0h0m2 0h0m13 0h0m38 0h0m-110 1h0m27 0h0m3 0h0m2 0h0m1 0h0m10 0h0m0 0h0m49 0h0m-91 1h0m11 0h0m37 0h0m1 0h0m9 0h0m31 0h0m89 0h0m-204 1h0m43 0h0m15 0h0m4 0h0m5 0h0m2 0h0m0 0h0m30 0h0m-45 1h0m1 0h0m2 0h0m3 0h0m6 0h0m1 0h0m1 0h0m20 0h0m23 0h0m7 0h0m5 0h0m-95 1h0m17 0h0m12 0h0m9 0h0m1 0h0m1 0h0m2 0h0m1 0h0m2 0h0m0 0h0m8 0h0m16 0h0m22 0h0m-91 1h0m26 0h0m7 0h0m3 0h0m1 0h0m8 0h0m0 0h0m0 0h0m5 0h0m5 0h0m59 0h0m-153 1h0m49 0h0m23 0h0m1 0h0m1 0h0m2 0h0m3 0h0m1 0h0m2 0h0m12 0h0m-86 1h0m56 0h0m7 0h0m2 0h0m3 0h0m4 0h0m1 0h0m2 0h0m21 0h0m-43 1h0m2 0h0m18 0h0m1 0h0m18 0h0m11 0h0m-88 1h0m10 0h0m24 0h0m3 0h0m7 0h0m5 0h0m4 0h0m16 0h0m31 0h0m-61 1h0m2 0h0m14 0h0m0 0h0m2 0h0m12 0h0m2 0h0m2 0h0m6 0h0m28 0h0m-63 1h0m1 0h0m3 0h0m2 0h0m0 0h0m3 0h0m4 0h0m2 0h0m9 0h0m-77 1h0m20 0h0m13 0h0m5 0h0m13 0h0m7 0h0m10 0h0m13 0h0m-44 1h0m7 0h0m0 0h0m8 0h0m9 0h0m2 0h0m1 0h0m0 0h0m8 0h0m1 0h0m0 0h0m5 0h0m6 0h0m-114 1h0m34 0h0m40 0h0m3 0h0m9 0h0m2 0h0m14 0h0m22 0h0m-68 1h0m17 0h0m1 0h0m11 0h0m11 0h0m13 0h0m22 0h0m-109 1h0m44 0h0m7 0h0m2 0h0m4 0h0m5 0h0m1 0h0m5 0h0m4 0h0m1 0h0m2 0h0m82 0h0m-109 1h0m8 0h0m4 0h0m3 0h0m3 0h0m-49 1h0m12 0h0m10 0h0m3 0h0m5 0h0m3 0h0m11 0h0m3 0h0m8 0h0m3 0h0m39 0h0m-89 1h0m22 0h0m7 0h0m1 0h0m1 0h0m1 0h0m1 0h0m13 0h0m0 0h0m4 0h0m16 0h0m7 0h0m-93 1h0m12 0h0m15 0h0m29 0h0m4 0h0m4 0h0m13 0h0m6 0h0m5 0h0m78 0h0m-144 1h0m6 0h0m2 0h0m9 0h0m12 0h0m2 0h0m8 0h0m2 0h0m10 0h0m14 0h0m-75 1h0m13 0h0m17 0h0m3 0h0m2 0h0m4 0h0m2 0h0m-64 1h0m25 0h0m19 0h0m21 0h0m5 0h0m24 0h0m-56 1h0m5 0h0m7 0h0m4 0h0m4 0h0m1 0h0m1 0h0m0 0h0m9 0h0m30 0h0m-89 1h0m29 0h0m9 0h0m0 0h0m20 0h0m2 0h0m1 0h0m1 0h0m21 0h0m16 0h0m-93 1h0m17 0h0m15 0h0m8 0h0m2 0h0m4 0h0m16 0h0m10 0h0m-91 1h0m22 0h0m5 0h0m18 0h0m2 0h0m0 0h0m17 0h0m4 0h0m6 0h0m1 0h0m5 0h0m-73 1h0m14 0h0m6 0h0m10 0h0m19 0h0m1 0h0m2 0h0m10 0h0m15 0h0m11 0h0m23 0h0m-100 1h0m34 0h0m1 0h0m3 0h0m5 0h0m3 0h0m2 0h0m5 0h0m3 0h0m4 0h0m18 0h0m-52 1h0m6 0h0m2 0h0m8 0h0m6 0h0m0 0h0m3 0h0m6 0h0m4 0h0m-41 1h0m10 0h0m10 0h0m30 0h0m19 0h0m-56 1h0m6 0h0m2 0h0m6 0h0m1 0h0m1 0h0m21 0h0m25 0h0m-36 1h0m54 0h0m-135 1h0m27 0h0m5 0h0m3 0h0m4 0h0m9 0h0m1 0h0m12 0h0m4 0h0m2 0h0m1 0h0m1 0h0m4 0h0m1 0h0m3 0h0m15 0h0m-51 1h0m2 0h0m8 0h0m1 0h0m0 0h0m5 0h0m1 0h0m1 0h0m-37 1h0m36 0h0m1 0h0m2 0h0m2 0h0m9 0h0m0 0h0m-34 1h0m6 0h0m3 0h0m3 0h0m9 0h0m13 0h0m2 0h0m-27 1h0m2 0h0m6 0h0m0 0h0m3 0h0m7 0h0m-40 1h0m30 0h0m5 0h0m4 0h0m2 0h0m0 0h0m0 0h0m1 0h0m2 0h0m1 0h0m2 0h0m48 0h0m-60 1h0m0 0h0m21 0h0m-33 1h0m12 0h0m5 0h0m3 0h0m0 0h0m17 0h0m16 0h0m20 0h0m-80 1h0m6 0h0m6 0h0m1 0h0m15 0h0m-88 1h0m47 0h0m2 0h0m2 0h0m13 0h0m4 0h0m1 0h0m1 0h0m2 0h0m7 0h0m2 0h0m1 0h0m0 0h0m1 0h0m24 0h0m-43 1h0m1 0h0m1 0h0m2 0h0m1 0h0m4 0h0m2 0h0m6 0h0m2 0h0m-79 1h0m56 0h0m5 0h0m2 0h0m3 0h0m11 0h0m6 0h0m1 0h0m73 0h0m-105 1h0m6 0h0m0 0h0m0 0h0m8 0h0m2 0h0m8 0h0m1 0h0m1 0h0m21 0h0m0 0h0m-28 1h0m5 0h0m16 0h0m5 0h0m-76 1h0m29 0h0m0 0h0m8 0h0m1 0h0m3 0h0m1 0h0m7 0h0m1 0h0m11 0h0m8 0h0m8 0h0m-104 1h0m28 0h0m22 0h0m8 0h0m2 0h0m7 0h0m1 0h0m11 0h0m2 0h0m28 0h0m-33 1h0m9 0h0m4 0h0m5 0h0m-65 1h0m6 0h0m34 0h0m1 0h0m17 0h0m17 0h0m67 0h0m-155 1h0m3 0h0m25 0h0m7 0h0m12 0h0m2 0h0m1 0h0m1 0h0m7 0h0m-10 1h0m9 0h0m10 0h0m5 0h0m4 0h0m-65 1h0m31 0h0m6 0h0m3 0h0m12 0h0m78 0h0m7 0h0m-161 1h0m48 0h0m2 0h0m18 0h0m31 0h0m-42 1h0m1 0h0m3 0h0m6 0h0m2 0h0m11 0h0m3 0h0m-59 1h0m14 0h0m10 0h0m7 0h0m0 0h0m3 0h0m1 0h0m4 0h0m6 0h0m5 0h0m5 0h0m6 0h0m8 0h0m-48 1h0m3 0h0m10 0h0m4 0h0m7 0h0m0 0h0m30 0h0m-55 1h0m7 0h0m7 0h0m1 0h0m2 0h0m6 0h0m6 0h0m0 0h0m2 0h0m2 0h0m5 0h0m53 0h0m-82 1h0m1 0h0m9 0h0m6 0h0m1 0h0m2 0h0m-44 1h0m0 0h0m14 0h0m2 0h0m8 0h0m0 0h0m2 0h0m3 0h0m2 0h0m1 0h0m1 0h0m0 0h0m3 0h0m11 0h0m5 0h0m0 0h0m3 0h0m7 0h0m19 0h0m-76 1h0m5 0h0m5 0h0m17 0h0m0 0h0m4 0h0m3 0h0m-22 1h0m3 0h0m5 0h0m5 0h0m5 0h0m55 0h0m-126 1h0m48 0h0m8 0h0m11 0h0m14 0h0m25 0h0m-61 1h0m10 0h0m4 0h0m9 0h0m2 0h0m0 0h0m8 0h0m2 0h0m-55 1h0m11 0h0m16 0h0m14 0h0m4 0h0m4 0h0m2 0h0m6 0h0m10 0h0m11 0h0m-101 1h0m54 0h0m5 0h0m3 0h0m3 0h0m2 0h0m9 0h0m6 0h0m16 0h0m-53 1h0m15 0h0m0 0h0m5 0h0m0 0h0m3 0h0m3 0h0m0 0h0m2 0h0m-30 1h0m3 0h0m8 0h0m13 0h0m0 0h0m0 0h0m22 0h0m63 0h0m-137 1h0m23 0h0m10 0h0m6 0h0m8 0h0m0 0h0m0 0h0m2 0h0m1 0h0m3 0h0m3 0h0m9 0h0m-40 1h0m11 0h0m4 0h0m1 0h0m1 0h0m1 0h0m4 0h0m2 0h0m13 0h0m7 0h0m-48 1h0m0 0h0m4 0h0m6 0h0m1 0h0m2 0h0m3 0h0m3 0h0m21 0h0m24 0h0m12 0h0m-111 1h0m17 0h0m18 0h0m0 0h0m1 0h0m8 0h0m10 0h0m38 0h0m-55 1h0m18 0h0m1 0h0m8 0h0m2 0h0m2 0h0m25 0h0m-67 1h0m1 0h0m2 0h0m2 0h0m2 0h0m2 0h0m1 0h0m6 0h0m10 0h0m3 0h0m1 0h0m0 0h0m12 0h0m1 0h0m37 0h0m5 0h0m-122 1h0m28 0h0m12 0h0m5 0h0m2 0h0m4 0h0m5 0h0m3 0h0m1 0h0m1 0h0m2 0h0m1 0h0m15 0h0m33 0h0m116 0h0m-174 1h0m4 0h0m10 0h0m0 0h0m1 0h0m19 0h0m-83 1h0m25 0h0m16 0h0m7 0h0m4 0h0m10 0h0m1 0h0m3 0h0m17 0h0m-65 1h0m7 0h0m6 0h0m15 0h0m2 0h0m8 0h0m6 0h0m0 0h0m2 0h0m-47 1h0m25 0h0m0 0h0m10 0h0m3 0h0m7 0h0m2 0h0m54 0h0m-111 1h0m13 0h0m24 0h0m8 0h0m9 0h0m7 0h0m13 0h0m-71 1h0m24 0h0m18 0h0m3 0h0m9 0h0m10 0h0m4 0h0m-80 1h0m36 0h0m3 0h0m18 0h0m0 0h0m7 0h0m3 0h0m0 0h0m30 0h0m8 0h0m-78 1h0m18 0h0m0 0h0m4 0h0m5 0h0m1 0h0m4 0h0m15 0h0m-47 1h0m14 0h0m6 0h0m0 0h0m3 0h0m1 0h0m6 0h0m5 0h0m3 0h0m3 0h0m5 0h0m16 0h0m-71 1h0m13 0h0m23 0h0m4 0h0m1 0h0m3 0h0m2 0h0m0 0h0m10 0h0m20 0h0m-47 1h0m3 0h0m2 0h0m20 0h0m45 0h0m-100 1h0m25 0h0m16 0h0m16 0h0m4 0h0m-38 1h0m6 0h0m30 0h0m13 0h0m7 0h0m-53 1h0m2 0h0m3 0h0m3 0h0m7 0h0m4 0h0m3 0h0m1 0h0m0 0h0m0 0h0m1 0h0m1 0h0m9 0h0m23 0h0m-63 1h0m1 0h0m8 0h0m5 0h0m5 0h0m4 0h0m10 0h0m2 0h0m37 0h0m-83 1h0m15 0h0m11 0h0m3 0h0m1 0h0m13 0h0m2 0h0m3 0h0m1 0h0m-37 1h0m11 0h0m6 0h0m4 0h0m10 0h0m8 0h0m2 0h0m4 0h0m17 0h0m-70 1h0m4 0h0m23 0h0m0 0h0m3 0h0m1 0h0m7 0h0m7 0h0m3 0h0m-66 1h0m4 0h0m23 0h0m2 0h0m3 0h0m4 0h0m5 0h0m5 0h0m4 0h0m17 0h0m-39 1h0m3 0h0m6 0h0m16 0h0m-44 1h0m13 0h0m4 0h0m14 0h0m1 0h0m19 0h0m-45 1h0m10 0h0m6 0h0m1 0h0m7 0h0m6 0h0m-24 1h0m11 0h0m34 0h0m-64 1h0m18 0h0m17 0h0m1 0h0m16 0h0m30 0h0m9 0h0m-107 1h0m5 0h0m13 0h0m9 0h0m10 0h0m1 0h0m10 0h0m6 0h0m12 0h0m92 0h0m-155 1h0m23 0h0m8 0h0m2 0h0m3 0h0m1 0h0m0 0h0m8 0h0m2 0h0m6 0h0m5 0h0m8 0h0m-60 1h0m24 0h0m7 0h0m4 0h0m8 0h0m2 0h0m3 0h0m5 0h0m0 0h0m2 0h0m3 0h0m-42 1h0m3 0h0m6 0h0m1 0h0m1 0h0m3 0h0m1 0h0m5 0h0m3 0h0m3 0h0m3 0h0m30 0h0m-85 1h0m8 0h0m14 0h0m11 0h0m3 0h0m12 0h0m1 0h0m-50 1h0m7 0h0m13 0h0m0 0h0m5 0h0m1 0h0m1 0h0m5 0h0m39 0h0m21 0h0m-99 1h0m13 0h0m19 0h0m5 0h0m10 0h0m9 0h0m0 0h0m3 0h0m6 0h0m5 0h0m-49 1h0m14 0h0m4 0h0m2 0h0m1 0h0m1 0h0m10 0h0m32 0h0m-49 1h0m9 0h0m4 0h0m1 0h0m4 0h0m8 0h0m-57 1h0m19 0h0m15 0h0m1 0h0m3 0h0m1 0h0m1 0h0m3 0h0m4 0h0m1 0h0m5 0h0m-43 1h0m19 0h0m1 0h0m19 0h0m10 0h0m-35 1h0m5 0h0m1 0h0m4 0h0m14 0h0m10 0h0m1 0h0m1 0h0m8 0h0m39 0h0m-101 1h0m7 0h0m14 0h0m2 0h0m6 0h0m1 0h0m5 0h0m3 0h0m9 0h0m9 0h0m-63 1h0m9 0h0m24 0h0m6 0h0m1 0h0m1 0h0m1 0h0m8 0h0m-37 1h0m3 0h0m6 0h0m1 0h0m2 0h0m16 0h0m2 0h0m9 0h0m4 0h0m-60 1h0m4 0h0m32 0h0m1 0h0m4 0h0m0 0h0m6 0h0m0 0h0m11 0h0m3 0h0m19 0h0m25 0h0m-93 1h0m2 0h0m5 0h0m10 0h0m6 0h0m14 0h0m6 0h0m19 0h0m1 0h0m0 0h0m134 0h0m-178 1h0m1 0h0m2 0h0m3 0h0m9 0h0m7 0h0m1 0h0m27 0h0m-65 1h0m16 0h0m0 0h0m5 0h0m2 0h0m1 0h0m5 0h0m1 0h0m8 0h0m7 0h0m-31 1h0m3 0h0m11 0h0m-17 1h0m2 0h0m3 0h0m1 0h0m8 0h0m4 0h0m6 0h0m2 0h0m-51 1h0m12 0h0m40 0h0m4 0h0m-29 1h0m2 0h0m1 0h0m5 0h0m14 0h0m5 0h0m-35 1h0m0 0h0m3 0h0m18 0h0m1 0h0m3 0h0m-33 1h0m0 0h0m6 0h0m8 0h0m2 0h0m19 0h0m1 0h0m10 0h0m-39 1h0m4 0h0m5 0h0m2 0h0m3 0h0m13 0h0m31 0h0m-55 1h0m2 0h0m7 0h0m1 0h0m0 0h0m5 0h0m3 0h0m4 0h0m45 0h0m57 0h0m-123 1h0m1 0h0m7 0h0m4 0h0m17 0h0m-31 1h0m3 0h0m3 0h0m4 0h0m17 0h0m-41 1h0m6 0h0m4 0h0m19 0h0m1 0h0m5 0h0m6 0h0m1 0h0m1 0h0m118 0h0m-151 1h0m2 0h0m6 0h0m2 0h0m10 0h0m8 0h0m4 0h0m15 0h0m-49 1h0m6 0h0m7 0h0m3 0h0m2 0h0m5 0h0m11 0h0m-38 1h0m8 0h0m4 0h0m5 0h0m3 0h0m-26 1h0m2 0h0m15 0h0m3 0h0m17 0h0m-22 1h0m3 0h0m2 0h0m8 0h0m4 0h0m18 0h0m-43 1h0m5 0h0m17 0h0m2 0h0m6 0h0m-44 1h0m9 0h0m1 0h0m1 0h0m3 0h0m1 0h0m2 0h0m5 0h0m6 0h0m2 0h0m2 0h0m3 0h0m3 0h0m6 0h0m-33 1h0m-1 1h0m10 0h0m3 0h0m1 0h0m1 0h0m1 0h0m1 0h0m2 0h0m14 0h0m10 0h0m-42 1h0m4 0h0m1 0h0m2 0h0m1 0h0m0 0h0m1 0h0m4 0h0m3 0h0m1 0h0m3 0h0m2 0h0m2 0h0m8 0h0m-28 1h0m13 0h0m2 0h0m15 0h0m17 0h0m-53 1h0m1 0h0m4 0h0m1 0h0m7 0h0m8 0h0m-23 1h0m1 0h0m8 0h0m1 0h0m5 0h0m4 0h0m3 0h0m9 0h0m-38 1h0m16 0h0m9 0h0m3 0h0m14 0h0m2 0h0m2 0h0m20 0h0m78 0h0m-130 1h0m8 0h0m4 0h0m5 0h0m1 0h0m19 0h0m9 0h0m-55 1h0m7 0h0m1 0h0m6 0h0m0 0h0m1 0h0m4 0h0m1 0h0m2 0h0m3 0h0m-23 1h0m7 0h0m6 0h0m3 0h0m3 0h0m3 0h0m12 0h0m3 0h0m11 0h0m48 0h0m-97 1h0m12 0h0m1 0h0m5 0h0m7 0h0m-14 1h0m1 0h0m6 0h0m2 0h0m1 0h0m7 0h0m5 0h0m-32 1h0m7 0h0m7 0h0m4 0h0m3 0h0m4 0h0m19 0h0m103 0h0m34 0h0m-174 1h0m0 0h0m2 0h0m2 0h0m3 0h0m4 0h0m2 0h0m1 0h0m11 0h0m3 0h0m-37 1h0m3 0h0m3 0h0m2 0h0m2 0h0m7 0h0m4 0h0m6 0h0m-27 1h0m1 0h0m1 0h0m2 0h0m7 0h0m6 0h0m2 0h0m1 0h0m0 0h0m4 0h0m1 0h0m-27 1h0m2 0h0m1 0h0m10 0h0m7 0h0m3 0h0m2 0h0m5 0h0m5 0h0m14 0h0m18 0h0m-61 1h0m1 0h0m2 0h0m4 0h0m1 0h0m3 0h0m1 0h0m5 0h0m0 0h0m3 0h0m6 0h0m5 0h0m-31 1h0m7 0h0m1 0h0m0 0h0m0 0h0m10 0h0m0 0h0m0 0h0m-12 1h0m6 0h0m26 0h0m6 0h0m-49 1h0m3 0h0m0 0h0m4 0h0m4 0h0m1 0h0m1 0h0m1 0h0m0 0h0m3 0h0m0 0h0m0 0h0m3 0h0m1 0h0m13 0h0m-37 1h0m0 0h0m15 0h0m0 0h0m0 0h0m1 0h0m1 0h0m4 0h0m7 0h0m-24 1h0m1 0h0m2 0h0m0 0h0m5 0h0m4 0h0m2 0h0m22 0h0m-36 1h0m1 0h0m3 0h0m6 0h0m0 0h0m3 0h0m6 0h0m1 0h0m36 0h0m29 0h0m-85 1h0m1 0h0m1 0h0m9 0h0m7 0h0m8 0h0m7 0h0m19 0h0m-56 1h0m5 0h0m2 0h0m2 0h0m1 0h0m4 0h0m2 0h0m-16 1h0m1 0h0m1 0h0m2 0h0m2 0h0m1 0h0m4 0h0m4 0h0m3 0h0m2 0h0m-21 1h0m9 0h0m7 0h0m-10 1h0m6 0h0m12 0h0m-4 1h0m22 0h0m-41 1h0m3 0h0m4 0h0m0 0h0m2 0h0m5 0h0m3 0h0m3 0h0m1 0h0m-19 1h0m1 0h0m1 0h0m3 0h0m0 0h0m2 0h0m3 0h0m17 0h0m-26 1h0m8 0h0m4 0h0m3 0h0m-13 1h0m0 0h0m2 0h0m1 0h0m3 0h0m2 0h0m5 0h0m0 0h0m7 0h0m25 0h0m-49 1h0m0 0h0m0 0h0m3 0h0m1 0h0m2 0h0m4 0h0m1 0h0m1 0h0m3 0h0m-13 1h0m1 0h0m-3 1h0m3 0h0m6 0h0m2 0h0m1 0h0m3 0h0m12 0h0m-24 1h0m2 0h0m9 0h0m-13 1h0m1 0h0m0 0h0m2 0h0m1 0h0m1 0h0m13 0h0m-17 1h0m1 0h0m1 0h0m2 0h0m4 0h0m-4 1h0m3 0h0m18 0h0m-7 1h0m-10 1h0m106 0h0m-95 1h0m-13 2h0"/>
<path d="M121 778h0m51 0h0m44 0h0m-46 1h0m72 0h0m40 0h0m76 0h0m28 0h0m20 0h0m11 0h0m-306 1h0m35 0h0m4 0h0m14 0h0m54 0h0m12 0h0m19 0h0m69 0h0m-156 1h0m127 0h0m59 0h0m30 0h0m96 0h0m2 0h0m29 0h0m-273 1h0m1 0h0m232 0h0m6 0h0m-275 1h0m20 0h0m20 0h0m32 0h0m10 0h0m4 0h0m40 0h0m35 0h0m10 0h0m18 0h0m-271 1h0m41 0h0m109 0h0m67 0h0m77 0h0m81 0h0m10 0h0m-383 1h0m27 0h0m38 0h0m5 0h0m15 0h0m47 0h0m106 0h0m43 0h0m58 0h0m-314 1h0m14 0h0m130 0h0m111 0h0m44 0h0m-292 1h0m67 0h0m64 0h0m47 0h0m3 0h0m-197 1h0m60 0h0m121 0h0m11 0h0m105 0h0m19 0h0m1 0h0m31 0h0m-239 1h0m22 0h0m9 0h0m85 0h0m16 0h0m65 0h0m-332 1h0m130 0h0m20 0h0m15 0h0m21 0h0m63 0h0m53 0h0m37 0h0m-317 1h0m132 0h0m29 0h0m11 0h0m48 0h0m100 0h0m1 0h0m18 0h0m-244 1h0m35 0h0m54 0h0m9 0h0m8 0h0m64 0h0m5 0h0m-261 1h0m88 0h0m7 0h0m5 0h0m0 0h0m149 0h0m-279 1h0m6 0h0m17 0h0m48 0h0m19 0h0m109 0h0m83 0h0m14 0h0m33 0h0m11 0h0m9 0h0m-286 1h0m131 0h0m26 0h0m26 0h0m87 0h0m8 0h0m7 0h0m3 0h0m2 0h0m7 0h0m-349 1h0m32 0h0m10 0h0m2 0h0m8 0h0m107 0h0m55 0h0m25 0h0m32 0h0m32 0h0m2 0h0m17 0h0m46 0h0m-375 1h0m19 0h0m32 0h0m77 0h0m37 0h0m63 0h0m113 0h0m12 0h0m-351 1h0m116 0h0m44 0h0m5 0h0m57 0h0m63 0h0m30 0h0m16 0h0m23 0h0m35 0h0m4 0h0m-394 1h0m89 0h0m12 0h0m67 0h0m28 0h0m152 0h0m-347 1h0m36 0h0m1 0h0m45 0h0m23 0h0m84 0h0m17 0h0m3 0h0m21 0h0m4 0h0m34 0h0m115 0h0m6 0h0m-288 1h0m11 0h0m74 0h0m16 0h0m17 0h0m80 0h0m12 0h0m19 0h0m-278 1h0m24 0h0m12 0h0m227 0h0m12 0h0m17 0h0m37 0h0m-337 1h0m51 0h0m67 0h0m3 0h0m11 0h0m12 0h0m37 0h0m7 0h0m23 0h0m10 0h0m31 0h0m90 0h0m-368 1h0m102 0h0m1 0h0m37 0h0m37 0h0m72 0h0m17 0h0m27 0h0m41 0h0m-340 1h0m3 0h0m34 0h0m57 0h0m88 0h0m26 0h0m-201 1h0m56 0h0m30 0h0m32 0h0m72 0h0m23 0h0m5 0h0m89 0h0m-317 1h0m10 0h0m73 0h0m32 0h0m21 0h0m1 0h0m20 0h0m13 0h0m27 0h0m27 0h0m-224 1h0m38 0h0m7 0h0m60 0h0m1 0h0m68 0h0m168 0h0m15 0h0m24 0h0m-320 1h0m47 0h0m3 0h0m59 0h0m20 0h0m169 0h0m13 0h0m-348 1h0m6 0h0m52 0h0m52 0h0m99 0h0m0 0h0m22 0h0m27 0h0m18 0h0m10 0h0m59 0h0m-349 1h0m95 0h0m2 0h0m140 0h0m77 0h0m7 0h0m-354 1h0m72 0h0m28 0h0m8 0h0m41 0h0m8 0h0m8 0h0m45 0h0m25 0h0m35 0h0m90 0h0m6 0h0m-369 1h0m22 0h0m88 0h0m82 0h0m56 0h0m14 0h0m23 0h0m103 0h0m13 0h0m-281 1h0m10 0h0m72 0h0m188 0h0m-275 1h0m50 0h0m133 0h0m4 0h0m18 0h0m63 0h0m-378 1h0m71 0h0m14 0h0m214 0h0m24 0h0m-303 1h0m38 0h0m52 0h0m90 0h0m7 0h0m9 0h0m71 0h0m13 0h0m14 0h0m-229 1h0m12 0h0m233 0h0m14 0h0m39 0h0m-346 1h0m35 0h0m80 0h0m43 0h0m12 0h0m52 0h0m3 0h0m42 0h0m20 0h0m11 0h0m9 0h0m-318 1h0m66 0h0m91 0h0m21 0h0m124 0h0m20 0h0m16 0h0m-345 1h0m126 0h0m73 0h0m57 0h0m28 0h0m-100 1h0m34 0h0m45 0h0m2 0h0m-291 1h0m95 0h0m34 0h0m54 0h0m65 0h0m11 0h0m4 0h0m19 0h0m8 0h0m-275 1h0m3 0h0m194 0h0m30 0h0m49 0h0m25 0h0m6 0h0m18 0h0m19 0h0m38 0h0m-363 1h0m58 0h0m86 0h0m12 0h0m18 0h0m78 0h0m3 0h0m2 0h0m17 0h0m72 0h0m-379 1h0m23 0h0m44 0h0m82 0h0m11 0h0m35 0h0m2 0h0m75 0h0m65 0h0m26 0h0m27 0h0m-337 1h0m30 0h0m216 0h0m20 0h0m4 0h0m-324 1h0m14 0h0m12 0h0m47 0h0m5 0h0m59 0h0m41 0h0m63 0h0m-227 1h0m86 0h0m7 0h0m10 0h0m12 0h0m26 0h0m61 0h0m105 0h0m20 0h0m41 0h0m1 0h0m-353 1h0m15 0h0m33 0h0m2 0h0m16 0h0m78 0h0m52 0h0m14 0h0m6 0h0m46 0h0m44 0h0m-322 1h0m31 0h0m32 0h0m21 0h0m3 0h0m16 0h0m52 0h0m22 0h0m40 0h0m140 0h0m-340 1h0m17 0h0m83 0h0m6 0h0m91 0h0m70 0h0m-290 1h0m16 0h0m21 0h0m4 0h0m10 0h0m11 0h0m4 0h0m20 0h0m16 0h0m79 0h0m94 0h0m-244 1h0m1 0h0m244 0h0m39 0h0m32 0h0m7 0h0m9 0h0m-347 1h0m33 0h0m83 0h0m7 0h0m134 0h0m26 0h0m96 0h0m-403 1h0m71 0h0m34 0h0m11 0h0m10 0h0m69 0h0m9 0h0m26 0h0m60 0h0m-281 1h0m138 0h0m113 0h0m31 0h0m7 0h0m72 0h0m-370 1h0m8 0h0m25 0h0m64 0h0m24 0h0m6 0h0m3 0h0m65 0h0m38 0h0m19 0h0m1 0h0m14 0h0m63 0h0m23 0h0m-329 1h0m147 0h0m7 0h0m65 0h0m32 0h0m39 0h0m-248 1h0m87 0h0m91 0h0m120 0h0m2 0h0m6 0h0m16 0h0m7 0h0m-355 1h0m1 0h0m35 0h0m71 0h0m110 0h0m80 0h0m-330 1h0m108 0h0m43 0h0m91 0h0m17 0h0m34 0h0m63 0h0m7 0h0m22 0h0m-385 1h0m16 0h0m1 0h0m164 0h0m112 0h0m20 0h0m24 0h0m32 0h0m-327 1h0m17 0h0m16 0h0m0 0h0m160 0h0m3 0h0m48 0h0m12 0h0m7 0h0m26 0h0m38 0h0m5 0h0m-261 1h0m45 0h0m45 0h0m-108 1h0m6 0h0m1 0h0m61 0h0m131 0h0m46 0h0m-331 1h0m34 0h0m14 0h0m21 0h0m167 0h0m36 0h0m23 0h0m-239 1h0m10 0h0m15 0h0m27 0h0m65 0h0m32 0h0m104 0h0m28 0h0m23 0h0m28 0h0m-309 1h0m45 0h0m187 0h0m6 0h0m22 0h0m-299 1h0m1 0h0m132 0h0m78 0h0m61 0h0m9 0h0m2 0h0m7 0h0m16 0h0m18 0h0m19 0h0m1 0h0m-399 1h0m40 0h0m59 0h0m15 0h0m77 0h0m69 0h0m51 0h0m-228 1h0m50 0h0m120 0h0m74 0h0m25 0h0m18 0h0m1 0h0m-316 1h0m47 0h0m52 0h0m247 0h0m-394 1h0m7 0h0m23 0h0m15 0h0m80 0h0m141 0h0m13 0h0m13 0h0m33 0h0m57 0h0m-372 1h0m14 0h0m67 0h0m8 0h0m1 0h0m29 0h0m0 0h0m19 0h0m81 0h0m29 0h0m20 0h0m41 0h0m63 0h0m-333 1h0m87 0h0m92 0h0m64 0h0m31 0h0m55 0h0m17 0h0m-398 1h0m112 0h0m104 0h0m80 0h0m20 0h0m56 0h0m22 0h0m-274 1h0m55 0h0m22 0h0m122 0h0m78 0h0m-281 1h0m48 0h0m42 0h0m104 0h0m7 0h0m7 0h0m25 0h0m-322 1h0m54 0h0m69 0h0m49 0h0m2 0h0m25 0h0m41 0h0m32 0h0m-198 1h0m121 0h0m14 0h0m59 0h0m24 0h0m-186 1h0m8 0h0m21 0h0m59 0h0m-203 1h0m34 0h0m154 0h0m6 0h0m40 0h0m31 0h0m-275 1h0m33 0h0m3 0h0m24 0h0m119 0h0m19 0h0m2 0h0m112 0h0m7 0h0m5 0h0m37 0h0m-301 1h0m2 0h0m39 0h0m115 0h0m68 0h0m-293 1h0m10 0h0m2 0h0m21 0h0m39 0h0m96 0h0m8 0h0m15 0h0m46 0h0m65 0h0m4 0h0m69 0h0m-305 1h0m130 0h0m118 0h0m20 0h0m6 0h0m12 0h0m-355 1h0m62 0h0m28 0h0m11 0h0m180 0h0m109 0h0m-307 1h0m62 0h0m23 0h0m80 0h0m-65 1h0m14 0h0m4 0h0m2 0h0m24 0h0m156 0h0m-378 1h0m2 0h0m66 0h0m4 0h0m26 0h0m3 0h0m86 0h0m11 0h0m45 0h0m46 0h0m33 0h0m34 0h0m-317 1h0m72 0h0m10 0h0m4 0h0m17 0h0m33 0h0m16 0h0m57 0h0m119 0h0m-325 1h0m96 0h0m57 0h0m36 0h0m26 0h0m-186 1h0m36 0h0m6 0h0m12 0h0m67 0h0m11 0h0m2 0h0m160 0h0m5 0h0m5 0h0m2 0h0m15 0h0m-402 1h0m192 0h0m24 0h0m111 0h0m5 0h0m-326 1h0m47 0h0m233 0h0m17 0h0m31 0h0m-303 1h0m22 0h0m65 0h0m2 0h0m115 0h0m8 0h0m11 0h0m141 0h0m-383 1h0m20 0h0m137 0h0m15 0h0m23 0h0m49 0h0m13 0h0m97 0h0m31 0h0m-353 1h0m18 0h0m124 0h0m101 0h0m68 0h0m9 0h0m-282 1h0m59 0h0m55 0h0m53 0h0m33 0h0m-195 1h0m31 0h0m4 0h0m13 0h0m23 0h0m2 0h0m33 0h0m10 0h0m6 0h0m14 0h0m50 0h0m111 0h0m-381 1h0m14 0h0m66 0h0m98 0h0m32 0h0m74 0h0m29 0h0m-135 1h0m28 0h0m15 0h0m37 0h0m6 0h0m78 0h0m-242 1h0m53 0h0m0 0h0m74 0h0m1 0h0m30 0h0m30 0h0m66 0h0m24 0h0m-352 1h0m85 0h0m33 0h0m7 0h0m8 0h0m54 0h0m147 0h0m-349 1h0m0 0h0m21 0h0m46 0h0m27 0h0m30 0h0m49 0h0m94 0h0m11 0h0m96 0h0m5 0h0m-356 1h0m29 0h0m120 0h0m7 0h0m8 0h0m59 0h0m12 0h0m36 0h0m70 0h0m11 0h0m11 0h0m-398 1h0m3 0h0m35 0h0m4 0h0m65 0h0m11 0h0m17 0h0m117 0h0m7 0h0m23 0h0m29 0h0m12 0h0m7 0h0m-167 1h0m5 0h0m19 0h0m37 0h0m5 0h0m15 0h0m19 0h0m47 0h0m37 0h0m43 0h0m5 0h0m-379 1h0m26 0h0m25 0h0m21 0h0m20 0h0m18 0h0m11 0h0m67 0h0m69 0h0m32 0h0m18 0h0m15 0h0m4 0h0m2 0h0m-293 1h0m18 0h0m7 0h0m39 0h0m21 0h0m30 0h0m101 0h0m40 0h0m5 0h0m9 0h0m1 0h0m13 0h0m9 0h0m-326 1h0m70 0h0m52 0h0m71 0h0m2 0h0m9 0h0m14 0h0m6 0h0m137 0h0m-304 1h0m18 0h0m148 0h0m46 0h0m51 0h0m-326 1h0m17 0h0m13 0h0m4 0h0m13 0h0m10 0h0m29 0h0m80 0h0m52 0h0m65 0h0m15 0h0m25 0h0m20 0h0m-341 1h0m38 0h0m155 0h0m15 0h0m86 0h0m25 0h0m32 0h0m16 0h0m13 0h0m-372 1h0m32 0h0m177 0h0m74 0h0m85 0h0m-391 1h0m32 0h0m24 0h0m104 0h0m31 0h0m117 0h0m37 0h0m14 0h0m27 0h0m-344 1h0m115 0h0m41 0h0m22 0h0m40 0h0m20 0h0m17 0h0m51 0h0m7 0h0m8 0h0m-278 1h0m121 0h0m37 0h0m74 0h0m20 0h0m23 0h0m42 0h0m-386 1h0m98 0h0m12 0h0m17 0h0m37 0h0m21 0h0m7 0h0m90 0h0m24 0h0m45 0h0m12 0h0m-352 1h0m4 0h0m68 0h0m0 0h0m24 0h0m120 0h0m11 0h0m30 0h0m3 0h0m103 0h0m10 0h0m-367 1h0m155 0h0m1 0h0m73 0h0m25 0h0m41 0h0m25 0h0m19 0h0m-268 1h0m18 0h0m1 0h0m41 0h0m15 0h0m3 0h0m87 0h0m55 0h0m64 0h0m4 0h0m-254 1h0m17 0h0m66 0h0m45 0h0m50 0h0m-279 1h0m20 0h0m115 0h0m61 0h0m96 0h0m-317 1h0m10 0h0m80 0h0m50 0h0m54 0h0m11 0h0m22 0h0m106 0h0m16 0h0m-354 1h0m3 0h0m139 0h0m106 0h0m14 0h0m88 0h0m-336 1h0m23 0h0m133 0h0m32 0h0m110 0h0m6 0h0m-312 1h0m116 0h0m137 0h0m64 0h0m2 0h0m27 0h0m18 0h0m-374 1h0m86 0h0m47 0h0m13 0h0m7 0h0m104 0h0m6 0h0m18 0h0m11 0h0m21 0h0m9 0h0m3 0h0m12 0h0m8 0h0m16 0h0m27 0h0m-284 1h0m100 0h0m19 0h0m13 0h0m58 0h0m26 0h0m63 0h0m-352 1h0m57 0h0m236 0h0m2 0h0m-252 1h0m51 0h0m37 0h0m8 0h0m52 0h0m53 0h0m26 0h0m26 0h0m54 0h0m-308 1h0m50 0h0m60 0h0m14 0h0m13 0h0m14 0h0m30 0h0m7 0h0m8 0h0m27 0h0m96 0h0m-332 1h0m40 0h0m25 0h0m118 0h0m31 0h0m-274 1h0m220 0h0m-107 1h0m78 0h0m35 0h0m67 0h0m5 0h0m68 0h0m25 0h0m-371 1h0m47 0h0m79 0h0m31 0h0m9 0h0m5 0h0m73 0h0m44 0h0m81 0h0m-361 1h0m1 0h0m12 0h0m76 0h0m46 0h0m10 0h0m8 0h0m76 0h0m16 0h0m67 0h0m53 0h0m-346 1h0m213 0h0m21 0h0m4 0h0m-253 1h0m41 0h0m1 0h0m50 0h0m21 0h0m27 0h0m5 0h0m38 0h0m11 0h0m54 0h0m68 0h0m10 0h0m-348 1h0m2 0h0m55 0h0m4 0h0m4 0h0m23 0h0m54 0h0m13 0h0m83 0h0m102 0h0m27 0h0m-357 1h0m8 0h0m41 0h0m52 0h0m97 0h0m93 0h0m12 0h0m-290 1h0m38 0h0m124 0h0m133 0h0m-330 1h0m21 0h0m36 0h0m1 0h0m6 0h0m24 0h0m63 0h0m23 0h0m72 0h0m16 0h0m-247 1h0m106 0h0m36 0h0m28 0h0m99 0h0m13 0h0m33 0h0m35 0h0m21 0h0m-387 1h0m113 0h0m41 0h0m118 0h0m46 0h0m5 0h0m-314 1h0m40 0h0m3 0h0m69 0h0m22 0h0m28 0h0m84 0h0m24 0h0m49 0h0m-294 1h0m57 0h0m-86 1h0m85 0h0m31 0h0m57 0h0m124 0h0m29 0h0m33 0h0m-340 1h0m14 0h0m32 0h0m200 0h0m2 0h0m39 0h0m9 0h0m49 0h0m22 0h0m8 0h0m-367 1h0m99 0h0m85 0h0m18 0h0m40 0h0m51 0h0m-266 1h0m39 0h0m69 0h0m91 0h0m84 0h0m44 0h0m-178 1h0m5 0h0m9 0h0m3 0h0m30 0h0m81 0h0m-312 1h0m81 0h0m12 0h0m88 0h0m52 0h0m-252 1h0m6 0h0m119 0h0m7 0h0m48 0h0m24 0h0m7 0h0m21 0h0m79 0h0m2 0h0m-309 1h0m17 0h0m74 0h0m27 0h0m50 0h0m120 0h0m55 0h0m12 0h0m-363 1h0m16 0h0m166 0h0m62 0h0m-236 1h0m91 0h0m107 0h0m1 0h0m94 0h0m-235 1h0m48 0h0m86 0h0m36 0h0m24 0h0m142 0h0m-348 1h0m43 0h0m51 0h0m126 0h0m5 0h0m-265 1h0m19 0h0m47 0h0m228 0h0m7 0h0m-228 1h0m101 0h0m28 0h0m116 0h0m42 0h0m-359 1h0m95 0h0m19 0h0m8 0h0m114 0h0m17 0h0m53 0h0m7 0h0m8 0h0m3 0h0m-270 1h0m8 0h0m138 0h0m17 0h0m71 0h0m13 0h0m9 0h0m73 0h0m-378 1h0m92 0h0m0 0h0m52 0h0m137 0h0m10 0h0m10 0h0m28 0h0m-293 1h0m126 0h0m9 0h0m34 0h0m61 0h0m66 0h0m-320 1h0m85 0h0m15 0h0m97 0h0m36 0h0m6 0h0m3 0h0m6 0h0m14 0h0m-246 1h0m29 0h0m4 0h0m11 0h0m101 0h0m65 0h0m45 0h0m52 0h0m-255 1h0m0 0h0m101 0h0m6 0h0m4 0h0m9 0h0m24 0h0m127 0h0m-311 1h0m23 0h0m3 0h0m16 0h0m33 0h0m4 0h0m6 0h0m105 0h0m16 0h0m31 0h0m51 0h0m-211 1h0m25 0h0m80 0h0m31 0h0m3 0h0m98 0h0m8 0h0m-338 1h0m14 0h0m13 0h0m2 0h0m18 0h0m21 0h0m9 0h0m48 0h0m29 0h0m24 0h0m35 0h0m1 0h0m9 0h0m101 0h0m-305 1h0m76 0h0m62 0h0m107 0h0m-283 1h0m8 0h0m8 0h0m186 0h0m42 0h0m40 0h0m21 0h0m53 0h0m10 0h0m-335 1h0m31 0h0m27 0h0m20 0h0m14 0h0m45 0h0m1 0h0m19 0h0m85 0h0m30 0h0m-282 1h0m140 0h0m48 0h0m121 0h0m-336 1h0m31 0h0m1 0h0m42 0h0m16 0h0m72 0h0m61 0h0m10 0h0m94 0h0m-268 1h0m38 0h0m48 0h0m7 0h0m79 0h0m120 0h0m-364 1h0m38 0h0m28 0h0m32 0h0m3 0h0m9 0h0m1 0h0m81 0h0m53 0h0m103 0h0m10 0h0m2 0h0m5 0h0m7 0h0m1 0h0m10 0h0m-322 1h0m231 0h0m22 0h0m15 0h0m-313 1h0m80 0h0m15 0h0m44 0h0m81 0h0m45 0h0m47 0h0m27 0h0m-363 1h0m5 0h0m12 0h0m38 0h0m80 0h0m14 0h0m18 0h0m26 0h0m7 0h0m60 0h0m46 0h0m39 0h0m2 0h0m18 0h0m28 0h0m-391 1h0m61 0h0m7 0h0m117 0h0m23 0h0m30 0h0m108 0h0m13 0h0m8 0h0m-362 1h0m211 0h0m31 0h0m104 0h0m-199 1h0m6 0h0m87 0h0m55 0h0m61 0h0m2 0h0m26 0h0m-352 1h0m6 0h0m98 0h0m61 0h0m17 0h0m47 0h0m45 0h0m9 0h0m-305 1h0m42 0h0m26 0h0m15 0h0m12 0h0m159 0h0m7 0h0m24 0h0m67 0h0m-302 1h0m29 0h0m158 0h0m17 0h0m40 0h0m53 0h0m34 0h0m-136 1h0m35 0h0m19 0h0m85 0h0m-391 1h0m68 0h0m12 0h0m163 0h0m30 0h0m11 0h0m-259 1h0m10 0h0m94 0h0m80 0h0m37 0h0m8 0h0m29 0h0m69 0h0m31 0h0m-370 1h0m22 0h0m121 0h0m90 0h0m92 0h0m38 0h0m-358 1h0m7 0h0m54 0h0m3 0h0m24 0h0m7 0h0m74 0h0m91 0h0m63 0h0m29 0h0m11 0h0m-390 1h0m35 0h0m11 0h0m35 0h0m48 0h0m43 0h0m44 0h0m17 0h0m41 0h0m54 0h0m13 0h0m43 0h0m-361 1h0m47 0h0m12 0h0m7 0h0m181 0h0m26 0h0m69 0h0m-360 1h0m43 0h0m23 0h0m0 0h0m103 0h0m4 0h0m72 0h0m20 0h0m5 0h0m37 0h0m-299 1h0m123 0h0m6 0h0m13 0h0m96 0h0m28 0h0m83 0h0m7 0h0m-317 1h0m8 0h0m5 0h0m77 0h0m35 0h0m186 0h0m21 0h0m-367 1h0m7 0h0m117 0h0m14 0h0m76 0h0m60 0h0m37 0h0m-327 1h0m24 0h0m45 0h0m106 0h0m0 0h0m89 0h0m0 0h0m31 0h0m85 0h0m-383 1h0m47 0h0m9 0h0m26 0h0m35 0h0m52 0h0m81 0h0m109 0h0m14 0h0m12 0h0m5 0h0m12 0h0m-397 1h0m10 0h0m8 0h0m29 0h0m30 0h0m50 0h0m46 0h0m6 0h0m24 0h0m76 0h0m10 0h0m3 0h0m-224 1h0m72 0h0m45 0h0m27 0h0m16 0h0m121 0h0m10 0h0m12 0h0m13 0h0m-357 1h0m17 0h0m60 0h0m84 0h0m118 0h0m44 0h0m37 0h0m-385 1h0m4 0h0m24 0h0m11 0h0m4 0h0m2 0h0m95 0h0m6 0h0m39 0h0m39 0h0m157 0h0m7 0h0m-365 1h0m2 0h0m78 0h0m38 0h0m17 0h0m165 0h0m58 0h0m7 0h0m-388 1h0m45 0h0m1 0h0m260 0h0m6 0h0m30 0h0m35 0h0m-375 1h0m34 0h0m121 0h0m52 0h0m37 0h0m46 0h0m20 0h0m4 0h0m12 0h0m43 0h0m-332 1h0m27 0h0m33 0h0m1 0h0m9 0h0m123 0h0m136 0h0m22 0h0m6 0h0m-398 1h0m10 0h0m41 0h0m46 0h0m15 0h0m76 0h0m175 0h0m33 0h0m-244 1h0m31 0h0m80 0h0m114 0h0m4 0h0m-299 1h0m54 0h0m19 0h0m15 0h0m41 0h0m41 0h0m22 0h0m76 0h0m13 0h0m-307 1h0m13 0h0m27 0h0m35 0h0m47 0h0m77 0h0m34 0h0m5 0h0m74 0h0m-229 1h0m39 0h0m44 0h0m17 0h0m87 0h0m-188 1h0m55 0h0m55 0h0m20 0h0m29 0h0m25 0h0m51 0h0m-338 1h0m30 0h0m15 0h0m223 0h0m21 0h0m31 0h0m29 0h0m-342 1h0m19 0h0m23 0h0m77 0h0m4 0h0m111 0h0m35 0h0m44 0h0m20 0h0m2 0h0m-379 1h0m126 0h0m18 0h0m27 0h0m6 0h0m53 0h0m62 0h0m23 0h0m59 0h0m3 0h0m-318 1h0m40 0h0m7 0h0m3 0h0m73 0h0m17 0h0m84 0h0m81 0h0m7 0h0m-248 1h0m26 0h0m19 0h0m28 0h0m58 0h0m-249 1h0m26 0h0m61 0h0m16 0h0m28 0h0m1 0h0m51 0h0m73 0h0m28 0h0m80 0h0m-195 1h0m32 0h0m28 0h0m83 0h0m1 0h0m20 0h0m40 0h0m5 0h0m-382 1h0m43 0h0m73 0h0m80 0h0m40 0h0m31 0h0m103 0h0m-322 1h0m138 0h0m26 0h0m-157 1h0m5 0h0m131 0h0m51 0h0m15 0h0m22 0h0m48 0h0m20 0h0m1 0h0m9 0h0m-315 1h0m24 0h0m45 0h0m104 0h0m44 0h0m25 0h0m54 0h0m4 0h0m14 0h0m-182 1h0m12 0h0m10 0h0m17 0h0m22 0h0m51 0h0m-264 1h0m155 0h0m5 0h0m8 0h0m27 0h0m0 0h0m8 0h0m42 0h0m13 0h0m97 0h0m-354 1h0m6 0h0m81 0h0m63 0h0m28 0h0m45 0h0m115 0h0m22 0h0m5 0h0m-370 1h0m8 0h0m18 0h0m199 0h0m72 0h0m15 0h0m7 0h0m62 0h0m-224 1h0m-179 1h0m23 0h0m69 0h0m22 0h0m17 0h0m95 0h0m2 0h0m34 0h0m22 0h0m50 0h0m27 0h0m-243 1h0m35 0h0m1 0h0m34 0h0m68 0h0m10 0h0m72 0h0m21 0h0m34 0h0m-391 1h0m93 0h0m48 0h0m38 0h0m51 0h0m80 0h0m34 0h0m8 0h0m-268 1h0m148 0h0m0 0h0m163 0h0m-209 1h0m34 0h0m20 0h0m141 0h0m-359 1h0m7 0h0m66 0h0m15 0h0m70 0h0m70 0h0m87 0h0m52 0h0m-343 1h0m51 0h0m16 0h0m152 0h0m34 0h0m6 0h0m33 0h0m32 0h0m15 0h0m5 0h0m-328 1h0m100 0h0m40 0h0m53 0h0m28 0h0m21 0h0m82 0h0m-347 1h0m163 0h0m1 0h0m8 0h0m24 0h0m11 0h0m53 0h0m38 0h0m23 0h0m4 0h0m-324 1h0m193 0h0m34 0h0m25 0h0m74 0h0m29 0h0m-396 1h0m140 0h0m141 0h0m39 0h0m6 0h0m8 0h0m3 0h0m44 0h0m-356 1h0m47 0h0m18 0h0m123 0h0m8 0h0m163 0h0m16 0h0m-315 1h0m31 0h0m4 0h0m66 0h0m124 0h0m47 0h0m-335 1h0m66 0h0m4 0h0m3 0h0m32 0h0m105 0h0m18 0h0m43 0h0m27 0h0m35 0h0m19 0h0m8 0h0m-357 1h0m37 0h0m44 0h0m2 0h0m24 0h0m63 0h0m144 0h0m36 0h0m-288 1h0m19 0h0m35 0h0m164 0h0m17 0h0m61 0h0m3 0h0m14 0h0m-317 1h0m32 0h0m125 0h0m54 0h0m-259 1h0m53 0h0m2 0h0m21 0h0m5 0h0m38 0h0m18 0h0m27 0h0m69 0h0m5 0h0m48 0h0m0 0h0m14 0h0m-234 1h0m2 0h0m83 0h0m12 0h0m5 0h0m30 0h0m107 0h0m7 0h0m16 0h0m4 0h0m34 0h0m-268 1h0m23 0h0m37 0h0m101 0h0m37 0h0m32 0h0m-346 1h0m10 0h0m102 0h0m8 0h0m84 0h0m1 0h0m56 0h0m-234 1h0m22 0h0m94 0h0m107 0h0m108 0h0m-224 1h0m71 0h0m10 0h0m1 0h0m7 0h0m70 0h0m-251 1h0m36 0h0m80 0h0m163 0h0m-316 1h0m6 0h0m9 0h0m0 0h0m258 0h0m22 0h0m84 0h0m-318 1h0m51 0h0m24 0h0m51 0h0m35 0h0m36 0h0m100 0h0m-293 1h0m19 0h0m179 0h0m88 0h0m15 0h0m13 0h0m-378 1h0m121 0h0m23 0h0m0 0h0m32 0h0m16 0h0m129 0h0m35 0h0m-351 1h0m171 0h0m6 0h0m86 0h0m48 0h0m-229 1h0m64 0h0m114 0h0m113 0h0m-399 1h0m62 0h0m20 0h0m37 0h0m25 0h0m83 0h0m35 0h0m12 0h0m49 0h0m44 0h0m31 0h0m-394 1h0m107 0h0m58 0h0m17 0h0m128 0h0m-276 1h0m16 0h0m202 0h0m43 0h0m15 0h0m22 0h0m36 0h0m22 0h0m-391 1h0m142 0h0m52 0h0m26 0h0m8 0h0m14 0h0m-226 1h0m78 0h0m26 0h0m104 0h0m10 0h0m51 0h0m48 0h0m4 0h0m47 0h0m-354 1h0m120 0h0m46 0h0m26 0h0m1 0h0m8 0h0m104 0h0m17 0h0m12 0h0m-356 1h0m33 0h0m108 0h0m108 0h0m69 0h0m56 0h0m-367 1h0m69 0h0m4 0h0m7 0h0m50 0h0m37 0h0m1 0h0m45 0h0m22 0h0m57 0h0m41 0h0m-324 1h0m31 0h0m10 0h0m50 0h0m41 0h0m206 0h0m-333 1h0m29 0h0m20 0h0m95 0h0m116 0h0m11 0h0m48 0h0m-295 1h0m97 0h0m98 0h0m30 0h0m2 0h0m3 0h0m70 0h0m21 0h0m-338 1h0m88 0h0m44 0h0m52 0h0m44 0h0m35 0h0m-187 1h0m34 0h0m5 0h0m99 0h0m60 0h0m22 0h0m43 0h0m-361 1h0m7 0h0m50 0h0m24 0h0m5 0h0m44 0h0m86 0h0m27 0h0m47 0h0m7 0h0m35 0h0m24 0h0m-377 1h0m50 0h0m55 0h0m34 0h0m1 0h0m18 0h0m148 0h0m42 0h0m8 0h0m25 0h0m3 0h0m-378 1h0m17 0h0m2 0h0m51 0h0m79 0h0m75 0h0m136 0h0m23 0h0m-346 1h0m18 0h0m137 0h0m104 0h0m65 0h0m-257 1h0m29 0h0m81 0h0m33 0h0m119 0h0m14 0h0m-350 1h0m40 0h0m55 0h0m107 0h0m16 0h0m39 0h0m-251 1h0m1 0h0m4 0h0m42 0h0m140 0h0m61 0h0m42 0h0m-313 1h0m36 0h0m28 0h0m33 0h0m51 0h0m186 0h0m38 0h0m-387 1h0m28 0h0m36 0h0m88 0h0m12 0h0m3 0h0m14 0h0m10 0h0m30 0h0m12 0h0m9 0h0m1 0h0m5 0h0m10 0h0m41 0h0m56 0h0m-162 1h0m60 0h0m71 0h0m-270 1h0m100 0h0m7 0h0m66 0h0m48 0h0m22 0h0m64 0h0m-264 1h0m38 0h0m9 0h0m12 0h0m8 0h0m108 0h0m4 0h0m24 0h0m-276 1h0m29 0h0m13 0h0m36 0h0m24 0h0m26 0h0m37 0h0m43 0h0m27 0h0m63 0h0m-283 1h0m36 0h0m40 0h0m26 0h0m35 0h0m68 0h0m76 0h0m27 0h0m50 0h0m-380 1h0m45 0h0m63 0h0m13 0h0m64 0h0m27 0h0m171 0h0m-247 1h0m27 0h0m86 0h0m49 0h0m10 0h0m53 0h0m-279 1h0m19 0h0m9 0h0m4 0h0m14 0h0m43 0h0m63 0h0m122 0h0m9 0h0m-373 1h0m32 0h0m53 0h0m36 0h0m95 0h0m84 0h0m24 0h0m-336 1h0m16 0h0m19 0h0m60 0h0m96 0h0m44 0h0m46 0h0m9 0h0m66 0h0m22 0h0m-288 1h0m7 0h0m93 0h0m12 0h0m142 0h0m50 0h0m-222 1h0m50 0h0m18 0h0m12 0h0m7 0h0m4 0h0m53 0h0m-276 1h0m65 0h0m69 0h0m34 0h0m10 0h0m48 0h0m13 0h0m24 0h0m35 0h0m18 0h0m47 0h0m-369 1h0m140 0h0m27 0h0m76 0h0m-266 1h0m22 0h0m36 0h0m169 0h0m50 0h0m15 0h0m29 0h0m7 0h0m-295 1h0m27 0h0m115 0h0m55 0h0m44 0h0m6 0h0m65 0h0m18 0h0m-365 1h0m46 0h0m26 0h0m86 0h0m94 0h0m11 0h0m1 0h0m21 0h0m77 0h0m-313 1h0m1 0h0m95 0h0m0 0h0m30 0h0m51 0h0m13 0h0m7 0h0m-228 1h0m17 0h0m65 0h0m64 0h0m116 0h0m16 0h0m-296 1h0m16 0h0m5 0h0m99 0h0m58 0h0m50 0h0m112 0h0m-307 1h0m5 0h0m21 0h0m25 0h0m44 0h0m79 0h0m2 0h0m31 0h0m110 0h0m-344 1h0m1 0h0m55 0h0m15 0h0m43 0h0m11 0h0m18 0h0m57 0h0m32 0h0m57 0h0m8 0h0m55 0h0m13 0h0m-276 1h0m32 0h0m27 0h0m12 0h0m13 0h0m12 0h0m62 0h0m75 0h0m-230 1h0m54 0h0m16 0h0m7 0h0m42 0h0m67 0h0m41 0h0m53 0h0m-383 1h0m19 0h0m16 0h0m9 0h0m30 0h0m72 0h0m83 0h0m6 0h0m148 0h0m-376 1h0m5 0h0m5 0h0m30 0h0m7 0h0m49 0h0m1 0h0m18 0h0m11 0h0m57 0h0m10 0h0m11 0h0m83 0h0m48 0h0m-344 1h0m90 0h0m67 0h0m9 0h0m8 0h0m-14 1h0m133 0h0m3 0h0m30 0h0m1 0h0m19 0h0m-270 1h0m68 0h0m10 0h0m43 0h0m119 0h0m41 0h0m6 0h0m-361 1h0m15 0h0m1 0h0m137 0h0m28 0h0m67 0h0m13 0h0m8 0h0m43 0h0m-311 1h0m6 0h0m2 0h0m66 0h0m17 0h0m128 0h0m2 0h0m19 0h0m39 0h0m108 0h0m-361 1h0m12 0h0m9 0h0m86 0h0m21 0h0m71 0h0m42 0h0m4 0h0m15 0h0m59 0h0m20 0h0m-358 1h0m45 0h0m25 0h0m16 0h0m46 0h0m209 0h0m-350 1h0m26 0h0m6 0h0m9 0h0m86 0h0m22 0h0m10 0h0m37 0h0m34 0h0m15 0h0m76 0h0m-245 1h0m45 0h0m72 0h0m40 0h0m0 0h0m93 0h0m29 0h0m-280 1h0m46 0h0m20 0h0m35 0h0m130 0h0m1 0h0m-250 1h0m74 0h0m13 0h0m35 0h0m32 0h0m1 0h0m26 0h0m74 0h0m33 0h0m17 0h0m-228 1h0m216 0h0m-334 1h0m14 0h0m30 0h0m26 0h0m43 0h0m48 0h0m3 0h0m22 0h0m140 0h0m30 0h0m-300 1h0m11 0h0m26 0h0m2 0h0m81 0h0m71 0h0m96 0h0m24 0h0m-384 1h0m47 0h0m188 0h0m8 0h0m84 0h0m17 0h0m-336 1h0m32 0h0m23 0h0m14 0h0m39 0h0m31 0h0m17 0h0m27 0h0m32 0h0m11 0h0m101 0h0m16 0h0m36 0h0m-345 1h0m2 0h0m54 0h0m7 0h0m70 0h0m4 0h0m118 0h0m34 0h0m14 0h0m39 0h0m-245 1h0m49 0h0m16 0h0m19 0h0m36 0h0m7 0h0m52 0h0m30 0h0m-348 1h0m80 0h0m97 0h0m21 0h0m195 0h0m5 0h0m-348 1h0m97 0h0m68 0h0m2 0h0m104 0h0m36 0h0m2 0h0m8 0h0m-347 1h0m108 0h0m63 0h0m138 0h0m5 0h0m21 0h0m4 0h0m20 0h0m5 0h0m-282 1h0m128 0h0m5 0h0m7 0h0m35 0h0m8 0h0m26 0h0m26 0h0m1 0h0m-341 1h0m35 0h0m13 0h0m36 0h0m15 0h0m48 0h0m27 0h0m18 0h0m37 0h0m-200 1h0m12 0h0m63 0h0m145 0h0m31 0h0m41 0h0m5 0h0m-250 1h0m88 0h0m7 0h0m24 0h0m197 0h0m-392 1h0m76 0h0m48 0h0m96 0h0m55 0h0m79 0h0m42 0h0m-375 1h0m17 0h0m75 0h0m34 0h0m151 0h0m19 0h0m55 0h0m-358 1h0m22 0h0m110 0h0m21 0h0m72 0h0m46 0h0m18 0h0m-248 1h0m20 0h0m23 0h0m48 0h0m1 0h0m166 0h0m61 0h0m11 0h0m-368 1h0m24 0h0m0 0h0m1 0h0m25 0h0m2 0h0m8 0h0m91 0h0m21 0h0m72 0h0m11 0h0m60 0h0m14 0h0m-313 1h0m44 0h0m9 0h0m86 0h0m40 0h0m17 0h0m59 0h0m38 0h0m24 0h0m12 0h0m-177 1h0m144 0h0m19 0h0m-300 1h0m110 0h0m11 0h0m27 0h0m7 0h0m81 0h0m39 0h0m36 0h0m21 0h0m-378 1h0m20 0h0m118 0h0m48 0h0m19 0h0m55 0h0m12 0h0m5 0h0m90 0h0m-366 1h0m28 0h0m23 0h0m92 0h0m2 0h0m4 0h0m7 0h0m54 0h0m130 0h0m39 0h0m4 0h0m-385 1h0m18 0h0m48 0h0m68 0h0m23 0h0m14 0h0m0 0h0m47 0h0m17 0h0m21 0h0m49 0h0m55 0h0m-335 1h0m66 0h0m67 0h0m31 0h0m31 0h0m48 0h0m15 0h0m8 0h0m11 0h0m-242 1h0m93 0h0m43 0h0m3 0h0m33 0h0m60 0h0m21 0h0m11 0h0m36 0h0m12 0h0m17 0h0m-368 1h0m22 0h0m7 0h0m34 0h0m22 0h0m24 0h0m17 0h0m1 0h0m9 0h0m2 0h0m31 0h0m91 0h0m73 0h0m-345 1h0m20 0h0m28 0h0m53 0h0m10 0h0m16 0h0m37 0h0m112 0h0m14 0h0m3 0h0m84 0h0m-365 1h0m11 0h0m54 0h0m119 0h0m114 0h0m2 0h0m24 0h0m18 0h0m-230 1h0m6 0h0m6 0h0m2 0h0m40 0h0m73 0h0m4 0h0m55 0h0m40 0h0m-360 1h0m22 0h0m6 0h0m93 0h0m36 0h0m59 0h0m58 0h0m20 0h0m84 0h0m-362 1h0m55 0h0m22 0h0m11 0h0m115 0h0m6 0h0m63 0h0m34 0h0m50 0h0m2 0h0m-224 1h0m7 0h0m27 0h0m122 0h0m-293 1h0m47 0h0m251 0h0m16 0h0m10 0h0m34 0h0m3 0h0m9 0h0m-327 1h0m48 0h0m45 0h0m41 0h0m9 0h0m7 0h0m77 0h0m14 0h0m75 0h0m6 0h0m4 0h0m-373 1h0m31 0h0m32 0h0m36 0h0m144 0h0m9 0h0m78 0h0m22 0h0m13 0h0m-310 1h0m36 0h0m8 0h0m74 0h0m8 0h0m11 0h0m41 0h0m59 0h0m13 0h0m53 0h0m-280 1h0m43 0h0m33 0h0m30 0h0m21 0h0m159 0h0m2 0h0m-374 1h0m146 0h0m92 0h0m29 0h0m14 0h0m-214 1h0m12 0h0m6 0h0m55 0h0m10 0h0m122 0h0m129 0h0m-355 1h0m3 0h0m19 0h0m162 0h0m70 0h0m23 0h0m-234 1h0m84 0h0m80 0h0m45 0h0m4 0h0m36 0h0m47 0h0m7 0h0m-356 1h0m135 0h0m17 0h0m18 0h0m8 0h0m82 0h0m78 0h0m-348 1h0m25 0h0m39 0h0m67 0h0m19 0h0m162 0h0m38 0h0m2 0h0m-370 1h0m11 0h0m38 0h0m9 0h0m10 0h0m69 0h0m25 0h0m27 0h0m76 0h0m5 0h0m1 0h0m3 0h0m7 0h0m79 0h0m24 0h0m10 0h0m-364 1h0m13 0h0m30 0h0m30 0h0m29 0h0m71 0h0m45 0h0m2 0h0m36 0h0m108 0h0m-345 1h0m16 0h0m16 0h0m25 0h0m8 0h0m23 0h0m15 0h0m95 0h0m120 0h0m-284 1h0m38 0h0m23 0h0m25 0h0m18 0h0m58 0h0m78 0h0m24 0h0m-318 1h0m102 0h0m19 0h0m14 0h0m12 0h0m14 0h0m112 0h0m7 0h0m-286 1h0m42 0h0m110 0h0m80 0h0m34 0h0m31 0h0m-302 1h0m10 0h0m72 0h0m52 0h0m5 0h0m23 0h0m64 0h0m12 0h0m4 0h0m10 0h0m34 0h0m16 0h0m20 0h0m-332 1h0m25 0h0m87 0h0m11 0h0m127 0h0m32 0h0m1 0h0m26 0h0m22 0h0m3 0h0m27 0h0m4 0h0m-381 1h0m2 0h0m58 0h0m32 0h0m10 0h0m168 0h0m9 0h0m-60 1h0m61 0h0m26 0h0m56 0h0m0 0h0m-319 1h0m36 0h0m17 0h0m54 0h0m55 0h0m30 0h0m5 0h0m44 0h0m22 0h0m24 0h0m-92 1h0m15 0h0m95 0h0m-318 1h0m6 0h0m2 0h0m99 0h0m18 0h0m15 0h0m68 0h0m6 0h0m17 0h0m107 0h0m28 0h0m-362 1h0m2 0h0m32 0h0m101 0h0m17 0h0m56 0h0m142 0h0m-313 1h0m245 0h0m9 0h0m-288 1h0m4 0h0m2 0h0m66 0h0m63 0h0m22 0h0m88 0h0m21 0h0m82 0h0m8 0h0m-357 1h0m15 0h0m140 0h0m14 0h0m15 0h0m47 0h0m6 0h0m55 0h0m20 0h0m29 0h0m13 0h0m-260 1h0m2 0h0m58 0h0m110 0h0m27 0h0m53 0h0m-219 1h0m32 0h0m8 0h0m96 0h0m47 0h0m10 0h0m45 0h0m-280 1h0m19 0h0m30 0h0m20 0h0m52 0h0m36 0h0m31 0h0m8 0h0m-264 1h0m4 0h0m3 0h0m46 0h0m108 0h0m9 0h0m31 0h0m150 0h0m-392 1h0m83 0h0m117 0h0m55 0h0m10 0h0m119 0h0m-372 1h0m5 0h0m51 0h0m6 0h0m55 0h0m26 0h0m78 0h0m25 0h0m59 0h0m-289 1h0m64 0h0m24 0h0m1 0h0m100 0h0m22 0h0m11 0h0m19 0h0m101 0h0m-324 1h0m0 0h0m31 0h0m4 0h0m38 0h0m15 0h0m17 0h0m10 0h0m170 0h0m-338 1h0m22 0h0m5 0h0m34 0h0m4 0h0m46 0h0m28 0h0m130 0h0m50 0h0m-222 1h0m126 0h0m12 0h0m67 0h0m14 0h0m65 0h0m5 0h0m-349 1h0m6 0h0m3 0h0m235 0h0m69 0h0m34 0h0m-365 1h0m29 0h0m59 0h0m79 0h0m5 0h0m10 0h0m34 0h0m65 0h0m66 0h0m-209 1h0m88 0h0m61 0h0m-249 1h0m165 0h0m12 0h0m10 0h0m62 0h0m23 0h0m4 0h0m36 0h0m22 0h0m-327 1h0m23 0h0m66 0h0m5 0h0m2 0h0m85 0h0m92 0h0m40 0h0m-298 1h0m79 0h0m34 0h0m35 0h0m116 0h0m2 0h0m18 0h0m26 0h0m10 0h0m-310 1h0m18 0h0m101 0h0m22 0h0m71 0h0m33 0h0m60 0h0m-387 1h0m25 0h0m66 0h0m104 0h0m4 0h0m14 0h0m-151 1h0m27 0h0m29 0h0m38 0h0m23 0h0m26 0h0m75 0h0m18 0h0m51 0h0m18 0h0m19 0h0m-348 1h0m56 0h0m127 0h0m109 0h0m-128 1h0m7 0h0m42 0h0m102 0h0m-235 1h0m15 0h0m29 0h0m36 0h0m66 0h0m21 0h0m10 0h0m62 0h0m9 0h0m-355 1h0m137 0h0m137 0h0m58 0h0m33 0h0m-357 1h0m25 0h0m10 0h0m15 0h0m9 0h0m55 0h0m50 0h0m28 0h0m24 0h0m52 0h0m69 0h0m-327 1h0m24 0h0m74 0h0m1 0h0m18 0h0m66 0h0m3 0h0m83 0h0m10 0h0m-315 1h0m62 0h0m60 0h0m47 0h0m25 0h0m87 0h0m38 0h0m32 0h0m15 0h0m16 0h0m11 0h0m-384 1h0m102 0h0m24 0h0m37 0h0m0 0h0m52 0h0m28 0h0m86 0h0m-300 1h0m24 0h0m70 0h0m14 0h0m91 0h0m47 0h0m61 0h0m10 0h0m-356 1h0m12 0h0m42 0h0m51 0h0m46 0h0m71 0h0m64 0h0m-246 1h0m91 0h0m61 0h0m7 0h0m68 0h0m23 0h0m26 0h0m72 0h0m-328 1h0m19 0h0m13 0h0m22 0h0m142 0h0m89 0h0m6 0h0m-297 1h0m8 0h0m6 0h0m58 0h0m30 0h0m3 0h0m3 0h0m12 0h0m12 0h0m78 0h0m26 0h0m26 0h0m61 0h0m18 0h0m-323 1h0m57 0h0m68 0h0m197 0h0m-272 1h0m76 0h0m31 0h0m13 0h0m44 0h0m61 0h0m7 0h0m-331 1h0m104 0h0m13 0h0m38 0h0m186 0h0m-335 1h0m13 0h0m74 0h0m39 0h0m39 0h0m107 0h0m-277 1h0m2 0h0m18 0h0m3 0h0m63 0h0m26 0h0m71 0h0m6 0h0m8 0h0m40 0h0m36 0h0m-274 1h0m6 0h0m30 0h0m22 0h0m104 0h0m82 0h0m93 0h0m27 0h0m1 0h0m-311 1h0m84 0h0m10 0h0m5 0h0m5 0h0m138 0h0m44 0h0m-305 1h0m9 0h0m21 0h0m67 0h0m125 0h0m14 0h0m27 0h0m-308 1h0m39 0h0m11 0h0m36 0h0m124 0h0m54 0h0m36 0h0m-196 1h0m32 0h0m79 0h0m43 0h0m22 0h0m-291 1h0m6 0h0m75 0h0m51 0h0m16 0h0m9 0h0m48 0h0m125 0h0m53 0h0m-388 1h0m16 0h0m91 0h0m71 0h0m17 0h0m12 0h0m153 0h0m31 0h0m-381 1h0m24 0h0m60 0h0m17 0h0m7 0h0m14 0h0m32 0h0m75 0h0m14 0h0m35 0h0m14 0h0m14 0h0m29 0h0m8 0h0m22 0h0m-287 1h0m15 0h0m40 0h0m68 0h0m23 0h0m32 0h0m32 0h0m13 0h0m-282 1h0m87 0h0m50 0h0m19 0h0m20 0h0m111 0h0m-285 1h0m11 0h0m104 0h0m120 0h0m19 0h0m34 0h0m12 0h0m45 0h0m6 0h0m-359 1h0m6 0h0m28 0h0m122 0h0m4 0h0m85 0h0m38 0h0m80 0h0m13 0h0m-295 1h0m56 0h0m116 0h0m19 0h0m20 0h0m-285 1h0m31 0h0m5 0h0m32 0h0m7 0h0m56 0h0m31 0h0m31 0h0m55 0h0m2 0h0m5 0h0m2 0h0m32 0h0m3 0h0m-313 1h0m8 0h0m41 0h0m215 0h0m-199 1h0m15 0h0m16 0h0m149 0h0m92 0h0m-301 1h0m60 0h0m250 0h0m-318 1h0m64 0h0m34 0h0m37 0h0m11 0h0m21 0h0m7 0h0m51 0h0m43 0h0m74 0h0m-374 1h0m23 0h0m39 0h0m13 0h0m40 0h0m13 0h0m59 0h0m38 0h0m39 0h0m2 0h0m41 0h0m-300 1h0m57 0h0m4 0h0m29 0h0m36 0h0m180 0h0m-279 1h0m65 0h0m113 0h0m9 0h0m49 0h0m55 0h0m46 0h0m-362 1h0m36 0h0m6 0h0m22 0h0m83 0h0m214 0h0m-374 1h0m7 0h0m68 0h0m33 0h0m11 0h0m42 0h0m25 0h0m58 0h0m19 0h0m46 0h0m20 0h0m2 0h0m38 0h0m-363 1h0m73 0h0m53 0h0m32 0h0m93 0h0m9 0h0m62 0h0m71 0h0m-384 1h0m95 0h0m92 0h0m9 0h0m64 0h0m10 0h0m-286 1h0m13 0h0m19 0h0m103 0h0m95 0h0m7 0h0m8 0h0m53 0h0m5 0h0m9 0h0m4 0h0m2 0h0m33 0h0m12 0h0m13 0h0m11 0h0m-377 1h0m9 0h0m44 0h0m33 0h0m81 0h0m6 0h0m44 0h0m131 0h0m19 0h0m-167 1h0m19 0h0m11 0h0m53 0h0m21 0h0m-309 1h0m128 0h0m86 0h0m6 0h0m7 0h0m22 0h0m41 0h0m71 0h0m3 0h0m-307 1h0m40 0h0m98 0h0m65 0h0m4 0h0m24 0h0m43 0h0m64 0h0m-386 1h0m51 0h0m33 0h0m43 0h0m5 0h0m17 0h0m23 0h0m126 0h0m66 0h0m-349 1h0m135 0h0m6 0h0m11 0h0m15 0h0m15 0h0m48 0h0m14 0h0m57 0h0m5 0h0m28 0h0m-296 1h0m54 0h0m16 0h0m19 0h0m36 0h0m17 0h0m48 0h0m31 0h0m-281 1h0m68 0h0m41 0h0m27 0h0m124 0h0m53 0h0m-321 1h0m139 0h0m57 0h0m72 0h0m39 0h0m7 0h0m19 0h0m-283 1h0m15 0h0m79 0h0m62 0h0m37 0h0m123 0h0m7 0h0m-368 1h0m6 0h0m25 0h0m33 0h0m28 0h0m53 0h0m1 0h0m5 0h0m21 0h0m21 0h0m22 0h0m11 0h0m169 0h0m-212 1h0m166 0h0m29 0h0m-340 1h0m6 0h0m18 0h0m10 0h0m109 0h0m219 0h0m-355 1h0m11 0h0m30 0h0m30 0h0m9 0h0m125 0h0m85 0h0m32 0h0m7 0h0m4 0h0m-356 1h0m167 0h0m50 0h0m73 0h0m14 0h0m-317 1h0m177 0h0m4 0h0m28 0h0m-108 1h0m37 0h0m1 0h0m11 0h0m32 0h0m28 0h0m52 0h0m53 0h0m26 0h0m9 0h0m-340 1h0m10 0h0m153 0h0m9 0h0m4 0h0m46 0h0m16 0h0m51 0h0m48 0h0m-360 1h0m4 0h0m8 0h0m50 0h0m32 0h0m25 0h0m26 0h0m86 0h0m54 0h0m-79 1h0m9 0h0m95 0h0m27 0h0m50 0h0m4 0h0m2 0h0m-338 1h0m4 0h0m74 0h0m53 0h0m134 0h0m80 0h0m-363 1h0m14 0h0m30 0h0m27 0h0m34 0h0m13 0h0m193 0h0m-332 1h0m29 0h0m4 0h0m124 0h0m3 0h0m79 0h0m17 0h0m31 0h0m49 0h0m3 0h0m16 0h0m-351 1h0m128 0h0m35 0h0m44 0h0m80 0h0m50 0h0m37 0h0m-394 1h0m3 0h0m10 0h0m7 0h0m8 0h0m1 0h0m160 0h0m6 0h0m48 0h0m20 0h0m69 0h0m72 0h0m-373 1h0m50 0h0m2 0h0m156 0h0m-197 1h0m37 0h0m8 0h0m7 0h0m21 0h0m53 0h0m22 0h0m135 0h0m73 0h0m-366 1h0m65 0h0m86 0h0m1 0h0m5 0h0m28 0h0m46 0h0m36 0h0m18 0h0m23 0h0m22 0h0m25 0h0m-380 1h0m25 0h0m64 0h0m33 0h0m92 0h0m-193 1h0m28 0h0m124 0h0m62 0h0m13 0h0m74 0h0m46 0h0m13 0h0m-230 1h0m7 0h0m69 0h0m40 0h0m24 0h0m3 0h0m89 0h0m-299 1h0m52 0h0m55 0h0m5 0h0m57 0h0m-209 1h0m19 0h0m30 0h0m31 0h0m196 0h0m48 0h0m10 0h0m-336 1h0m190 0h0m22 0h0m16 0h0m113 0h0m-380 1h0m13 0h0m58 0h0m67 0h0m13 0h0m131 0h0m92 0h0m12 0h0m-335 1h0m90 0h0m1 0h0m16 0h0m30 0h0m35 0h0m44 0h0m21 0h0m58 0h0m-335 1h0m30 0h0m73 0h0m2 0h0m81 0h0m39 0h0m64 0h0m19 0h0m24 0h0m-352 1h0m12 0h0m5 0h0m8 0h0m57 0h0m7 0h0m29 0h0m268 0h0m5 0h0m-346 1h0m3 0h0m37 0h0m122 0h0m11 0h0m22 0h0m44 0h0m44 0h0m3 0h0m31 0h0m32 0h0m-376 1h0m37 0h0m38 0h0m49 0h0m125 0h0m40 0h0m7 0h0m5 0h0m41 0h0m-287 1h0m199 0h0m52 0h0m19 0h0m-316 1h0m23 0h0m169 0h0m75 0h0m105 0h0m-400 1h0m45 0h0m165 0h0m40 0h0m97 0h0m3 0h0m21 0h0m-336 1h0m2 0h0m33 0h0m79 0h0m11 0h0m86 0h0m132 0h0m-369 1h0m45 0h0m5 0h0m7 0h0m189 0h0m-200 1h0m32 0h0m140 0h0m50 0h0m32 0h0m-265 1h0m21 0h0m62 0h0m48 0h0m35 0h0m-72 1h0m125 0h0m9 0h0m13 0h0m59 0h0m45 0h0m3 0h0m5 0h0m-330 1h0m41 0h0m173 0h0m59 0h0m45 0h0m-233 1h0m74 0h0m80 0h0m83 0h0m-344 1h0m39 0h0m121 0h0m4 0h0m22 0h0m123 0h0m4 0h0m-328 1h0m22 0h0m96 0h0m2 0h0m27 0h0m29 0h0m88 0h0m10 0h0m51 0h0m5 0h0m14 0h0m-316 1h0m21 0h0m131 0h0m4 0h0m36 0h0m131 0h0m1 0h0m22 0h0m-373 1h0m27 0h0m70 0h0m20 0h0m70 0h0m16 0h0m17 0h0m53 0h0m82 0h0m6 0h0m4 0h0m-330 1h0m4 0h0m95 0h0m10 0h0m31 0h0m80 0h0m18 0h0m4 0h0m20 0h0m10 0h0m51 0h0m4 0h0m-385 1h0m129 0h0m22 0h0m24 0h0m73 0h0m7 0h0m17 0h0m41 0h0m22 0h0m35 0h0m9 0h0m-307 1h0m286 0h0m-313 1h0m97 0h0m95 0h0m24 0h0m10 0h0m84 0h0m3 0h0m28 0h0m-392 1h0m7 0h0m65 0h0m26 0h0m69 0h0m22 0h0m59 0h0m104 0h0m8 0h0m-338 1h0m48 0h0m0 0h0m168 0h0m33 0h0m112 0h0m-351 1h0m10 0h0m9 0h0m40 0h0m10 0h0m98 0h0m7 0h0m82 0h0m9 0h0m76 0h0m-337 1h0m159 0h0m21 0h0m9 0h0m167 0h0m-390 1h0m9 0h0m3 0h0m99 0h0m11 0h0m47 0h0m55 0h0m41 0h0m84 0h0m46 0h0m-253 1h0m9 0h0m70 0h0m107 0h0m53 0h0m-350 1h0m38 0h0m69 0h0m68 0h0m17 0h0m50 0h0m14 0h0m52 0h0m44 0h0m7 0h0m-382 1h0m5 0h0m97 0h0m80 0h0m6 0h0m34 0h0m45 0h0m30 0h0m-206 1h0m3 0h0m57 0h0m12 0h0m48 0h0m18 0h0m11 0h0m55 0h0m5 0h0m10 0h0m78 0h0m-395 1h0m2 0h0m33 0h0m76 0h0m9 0h0m82 0h0m85 0h0m8 0h0m27 0h0m46 0h0m-299 1h0m2 0h0m18 0h0m137 0h0m96 0h0m53 0h0m-240 1h0m32 0h0m113 0h0m21 0h0m15 0h0m59 0h0m-364 1h0m39 0h0m7 0h0m59 0h0m18 0h0m27 0h0m12 0h0m0 0h0m57 0h0m27 0h0m6 0h0m76 0h0m4 0h0m44 0h0m-383 1h0m15 0h0m117 0h0m35 0h0m69 0h0m9 0h0m49 0h0m92 0h0m-393 1h0m43 0h0m91 0h0m16 0h0m96 0h0m8 0h0m9 0h0m22 0h0m44 0h0m63 0h0m-391 1h0m28 0h0m9 0h0m105 0h0m57 0h0m13 0h0m15 0h0m101 0h0m7 0h0m42 0h0m10 0h0m-351 1h0m2 0h0m77 0h0m5 0h0m26 0h0m153 0h0m1 0h0m9 0h0m7 0h0m68 0h0m-313 1h0m37 0h0m143 0h0m17 0h0m-242 1h0m11 0h0m40 0h0m44 0h0m27 0h0m47 0h0m84 0h0m73 0h0m44 0h0m-363 1h0m14 0h0m76 0h0m10 0h0m96 0h0m13 0h0m128 0h0m14 0h0m4 0h0m-348 1h0m110 0h0" stroke-width="5.6"/>
<path d="M721 779h0m64 0h0m38 0h0m19 0h0m0 0h0m33 0h0m15 0h0m95 0h0m29 0h0m6 0h0m2 0h0m36 0h0m-363 1h0m51 0h0m1 0h0m32 0h0m79 0h0m37 0h0m110 0h0m21 0h0m-207 1h0m102 0h0m115 0h0m21 0h0m-263 1h0m12 0h0m10 0h0m27 0h0m22 0h0m38 0h0m16 0h0m47 0h0m107 0h0m-244 1h0m99 0h0m144 0h0m-326 1h0m15 0h0m1 0h0m70 0h0m10 0h0m18 0h0m43 0h0m70 0h0m4 0h0m17 0h0m12 0h0m39 0h0m36 0h0m-377 1h0m5 0h0m61 0h0m0 0h0m39 0h0m60 0h0m5 0h0m23 0h0m19 0h0m15 0h0m14 0h0m42 0h0m27 0h0m59 0h0m-299 1h0m20 0h0m36 0h0m29 0h0m24 0h0m58 0h0m30 0h0m3 0h0m98 0h0m19 0h0m-376 1h0m60 0h0m32 0h0m60 0h0m4 0h0m150 0h0m27 0h0m-357 1h0m47 0h0m36 0h0m93 0h0m34 0h0m137 0h0m-217 1h0m83 0h0m72 0h0m43 0h0m-273 1h0m33 0h0m134 0h0m16 0h0m69 0h0m-294 1h0m68 0h0m32 0h0m79 0h0m30 0h0m75 0h0m64 0h0m24 0h0m1 0h0m-299 1h0m5 0h0m17 0h0m20 0h0m12 0h0m19 0h0m19 0h0m17 0h0m11 0h0m41 0h0m-211 1h0m22 0h0m73 0h0m20 0h0m21 0h0m10 0h0m23 0h0m20 0h0m14 0h0m28 0h0m75 0h0m-312 1h0m20 0h0m199 0h0m9 0h0m15 0h0m21 0h0m26 0h0m-278 1h0m42 0h0m27 0h0m22 0h0m32 0h0m114 0h0m55 0h0m-335 1h0m2 0h0m21 0h0m64 0h0m126 0h0m29 0h0m96 0h0m24 0h0m17 0h0m-254 1h0m3 0h0m43 0h0m2 0h0m39 0h0m123 0h0m56 0h0m-382 1h0m6 0h0m34 0h0m1 0h0m45 0h0m22 0h0m26 0h0m1 0h0m40 0h0m70 0h0m53 0h0m76 0h0m-378 1h0m11 0h0m5 0h0m3 0h0m71 0h0m21 0h0m1 0h0m14 0h0m16 0h0m80 0h0m28 0h0m33 0h0m64 0h0m33 0h0m-347 1h0m7 0h0m1 0h0m18 0h0m2 0h0m64 0h0m52 0h0m26 0h0m23 0h0m9 0h0m17 0h0m-238 1h0m120 0h0m42 0h0m49 0h0m36 0h0m78 0h0m54 0h0m-384 1h0m17 0h0m77 0h0m35 0h0m64 0h0m60 0h0m84 0h0m13 0h0m-361 1h0m11 0h0m54 0h0m6 0h0m1 0h0m1 0h0m2 0h0m20 0h0m163 0h0m7 0h0m11 0h0m-281 1h0m16 0h0m75 0h0m57 0h0m36 0h0m79 0h0m16 0h0m88 0h0m27 0h0m-250 1h0m71 0h0m42 0h0m24 0h0m22 0h0m14 0h0m0 0h0m-146 1h0m66 0h0m122 0h0m36 0h0m-320 1h0m160 0h0m4 0h0m158 0h0m-397 1h0m144 0h0m34 0h0m18 0h0m11 0h0m42 0h0m24 0h0m33 0h0m45 0h0m16 0h0m37 0h0m-393 1h0m36 0h0m11 0h0m63 0h0m74 0h0m2 0h0m82 0h0m56 0h0m64 0h0m3 0h0m-379 1h0m135 0h0m18 0h0m24 0h0m7 0h0m104 0h0m35 0h0m24 0h0m30 0h0m-387 1h0m52 0h0m46 0h0m26 0h0m24 0h0m59 0h0m52 0h0m122 0h0m-330 1h0m16 0h0m20 0h0m32 0h0m55 0h0m28 0h0m-72 1h0m177 0h0m9 0h0m59 0h0m-286 1h0m88 0h0m131 0h0m4 0h0m34 0h0m27 0h0m1 0h0m11 0h0m-252 1h0m20 0h0m23 0h0m55 0h0m108 0h0m33 0h0m-382 1h0m96 0h0m62 0h0m34 0h0m87 0h0m38 0h0m-316 1h0m24 0h0m43 0h0m24 0h0m38 0h0m28 0h0m6 0h0m57 0h0m114 0h0m1 0h0m26 0h0m-225 1h0m2 0h0m2 0h0m8 0h0m33 0h0m46 0h0m17 0h0m87 0h0m53 0h0m10 0h0m3 0h0m-360 1h0m2 0h0m2 0h0m24 0h0m59 0h0m152 0h0m-192 1h0m24 0h0m19 0h0m7 0h0m43 0h0m3 0h0m3 0h0m3 0h0m60 0h0m0 0h0m47 0h0m65 0h0m-286 1h0m12 0h0m19 0h0m23 0h0m146 0h0m1 0h0m4 0h0m75 0h0m-264 1h0m14 0h0m35 0h0m39 0h0m38 0h0m23 0h0m68 0h0m17 0h0m-311 1h0m114 0h0m4 0h0m16 0h0m103 0h0m99 0h0m30 0h0m11 0h0m-337 1h0m3 0h0m20 0h0m31 0h0m92 0h0m8 0h0m38 0h0m86 0h0m-210 1h0m263 0h0m-338 1h0m14 0h0m144 0h0m64 0h0m54 0h0m46 0h0m5 0h0m21 0h0m-289 1h0m99 0h0m12 0h0m13 0h0m14 0h0m70 0h0m55 0h0m-338 1h0m3 0h0m4 0h0m86 0h0m76 0h0m56 0h0m-208 1h0m46 0h0m11 0h0m48 0h0m70 0h0m13 0h0m13 0h0m38 0h0m-281 1h0m91 0h0m9 0h0m101 0h0m49 0h0m45 0h0m9 0h0m33 0h0m-326 1h0m6 0h0m16 0h0m3 0h0m47 0h0m39 0h0m8 0h0m1 0h0m51 0h0m20 0h0m48 0h0m41 0h0m54 0h0m11 0h0m40 0h0m-222 1h0m18 0h0m97 0h0m22 0h0m-296 1h0m6 0h0m38 0h0m69 0h0m1 0h0m48 0h0m14 0h0m35 0h0m48 0h0m27 0h0m20 0h0m-172 1h0m36 0h0m41 0h0m96 0h0m50 0h0m-364 1h0m4 0h0m48 0h0m26 0h0m2 0h0m72 0h0m65 0h0m122 0h0m-349 1h0m5 0h0m9 0h0m4 0h0m13 0h0m7 0h0m214 0h0m55 0h0m20 0h0m-313 1h0m16 0h0m60 0h0m2 0h0m60 0h0m20 0h0m30 0h0m88 0h0m31 0h0m16 0h0m3 0h0m11 0h0m47 0h0m-203 1h0m128 0h0m58 0h0m-378 1h0m74 0h0m90 0h0m20 0h0m24 0h0m9 0h0m2 0h0m46 0h0m46 0h0m3 0h0m50 0h0m-352 1h0m4 0h0m28 0h0m128 0h0m47 0h0m2 0h0m35 0h0m118 0h0m3 0h0m-383 1h0m6 0h0m7 0h0m65 0h0m61 0h0m166 0h0m-255 1h0m48 0h0m172 0h0m21 0h0m7 0h0m75 0h0m-366 1h0m66 0h0m26 0h0m60 0h0m57 0h0m60 0h0m22 0h0m56 0h0m-29 1h0m17 0h0m40 0h0m2 0h0m-376 1h0m9 0h0m194 0h0m-195 1h0m10 0h0m23 0h0m44 0h0m66 0h0m37 0h0m11 0h0m13 0h0m97 0h0m7 0h0m21 0h0m57 0h0m-269 1h0m22 0h0m3 0h0m37 0h0m0 0h0m30 0h0m27 0h0m42 0h0m16 0h0m6 0h0m16 0h0m67 0h0m-393 1h0m14 0h0m18 0h0m143 0h0m30 0h0m40 0h0m32 0h0m11 0h0m32 0h0m47 0h0m10 0h0m8 0h0m-352 1h0m94 0h0m39 0h0m5 0h0m34 0h0m12 0h0m81 0h0m15 0h0m-223 1h0m50 0h0m14 0h0m242 0h0m-401 1h0m32 0h0m7 0h0m13 0h0m18 0h0m7 0h0m85 0h0m25 0h0m183 0h0m29 0h0m-275 1h0m2 0h0m56 0h0m7 0h0m69 0h0m27 0h0m8 0h0m81 0h0m-360 1h0m72 0h0m16 0h0m8 0h0m18 0h0m57 0h0m0 0h0m98 0h0m111 0h0m-397 1h0m131 0h0m106 0h0m10 0h0m23 0h0m91 0h0m-297 1h0m25 0h0m22 0h0m46 0h0m61 0h0m17 0h0m56 0h0m103 0h0m-391 1h0m3 0h0m21 0h0m10 0h0m61 0h0m163 0h0m30 0h0m50 0h0m-335 1h0m5 0h0m47 0h0m84 0h0m21 0h0m62 0h0m100 0h0m-128 1h0m40 0h0m22 0h0m113 0h0m-343 1h0m137 0h0m10 0h0m11 0h0m58 0h0m72 0h0m7 0h0m-177 1h0m91 0h0m83 0h0m-288 1h0m13 0h0m8 0h0m42 0h0m91 0h0m26 0h0m68 0h0m16 0h0m36 0h0m47 0h0m14 0h0m-344 1h0m3 0h0m11 0h0m113 0h0m31 0h0m7 0h0m22 0h0m6 0h0m151 0h0m-386 1h0m87 0h0m38 0h0m17 0h0m94 0h0m30 0h0m102 0h0m14 0h0m-366 1h0m55 0h0m82 0h0m1 0h0m45 0h0m68 0h0m27 0h0m16 0h0m-263 1h0m23 0h0m54 0h0m63 0h0m6 0h0m61 0h0m43 0h0m92 0h0m-377 1h0m20 0h0m167 0h0m8 0h0m2 0h0m20 0h0m9 0h0m49 0h0m14 0h0m3 0h0m4 0h0m2 0h0m-310 1h0m72 0h0m90 0h0m34 0h0m35 0h0m150 0h0m-387 1h0m115 0h0m38 0h0m20 0h0m4 0h0m78 0h0m114 0h0m26 0h0m2 0h0m-277 1h0m71 0h0m43 0h0m46 0h0m37 0h0m-301 1h0m25 0h0m250 0h0m8 0h0m6 0h0m16 0h0m17 0h0m38 0h0m10 0h0m-359 1h0m64 0h0m20 0h0m17 0h0m71 0h0m18 0h0m110 0h0m69 0h0m2 0h0m-322 1h0m33 0h0m61 0h0m40 0h0m1 0h0m110 0h0m0 0h0m63 0h0m-352 1h0m7 0h0m8 0h0m104 0h0m28 0h0m16 0h0m50 0h0m33 0h0m82 0h0m-302 1h0m24 0h0m61 0h0m54 0h0m35 0h0m4 0h0m12 0h0m37 0h0m18 0h0m5 0h0m5 0h0m14 0h0m-297 1h0m13 0h0m41 0h0m42 0h0m14 0h0m98 0h0m28 0h0m73 0h0m4 0h0m49 0h0m-366 1h0m13 0h0m18 0h0m304 0h0m8 0h0m12 0h0m2 0h0m-347 1h0m4 0h0m19 0h0m43 0h0m95 0h0m124 0h0m5 0h0m25 0h0m41 0h0m-356 1h0m110 0h0m32 0h0m0 0h0m13 0h0m13 0h0m60 0h0m22 0h0m42 0h0m-287 1h0m80 0h0m3 0h0m83 0h0m39 0h0m31 0h0m18 0h0m49 0h0m13 0h0m6 0h0m-300 1h0m224 0h0m81 0h0m6 0h0m26 0h0m-371 1h0m7 0h0m25 0h0m17 0h0m100 0h0m7 0h0m22 0h0m45 0h0m25 0h0m107 0h0m-374 1h0m19 0h0m68 0h0m45 0h0m21 0h0m17 0h0m17 0h0m43 0h0m15 0h0m53 0h0m39 0h0m-307 1h0m10 0h0m106 0h0m21 0h0m32 0h0m34 0h0m96 0h0m-308 1h0m1 0h0m5 0h0m108 0h0m29 0h0m174 0h0m48 0h0m-359 1h0m13 0h0m95 0h0m28 0h0m54 0h0m9 0h0m54 0h0m71 0h0m-357 1h0m36 0h0m39 0h0m34 0h0m50 0h0m58 0h0m55 0h0m35 0h0m25 0h0m5 0h0m47 0h0m7 0h0m4 0h0m-386 1h0m73 0h0m15 0h0m19 0h0m99 0h0m5 0h0m19 0h0m12 0h0m36 0h0m4 0h0m-290 1h0m15 0h0m58 0h0m56 0h0m42 0h0m20 0h0m67 0h0m22 0h0m85 0h0m1 0h0m-268 1h0m41 0h0m173 0h0m20 0h0m7 0h0m25 0h0m-333 1h0m35 0h0m13 0h0m5 0h0m29 0h0m145 0h0m4 0h0m-270 1h0m108 0h0m2 0h0m51 0h0m93 0h0m18 0h0m93 0h0m-334 1h0m80 0h0m7 0h0m94 0h0m37 0h0m44 0h0m40 0h0m72 0h0m-377 1h0m7 0h0m32 0h0m104 0h0m1 0h0m36 0h0m161 0h0m11 0h0m5 0h0m20 0h0m-331 1h0m19 0h0m97 0h0m93 0h0m68 0h0m45 0h0m-377 1h0m47 0h0m78 0h0m28 0h0m214 0h0m17 0h0m-386 1h0m2 0h0m34 0h0m6 0h0m27 0h0m108 0h0m100 0h0m-279 1h0m83 0h0m22 0h0m105 0h0m5 0h0m14 0h0m66 0h0m-301 1h0m61 0h0m97 0h0m64 0h0m67 0h0m9 0h0m-298 1h0m4 0h0m9 0h0m60 0h0m75 0h0m186 0h0m12 0h0m1 0h0m21 0h0m-271 1h0m43 0h0m18 0h0m92 0h0m67 0h0m0 0h0m-315 1h0m35 0h0m50 0h0m44 0h0m113 0h0m30 0h0m111 0h0m-351 1h0m4 0h0m82 0h0m108 0h0m28 0h0m16 0h0m8 0h0m-280 1h0m122 0h0m18 0h0m14 0h0m24 0h0m20 0h0m27 0h0m7 0h0m128 0h0m8 0h0m-277 1h0m5 0h0m83 0h0m1 0h0m41 0h0m29 0h0m4 0h0m32 1h0m19 0h0m87 0h0m-351 1h0m34 0h0m61 0h0m24 0h0m19 0h0m76 0h0m-232 1h0m51 0h0m103 0h0m20 0h0m56 0h0m45 0h0m2 0h0m47 0h0m17 0h0m-344 1h0m55 0h0m26 0h0m54 0h0m15 0h0m114 0h0m21 0h0m0 0h0m-295 1h0m43 0h0m17 0h0m41 0h0m17 0h0m10 0h0m47 0h0m28 0h0m17 0h0m89 0h0m20 0h0m3 0h0m54 0h0m-375 1h0m26 0h0m60 0h0m114 0h0m28 0h0m21 0h0m21 0h0m50 0h0m-326 1h0m2 0h0m6 0h0m35 0h0m142 0h0m51 0h0m71 0h0m42 0h0m16 0h0m7 0h0m4 0h0m-380 1h0m61 0h0m2 0h0m17 0h0m127 0h0m83 0h0m30 0h0m-294 1h0m10 0h0m91 0h0m27 0h0m27 0h0m66 0h0m45 0h0m5 0h0m6 0h0m45 0h0m3 0h0m-207 1h0m184 0h0m-313 1h0m82 0h0m38 0h0m43 0h0m1 0h0m5 0h0m59 0h0m134 0h0m-385 1h0m31 0h0m32 0h0m151 0h0m8 0h0m29 0h0m137 0h0m-336 1h0m40 0h0m102 0h0m78 0h0m10 0h0m-275 1h0m74 0h0m37 0h0m55 0h0m9 0h0m146 0h0m-305 1h0m36 0h0m17 0h0m75 0h0m137 0h0m-291 1h0m42 0h0m21 0h0m202 0h0m13 0h0m94 0h0m-311 1h0m100 0h0m201 0h0m19 0h0m9 0h0m-359 1h0m75 0h0m91 0h0m128 0h0m49 0h0m-76 1h0m15 0h0m18 0h0m-315 1h0m40 0h0m10 0h0m109 0h0m31 0h0m115 0h0m-314 1h0m95 0h0m67 0h0m24 0h0m5 0h0m35 0h0m87 0h0m25 0h0m41 0h0m-378 1h0m62 0h0m10 0h0m54 0h0m32 0h0m38 0h0m54 0h0m8 0h0m9 0h0m12 0h0m13 0h0m92 0h0m-349 1h0m20 0h0m35 0h0m226 0h0m57 0h0m-387 1h0m53 0h0m21 0h0m128 0h0m37 0h0m16 0h0m10 0h0m20 0h0m4 0h0m10 0h0m1 0h0m43 0h0m35 0h0m-336 1h0m20 0h0m73 0h0m46 0h0m47 0h0m112 0h0m2 0h0m46 0h0m11 0h0m-367 1h0m77 0h0m80 0h0m9 0h0m48 0h0m46 0h0m67 0h0m-273 1h0m54 0h0m76 0h0m27 0h0m78 0h0m12 0h0m52 0h0m7 0h0m-281 1h0m77 0h0m35 0h0m100 0h0m-314 1h0m104 0h0m21 0h0m92 0h0m25 0h0m88 0h0m-329 1h0m56 0h0m75 0h0m35 0h0m51 0h0m34 0h0m59 0h0m74 0h0m6 0h0m1 0h0m-400 1h0m41 0h0m17 0h0m12 0h0m64 0h0m164 0h0m82 0h0m0 0h0m-174 1h0m41 0h0m8 0h0m1 0h0m68 0h0m-296 1h0m35 0h0m64 0h0m70 0h0m39 0h0m12 0h0m15 0h0m26 0h0m25 0h0m20 0h0m-288 1h0m158 0h0m3 0h0m5 0h0m0 0h0m3 0h0m34 0h0m39 0h0m22 0h0m34 0h0m31 0h0m-309 1h0m16 0h0m7 0h0m42 0h0m1 0h0m103 0h0m3 0h0m52 0h0m-197 1h0m20 0h0m35 0h0m74 0h0m48 0h0m30 0h0m-190 1h0m47 0h0m7 0h0m14 0h0m38 0h0m49 0h0m3 0h0m8 0h0m5 0h0m42 0h0m30 0h0m-347 1h0m113 0h0m25 0h0m40 0h0m6 0h0m-192 1h0m18 0h0m7 0h0m5 0h0m17 0h0m4 0h0m31 0h0m31 0h0m110 0h0m37 0h0m11 0h0m71 0h0m22 0h0m-334 1h0m110 0h0m80 0h0m3 0h0m18 0h0m83 0h0m25 0h0m-322 1h0m38 0h0m71 0h0m46 0h0m18 0h0m126 0h0m71 0h0m-48 1h0m36 0h0m-369 1h0m50 0h0m34 0h0m29 0h0m35 0h0m83 0h0m135 0h0m-319 1h0m4 0h0m18 0h0m9 0h0m20 0h0m5 0h0m87 0h0m149 0h0m-322 1h0m29 0h0m89 0h0m14 0h0m98 0h0m35 0h0m45 0h0m2 0h0m14 0h0m9 0h0m-357 1h0m9 0h0m75 0h0m35 0h0m71 0h0m42 0h0m5 0h0m-250 1h0m100 0h0m4 0h0m86 0h0m92 0h0m-260 1h0m16 0h0m43 0h0m7 0h0m27 0h0m55 0h0m46 0h0m14 0h0m74 0h0m25 0h0m32 0h0m-314 1h0m39 0h0m104 0h0m19 0h0m21 0h0m54 0h0m5 0h0m24 0h0m66 0h0m-376 1h0m225 0h0m2 0h0m140 0h0m-361 1h0m100 0h0m111 0h0m3 0h0m14 0h0m42 0h0m18 0h0m38 0h0m6 0h0m20 0h0m-215 1h0m44 0h0m47 0h0m44 0h0m4 0h0m17 0h0m32 0h0m49 0h0m16 0h0m3 0h0m-326 1h0m26 0h0m31 0h0m10 0h0m28 0h0m7 0h0m12 0h0m6 0h0m131 0h0m8 0h0m-248 1h0m47 0h0m14 0h0m72 0h0m2 0h0m87 0h0m58 0h0m-254 1h0m15 0h0m64 0h0m7 0h0m46 0h0m106 0h0m14 0h0m-319 1h0m75 0h0m110 0h0m30 0h0m-245 1h0m45 0h0m41 0h0m8 0h0m110 0h0m86 0h0m79 0h0m-279 1h0m-100 1h0m49 0h0m34 0h0m13 0h0m62 0h0m10 0h0m10 0h0m32 0h0m4 0h0m36 0h0m-220 1h0m51 0h0m50 0h0m15 0h0m85 0h0m45 0h0m6 0h0m1 0h0m91 0h0m1 0h0m-291 1h0m36 0h0m49 0h0m16 0h0m2 0h0m4 0h0m3 0h0m30 0h0m10 0h0m17 0h0m50 0h0m62 0h0m31 0h0m-300 1h0m71 0h0m42 0h0m154 0h0m2 0h0m2 0h0m32 0h0m-392 1h0m7 0h0m12 0h0m22 0h0m1 0h0m163 0h0m9 0h0m5 0h0m-144 1h0m27 0h0m25 0h0m46 0h0m45 0h0m0 0h0m144 0h0m21 0h0m-356 1h0m67 0h0m16 0h0m11 0h0m112 0h0m13 0h0m17 0h0m61 0h0m3 0h0m-330 1h0m189 0h0m9 0h0m22 0h0m38 0h0m6 0h0m15 0h0m38 0h0m-321 1h0m113 0h0m105 0h0m21 0h0m14 0h0m15 0h0m103 0h0m-327 1h0m8 0h0m30 0h0m32 0h0m11 0h0m9 0h0m3 0h0m76 0h0m50 0h0m12 0h0m70 0h0m47 0h0m-377 1h0m14 0h0m43 0h0m12 0h0m36 0h0m4 0h0m20 0h0m17 0h0m31 0h0m54 0h0m19 0h0m28 0h0m8 0h0m-301 1h0m34 0h0m63 0h0m56 0h0m58 0h0m5 0h0m20 0h0m9 0h0m30 0h0m54 0h0m15 0h0m25 0h0m-306 1h0m21 0h0m38 0h0m5 0h0m8 0h0m5 0h0m38 0h0m75 0h0m14 0h0m5 0h0m92 0h0m-365 1h0m20 0h0m59 0h0m45 0h0m47 0h0m15 0h0m36 0h0m68 0h0m2 0h0m33 0h0m25 0h0m35 0h0m-370 1h0m27 0h0m15 0h0m10 0h0m102 0h0m4 0h0m96 0h0m31 0h0m35 0h0m15 0h0m22 0h0m-339 1h0m19 0h0m28 0h0m29 0h0m42 0h0m21 0h0m7 0h0m20 0h0m-179 1h0m14 0h0m20 0h0m58 0h0m13 0h0m38 0h0m131 0h0m87 0h0m4 0h0m-374 1h0m20 0h0m36 0h0m77 0h0m42 0h0m97 0h0m111 0h0m-357 1h0m203 0h0m85 0h0m14 0h0m-302 1h0m14 0h0m27 0h0m15 0h0m70 0h0m98 0h0m18 0h0m-248 1h0m37 0h0m34 0h0m115 0h0m22 0h0m33 0h0m30 0h0m51 0h0m-192 1h0m18 0h0m3 0h0m49 0h0m71 0h0m8 0h0m7 0h0m8 0h0m3 0h0m2 0h0m37 0h0m-317 1h0m7 0h0m33 0h0m54 0h0m88 0h0m97 0h0m15 0h0m39 0h0m-359 1h0m104 0h0m31 0h0m110 0h0m61 0h0m19 0h0m14 0h0m31 0h0m-390 1h0m8 0h0m13 0h0m9 0h0m20 0h0m38 0h0m8 0h0m110 0h0m29 0h0m-159 1h0m7 0h0m68 0h0m53 0h0m54 0h0m2 0h0m57 0h0m51 0h0m-258 1h0m28 0h0m20 0h0m16 0h0m28 0h0m28 0h0m69 0h0m50 0h0m7 0h0m0 0h0m-278 1h0m172 0h0m40 0h0m89 0h0m-376 1h0m18 0h0m41 0h0m34 0h0m8 0h0m18 0h0m31 0h0m24 0h0m37 0h0m117 0h0m4 0h0m-255 1h0m11 0h0m28 0h0m36 0h0m28 0h0m50 0h0m20 0h0m77 0h0m36 0h0m-371 1h0m26 0h0m77 0h0m73 0h0m15 0h0m18 0h0m112 0h0m28 0h0m36 0h0m-369 1h0m20 0h0m41 0h0m3 0h0m56 0h0m29 0h0m32 0h0m46 0h0m41 0h0m80 0h0m-362 1h0m46 0h0m126 0h0m133 0h0m39 0h0m20 0h0m4 0h0m-294 1h0m60 0h0m24 0h0m42 0h0m2 0h0m10 0h0m82 0h0m40 0h0m8 0h0m9 0h0m1 0h0m20 0h0m24 0h0m-383 1h0m10 0h0m17 0h0m87 0h0m27 0h0m0 0h0m7 0h0m15 0h0m30 0h0m27 0h0m36 0h0m24 0h0m59 0h0m3 0h0m-307 1h0m33 0h0m26 0h0m16 0h0m4 0h0m33 0h0m21 0h0m0 0h0m85 0h0m70 0h0m-326 1h0m21 0h0m28 0h0m99 0h0m25 0h0m83 0h0m100 0h0m25 0h0m-387 1h0m63 0h0m118 0h0m21 0h0m52 0h0m1 0h0m32 0h0m13 0h0m91 0h0m-356 1h0m9 0h0m122 0h0m18 0h0m13 0h0m0 0h0m26 0h0m23 0h0m96 0h0m19 0h0m5 0h0m7 0h0m-362 1h0m0 0h0m57 0h0m112 0h0m77 0h0m17 0h0m31 0h0m31 0h0m29 0h0m-370 1h0m65 0h0m5 0h0m26 0h0m10 0h0m54 0h0m49 0h0m51 0h0m-262 1h0m58 0h0m12 0h0m2 0h0m88 0h0m18 0h0m105 0h0m12 0h0m85 0h0m-353 1h0m19 0h0m3 0h0m18 0h0m42 0h0m229 0h0m-307 1h0m54 0h0m65 0h0m70 0h0m8 0h0m25 0h0m37 0h0m5 0h0m-166 1h0m177 0h0m46 0h0m-138 1h0m21 0h0m49 0h0m54 0h0m56 0h0m-216 1h0m16 0h0m0 0h0m5 0h0m16 0h0m18 0h0m86 0h0m-316 1h0m38 0h0m55 0h0m3 0h0m28 0h0m3 0h0m10 0h0m40 0h0m36 0h0m85 0h0m7 0h0m40 0h0m-330 1h0m156 0h0m22 0h0m136 0h0m11 0h0m-330 1h0m11 0h0m42 0h0m179 0h0m103 0h0m-314 1h0m68 0h0m38 0h0m23 0h0m37 0h0m165 0h0m6 0h0m-344 1h0m10 0h0m143 0h0m70 0h0m89 0h0m-337 1h0m75 0h0m15 0h0m36 0h0m163 0h0m23 0h0m23 0h0m19 0h0m17 0h0m7 0h0m3 0h0m-295 1h0m61 0h0m13 0h0m96 0h0m47 0h0m6 0h0m70 0h0m13 0h0m-332 1h0m2 0h0m11 0h0m15 0h0m46 0h0m9 0h0m28 0h0m10 0h0m16 0h0m51 0h0m52 0h0m7 0h0m7 0h0m3 0h0m23 0h0m34 0h0m-368 1h0m44 0h0m98 0h0m33 0h0m12 0h0m41 0h0m14 0h0m21 0h0m20 0h0m26 0h0m4 0h0m55 0h0m-246 1h0m93 0h0m40 0h0m10 0h0m22 0h0m62 0h0m-263 1h0m116 0h0m12 0h0m130 0h0m51 0h0m-346 1h0m49 0h0m44 0h0m126 0h0m19 0h0m3 0h0m11 0h0m3 0h0m65 0h0m18 0h0m-365 1h0m51 0h0m97 0h0m93 0h0m3 0h0m45 0h0m15 0h0m59 0h0m-341 1h0m10 0h0m7 0h0m37 0h0m32 0h0m49 0h0m91 0h0m104 0h0m-215 1h0m45 0h0m37 0h0m-232 1h0m54 0h0m57 0h0m45 0h0m79 0h0m58 0h0m75 0h0m-365 1h0m11 0h0m37 0h0m11 0h0m7 0h0m85 0h0m4 0h0m6 0h0m119 0h0m-285 1h0m8 0h0m19 0h0m10 0h0m50 0h0m81 0h0m44 0h0m42 0h0m4 0h0m39 0h0m45 0h0m6 0h0m-307 1h0m10 0h0m55 0h0m119 0h0m3 0h0m65 0h0m0 0h0m72 0h0m-328 1h0m25 0h0m86 0h0m78 0h0m23 0h0m116 0h0m-364 1h0m20 0h0m42 0h0m3 0h0m73 0h0m0 0h0m71 0h0m45 0h0m15 0h0m10 0h0m3 0h0m64 0h0m-342 1h0m83 0h0m34 0h0m16 0h0m5 0h0m10 0h0m11 0h0m12 0h0m31 0h0m117 0h0m30 0h0m-353 1h0m24 0h0m79 0h0m47 0h0m3 0h0m17 0h0m40 0h0m34 0h0m63 0h0m4 0h0m41 0h0m-334 1h0m23 0h0m7 0h0m92 0h0m43 0h0m136 0h0m54 0h0m-298 1h0m80 0h0m11 0h0m140 0h0m9 0h0m24 0h0m-133 1h0m6 0h0m59 0h0m58 0h0m-322 1h0m87 0h0m55 0h0m81 0h0m16 0h0m85 0h0m-329 1h0m25 0h0m120 0h0m21 0h0m69 0h0m21 0h0m-249 1h0m83 0h0m13 0h0m34 0h0m59 0h0m31 0h0m140 0h0m-274 1h0m104 0h0m1 0h0m47 0h0m14 0h0m60 0h0m14 0h0m20 0h0m-326 1h0m26 0h0m38 0h0m18 0h0m129 0h0m35 0h0m-279 1h0m155 0h0m136 0h0m59 0h0m-343 1h0m6 0h0m56 0h0m15 0h0m75 0h0m128 0h0m72 0h0m-344 1h0m14 0h0m102 0h0m13 0h0m2 0h0m25 0h0m61 0h0m0 0h0m134 0h0m-359 1h0m18 0h0m35 0h0m24 0h0m61 0h0m28 0h0m4 0h0m86 0h0m15 0h0m26 0h0m24 0h0m3 0h0m39 0h0m-347 1h0m268 0h0m27 0h0m25 0h0m4 0h0m26 0h0m-300 1h0m103 0h0m15 0h0m2 0h0m43 0h0m46 0h0m24 0h0m-312 1h0m39 0h0m46 0h0m106 0h0m91 0h0m34 0h0m46 0h0m27 0h0m-174 1h0m100 0h0m-262 1h0m128 0h0m32 0h0m19 0h0m-228 1h0m23 0h0m2 0h0m48 0h0m19 0h0m69 0h0m9 0h0m45 0h0m5 0h0m15 0h0m8 0h0m71 0h0m4 0h0m21 0h0m29 0h0m-326 1h0m5 0h0m84 0h0m27 0h0m22 0h0m34 0h0m24 0h0m2 0h0m36 0h0m31 0h0m22 0h0m48 0h0m-370 1h0m22 0h0m19 0h0m81 0h0m15 0h0m54 0h0m20 0h0m19 0h0m114 0h0m-356 1h0m15 0h0m59 0h0m16 0h0m52 0h0m25 0h0m43 0h0m119 0h0m8 0h0m7 0h0m13 0h0m2 0h0m-362 1h0m49 0h0m63 0h0m36 0h0m86 0h0m31 0h0m33 0h0m29 0h0m70 0h0m-394 1h0m118 0h0m109 0h0m28 0h0m49 0h0m-283 1h0m2 0h0m10 0h0m22 0h0m6 0h0m20 0h0m62 0h0m1 0h0m2 0h0m29 0h0m32 0h0m2 0h0m34 0h0m5 0h0m138 0h0m-336 1h0m51 0h0m15 0h0m95 0h0m10 0h0m62 0h0m-201 1h0m61 0h0m73 0h0m-219 1h0m140 0h0m27 0h0m19 0h0m12 0h0m188 0h0m-326 1h0m100 0h0m43 0h0m8 0h0m18 0h0m39 0h0m33 0h0m46 0h0m-346 1h0m92 0h0m130 0h0m41 0h0m93 0h0m-266 1h0m11 0h0m1 0h0m97 0h0m95 0h0m6 0h0m16 0h0m13 0h0m70 0h0m-262 1h0m60 0h0m22 0h0m180 0h0m-400 1h0m49 0h0m4 0h0m31 0h0m54 0h0m66 0h0m86 0h0m15 0h0m41 0h0m34 0h0m-378 1h0m190 0h0m113 0h0m18 0h0m6 0h0m25 0h0m4 0h0m-297 1h0m49 0h0m43 0h0m142 0h0m6 0h0m59 0h0m-362 1h0m25 0h0m91 0h0m44 0h0m45 0h0m50 0h0m32 0h0m10 0h0m-298 1h0m5 0h0m1 0h0m98 0h0m9 0h0m31 0h0m89 0h0m78 0h0m82 0h0m-378 1h0m18 0h0m88 0h0m24 0h0m78 0h0m68 0h0m-218 1h0m54 0h0m110 0h0m25 0h0m4 0h0m35 0h0m43 0h0m18 0h0m-345 1h0m16 0h0m65 0h0m6 0h0m19 0h0m201 0h0m60 0h0m-333 1h0m37 0h0m29 0h0m59 0h0m30 0h0m120 0h0m49 0h0m29 0h0m-31 1h0m17 0h0m-238 1h0m3 0h0m5 0h0m27 0h0m22 0h0m31 0h0m53 0h0m30 0h0m6 0h0m19 0h0m-302 1h0m51 0h0m10 0h0m51 0h0m57 0h0m128 0h0m59 0h0m-384 1h0m11 0h0m131 0h0m138 0h0m75 0h0m13 0h0m-111 1h0m-248 1h0m5 0h0m45 0h0m170 0h0m92 0h0m-265 1h0m1 0h0m45 0h0m117 0h0m45 0h0m40 0h0m19 0h0m49 0h0m-358 1h0m72 0h0m88 0h0m82 0h0m85 0h0m15 0h0m1 0h0m13 0h0m-377 1h0m56 0h0m40 0h0m55 0h0m2 0h0m44 0h0m150 0h0m19 0h0m18 0h0m1 0h0m8 0h0m-388 1h0m2 0h0m71 0h0m50 0h0m180 0h0m-253 1h0m4 0h0m28 0h0m126 0h0m99 0h0m25 0h0m4 0h0m-270 1h0m54 0h0m13 0h0m103 0h0m62 0h0m-245 1h0m23 0h0m83 0h0m23 0h0m60 0h0m44 0h0m63 0h0m-365 1h0m5 0h0m3 0h0m57 0h0m36 0h0m5 0h0m43 0h0m2 0h0m117 0h0m3 0h0m32 0h0m29 0h0m-274 1h0m61 0h0m138 0h0m29 0h0m3 0h0m40 0h0m45 0h0m-298 1h0m9 0h0m39 0h0m160 0h0m31 0h0m9 0h0m48 0h0m-297 1h0m9 0h0m229 0h0m3 0h0m74 0h0m-307 1h0m14 0h0m8 0h0m40 0h0m18 0h0m62 0h0m72 0h0m17 0h0m13 0h0m20 0h0m-230 1h0m8 0h0m47 0h0m2 0h0m88 0h0m18 0h0m67 0h0m15 0h0m-357 1h0m18 0h0m30 0h0m43 0h0m169 0h0m5 0h0m33 0h0m47 0h0m9 0h0m14 0h0m-320 1h0m31 0h0m19 0h0m90 0h0m22 0h0m12 0h0m9 0h0m37 0h0m59 0h0m2 0h0m17 0h0m-308 1h0m22 0h0m58 0h0m5 0h0m14 0h0m12 0h0m29 0h0m26 0h0m28 0h0m79 0h0m58 0h0m-365 1h0m14 0h0m54 0h0m1 0h0m59 0h0m54 0h0m138 0h0m-256 1h0m104 0h0m54 0h0m104 0h0m59 0h0m-390 1h0m5 0h0m116 0h0m180 0h0m66 0h0m-364 1h0m86 0h0m115 0h0m13 0h0m1 0h0m-124 1h0m129 0h0m53 0h0m7 0h0m1 0h0m3 0h0m84 0h0m18 0h0m6 0h0m-347 1h0m16 0h0m71 0h0m6 0h0m87 0h0m8 0h0m43 0h0m6 0h0m35 0h0m62 0h0m-378 1h0m79 0h0m66 0h0m38 0h0m92 0h0m44 0h0m1 0h0m-313 1h0m24 0h0m73 0h0m9 0h0m48 0h0m100 0h0m13 0h0m75 0h0m-323 1h0m37 0h0m9 0h0m19 0h0m55 0h0m155 0h0m10 0h0m-294 1h0m106 0h0m93 0h0m30 0h0m4 0h0m-201 1h0m124 0h0m22 0h0m26 0h0m87 0h0m22 0h0m9 0h0m43 0h0m4 0h0m4 0h0m-379 1h0m108 0h0m11 0h0m107 0h0m105 0h0m15 0h0m2 0h0m13 0h0m-352 1h0m53 0h0m9 0h0m35 0h0m3 0h0m34 0h0m95 0h0m132 0h0m-267 1h0m63 0h0m1 0h0m14 0h0m3 0h0m71 0h0m102 0h0m6 0h0m-365 1h0m10 0h0m2 0h0m12 0h0m7 0h0m5 0h0m3 0h0m172 0h0m0 0h0m27 0h0m43 0h0m83 0h0m-294 1h0m1 0h0m24 0h0m12 0h0m191 0h0m33 0h0m8 0h0m-323 1h0m39 0h0m156 0h0m17 0h0m31 0h0m1 0h0m7 0h0m11 0h0m7 0h0m-287 1h0m40 0h0m53 0h0m21 0h0m4 0h0m96 0h0m37 0h0m4 0h0m25 0h0m-292 1h0m103 0h0m36 0h0m27 0h0m45 0h0m40 0h0m33 0h0m8 0h0m-259 1h0m60 0h0m123 0h0m99 0h0m20 0h0m18 0h0m-232 1h0m106 0h0m90 0h0m9 0h0m3 0h0m15 0h0m6 0h0m-312 1h0m54 0h0m11 0h0m6 0h0m10 0h0m78 0h0m19 0h0m138 0h0m10 0h0m-319 1h0m1 0h0m56 0h0m55 0h0m12 0h0m7 0h0m70 0h0m2 0h0m81 0h0m51 0h0m-350 1h0m119 0h0m2 0h0m42 0h0m16 0h0m111 0h0m58 0h0m2 0h0m0 0h0m22 0h0m-402 1h0m214 0h0m53 0h0m99 0h0m14 0h0m-369 1h0m50 0h0m48 0h0m40 0h0m43 0h0m141 0h0m37 0h0m-357 1h0m82 0h0m112 0h0m15 0h0m132 0h0m0 0h0m-321 1h0m24 0h0m18 0h0m45 0h0m44 0h0m13 0h0m48 0h0m31 0h0m12 0h0m2 0h0m33 0h0m53 0h0m17 0h0m8 0h0m-358 1h0m22 0h0m2 0h0m47 0h0m52 0h0m40 0h0m89 0h0m65 0h0m-335 1h0m96 0h0m9 0h0m191 0h0m33 0h0m24 0h0m-317 1h0m31 0h0m180 0h0m107 0h0m17 0h0m25 0h0m-366 1h0m42 0h0m3 0h0m48 0h0m26 0h0m88 0h0m-141 1h0m24 0h0m81 0h0m29 0h0m31 0h0m47 0h0m85 0h0m-400 1h0m27 0h0m0 0h0m89 0h0m7 0h0m13 0h0m76 0h0m5 0h0m116 0h0m1 0h0m-279 1h0m35 0h0m31 0h0m21 0h0m62 0h0m60 0h0m14 0h0m2 0h0m15 0h0m63 0h0m15 0h0m-295 1h0m100 0h0m37 0h0m22 0h0m58 0h0m-251 1h0m8 0h0m77 0h0m74 0h0m2 0h0m3 0h0m7 0h0m14 0h0m-202 1h0m3 0h0m23 0h0m121 0h0m18 0h0m11 0h0m19 0h0m-220 1h0m3 0h0m23 0h0m15 0h0m22 0h0m76 0h0m66 0h0m86 0h0m5 0h0m9 0h0m71 0h0m20 0h0m-286 1h0m16 0h0m182 0h0m27 0h0m66 0h0m-378 1h0m27 0h0m70 0h0m5 0h0m28 0h0m40 0h0m23 0h0m33 0h0m60 0h0m37 0h0m44 0h0m-372 1h0m78 0h0m112 0h0m16 0h0m56 0h0m45 0h0m7 0h0m5 0h0m32 0h0m-353 1h0m17 0h0m36 0h0m36 0h0m162 0h0m50 0h0m12 0h0m26 0h0m-329 1h0m42 0h0m13 0h0m52 0h0m59 0h0m55 0h0m12 0h0m24 0h0m38 0h0m73 0h0m-392 1h0m5 0h0m10 0h0m35 0h0m6 0h0m3 0h0m37 0h0m69 0h0m19 0h0m91 0h0m24 0h0m-276 1h0m42 0h0m79 0h0m53 0h0m8 0h0m12 0h0m118 0h0m11 0h0m1 0h0m-338 1h0m22 0h0m16 0h0m24 0h0m81 0h0m5 0h0m156 0h0m52 0h0m30 0h0m-399 1h0m46 0h0m30 0h0m33 0h0m157 0h0m1 0h0m3 0h0m4 0h0m33 0h0m79 0h0m-342 1h0m6 0h0m17 0h0m2 0h0m12 0h0m8 0h0m92 0h0m196 0h0m-338 1h0m10 0h0m68 0h0m28 0h0m106 0h0m109 0h0m7 0h0m14 0h0m17 0h0m-381 1h0m42 0h0m26 0h0m19 0h0m41 0h0m26 0h0m139 0h0m6 0h0m63 0h0m-348 1h0m8 0h0m9 0h0m60 0h0m101 0h0m92 0h0m7 0h0m95 0h0m-393 1h0m6 0h0m170 0h0m11 0h0m33 0h0m43 0h0m68 0h0m11 0h0m45 0h0m-375 1h0m19 0h0m14 0h0m4 0h0m9 0h0m41 0h0m54 0h0m101 0h0m97 0h0m14 0h0m-336 1h0m19 0h0m3 0h0m23 0h0m107 0h0m34 0h0m20 0h0m10 0h0m59 0h0m38 0h0m45 0h0m-306 1h0m76 0h0m139 0h0m10 0h0m-283 1h0m11 0h0m19 0h0m6 0h0m51 0h0m73 0h0m14 0h0m110 0h0m40 0h0m24 0h0m-364 1h0m101 0h0m77 0h0m1 0h0m-168 1h0m64 0h0m19 0h0m60 0h0m12 0h0m103 0h0m98 0h0m-334 1h0m36 0h0m70 0h0m73 0h0m37 0h0m29 0h0m5 0h0m31 0h0m58 0h0m7 0h0m-356 1h0m37 0h0m66 0h0m220 0h0m-349 1h0m21 0h0m17 0h0m37 0h0m21 0h0m85 0h0m138 0h0m-244 1h0m8 0h0m3 0h0m160 0h0m15 0h0m93 0h0m-323 1h0m49 0h0m22 0h0m41 0h0m30 0h0m21 0h0m40 0h0m30 0h0m51 0h0m13 0h0m19 0h0m-270 1h0m55 0h0m67 0h0m114 0h0m12 0h0m-280 1h0m39 0h0m4 0h0m15 0h0m45 0h0m77 0h0m77 0h0m12 0h0m72 0h0m-342 1h0m10 0h0m8 0h0m27 0h0m17 0h0m70 0h0m64 0h0m23 0h0m96 0h0m-371 1h0m61 0h0m173 0h0m1 0h0m6 0h0m35 0h0m6 0h0m76 0h0m9 0h0m34 0h0m-385 1h0m6 0h0m6 0h0m80 0h0m1 0h0m23 0h0m48 0h0m84 0h0m16 0h0m29 0h0m-235 1h0m122 0h0m67 0h0m99 0h0m-291 1h0m32 0h0m53 0h0m28 0h0m44 0h0m50 0h0m10 0h0m8 0h0m37 0h0m64 0h0m-318 1h0m23 0h0m27 0h0m56 0h0m8 0h0m16 0h0m19 0h0m18 0h0m94 0h0m26 0h0m16 0h0m-341 1h0m61 0h0m5 0h0m3 0h0m6 0h0m18 0h0m21 0h0m105 0h0m5 0h0m13 0h0m32 0h0m16 0h0m-301 1h0m32 0h0m75 0h0m45 0h0m13 0h0m57 0h0m-136 1h0m42 0h0m45 0h0m4 0h0m4 0h0m68 0h0m118 0h0m-368 1h0m135 0h0m181 0h0m-315 1h0m34 0h0m47 0h0m2 0h0m37 0h0m159 0h0m72 0h0m-355 1h0m17 0h0m148 0h0m18 0h0m5 0h0m92 0h0m-303 1h0m23 0h0m57 0h0m63 0h0m-113 1h0m10 0h0m150 0h0m-164 1h0m11 0h0m37 0h0m30 0h0m0 0h0m27 0h0m39 0h0m5 0h0m9 0h0m33 0h0m-214 1h0m47 0h0m73 0h0m48 0h0m22 0h0m41 0h0m2 0h0m98 0h0m-317 1h0m13 0h0m14 0h0m0 0h0m4 0h0m1 0h0m242 0h0m38 0h0m34 0h0m30 0h0m-345 1h0m13 0h0m73 0h0m4 0h0m110 0h0m61 0h0m94 0h0m-342 1h0m26 0h0m79 0h0m9 0h0m23 0h0m12 0h0m54 0h0m72 0h0m13 0h0m21 0h0m-278 1h0m30 0h0m126 0h0m94 0h0m56 0h0m-337 1h0m3 0h0m51 0h0m40 0h0m7 0h0m34 0h0m44 0h0m68 0h0m-167 1h0m31 0h0m32 0h0m97 0h0m87 0h0m-385 1h0m2 0h0m71 0h0m10 0h0m24 0h0m2 0h0m8 0h0m37 0h0m3 0h0m11 0h0m75 0h0m24 0h0m66 0h0m34 0h0m1 0h0m-331 1h0m4 0h0m95 0h0m36 0h0m80 0h0m16 0h0m17 0h0m1 0h0m7 0h0m-286 1h0m4 0h0m50 0h0m70 0h0m18 0h0m64 0h0m47 0h0m56 0h0m46 0h0m-341 1h0m105 0h0m5 0h0m94 0h0m3 0h0m96 0h0m54 0h0m-370 1h0m48 0h0m86 0h0m0 0h0m6 0h0m7 0h0m46 0h0m18 0h0m76 0h0m59 0h0m27 0h0m-326 1h0m106 0h0m100 0h0m5 0h0m29 0h0m34 0h0m15 0h0m-305 1h0m10 0h0m43 0h0m44 0h0m51 0h0m125 0h0m40 0h0m-351 1h0m40 0h0m59 0h0m60 0h0m220 0h0m-381 1h0m48 0h0m95 0h0m40 0h0m2 0h0m52 0h0m100 0h0m2 0h0m23 0h0m-268 1h0m5 0h0m54 0h0m0 0h0m4 0h0m52 0h0m130 0h0m3 0h0m-303 1h0m88 0h0m42 0h0m7 0h0m12 0h0m12 0h0m60 0h0m-228 1h0m41 0h0m60 0h0m50 0h0m2 0h0m16 0h0m22 0h0m167 0h0m-243 1h0m19 0h0m85 0h0m31 0h0m100 0h0m-364 1h0m31 0h0m13 0h0m21 0h0m9 0h0m109 0h0m15 0h0m120 0h0m2 0h0m5 0h0m24 0h0m32 0h0m-394 1h0m37 0h0m161 0h0m91 0h0m3 0h0m70 0h0m9 0h0m13 0h0m1 0h0m-376 1h0m15 0h0m69 0h0m71 0h0m48 0h0m30 0h0m21 0h0m-197 1h0m63 0h0m128 0h0m100 0h0m4 0h0m-327 1h0m31 0h0m2 0h0m57 0h0m170 0h0m102 0h0m-370 1h0m1 0h0m177 0h0m12 0h0m47 0h0m-214 1h0m36 0h0m36 0h0m89 0h0m66 0h0m75 0h0m8 0h0m-360 1h0m43 0h0m4 0h0m111 0h0m35 0h0m23 0h0m21 0h0m37 0h0m12 0h0m4 0h0m56 0h0m-239 1h0m50 0h0m7 0h0m31 0h0m4 0h0m7 0h0m31 0h0m32 0h0m-187 1h0m82 0h0m23 0h0m21 0h0m58 0h0m49 0h0m-321 1h0m3 0h0m30 0h0m46 0h0m88 0h0m18 0h0m24 0h0m141 0h0m0 0h0m-311 1h0m58 0h0m49 0h0m40 0h0m103 0h0m1 0h0m12 0h0m2 0h0m91 0h0m-378 1h0m116 0h0m40 0h0m15 0h0m12 0h0m81 0h0m39 0h0m41 0h0m1 0h0m-317 1h0m283 0h0m34 0h0m14 0h0m18 0h0m-374 1h0m7 0h0m8 0h0m25 0h0m23 0h0m36 0h0m34 0h0m46 0h0m22 0h0m60 0h0m82 0h0m-325 1h0m8 0h0m29 0h0m26 0h0m21 0h0m18 0h0m116 0h0m76 0h0m-316 1h0m28 0h0m24 0h0m218 0h0m48 0h0m51 0h0m-280 1h0m98 0h0m70 0h0m-248 1h0m34 0h0m56 0h0m6 0h0m6 0h0m26 0h0m74 0h0m96 0h0m32 0h0m41 0h0m-354 1h0m52 0h0m6 0h0m24 0h0m18 0h0m2 0h0m53 0h0m27 0h0m1 0h0m56 0h0m69 0h0m-234 1h0m59 0h0m64 0h0m53 0h0m15 0h0m10 0h0m1 0h0m43 0h0m2 0h0m41 0h0m-344 1h0m44 0h0m90 0h0m2 0h0m1 0h0m2 0h0m115 0h0m-308 1h0m3 0h0m12 0h0m10 0h0m9 0h0m11 0h0m64 0h0m35 0h0m36 0h0m0 0h0m9 0h0m11 0h0m7 0h0m4 0h0m68 0h0m31 0h0m54 0h0m6 0h0m-310 1h0m159 0h0m27 0h0m29 0h0m31 0h0m21 0h0m21 0h0m21 0h0m0 0h0m2 0h0m21 0h0m-367 1h0m85 0h0m96 0h0m11 0h0m12 0h0m69 0h0m49 0h0m2 0h0m19 0h0m-264 1h0m5 0h0m66 0h0m29 0h0m29 0h0m65 0h0m99 0h0m-378 1h0m13 0h0m5 0h0m33 0h0m7 0h0m304 0h0m-325 1h0m18 0h0m130 0h0m34 0h0m47 0h0m25 0h0m0 0h0m51 0h0m-347 1h0m51 0h0m3 0h0m128 0h0m93 0h0m49 0h0m19 0h0m7 0h0m-344 1h0m68 0h0m20 0h0m41 0h0m27 0h0m78 0h0m77 0h0m40 0h0m-356 1h0m92 0h0m4 0h0m39 0h0m53 0h0m21 0h0m27 0h0m-216 1h0m45 0h0m7 0h0m64 0h0m61 0h0m6 0h0m10 0h0m145 0h0m4 0h0m-371 1h0m3 0h0m12 0h0m50 0h0m4 0h0m55 0h0m15 0h0m7 0h0m13 0h0m78 0h0m80 0h0m1 0h0m-304 1h0m12 0h0m37 0h0m6 0h0m42 0h0m16 0h0m165 0h0m10 0h0m36 0h0m-333 1h0m17 0h0m64 0h0m43 0h0m5 0h0m18 0h0m33 0h0m60 0h0m10 0h0m62 0h0m16 0h0m15 0h0m10 0h0m-369 1h0m337 0h0m-337 1h0m116 0h0m99 0h0m143 0h0m-292 1h0m9 0h0m56 0h0m68 0h0m80 0h0m16 0h0m22 0h0m30 0h0m-275 1h0m123 0h0m17 0h0m23 0h0m28 0h0m-248 1h0m25 0h0m55 0h0m38 0h0m51 0h0m2 0h0m75 0h0m41 0h0m67 0h0m-364 1h0m125 0h0m63 0h0m68 0h0m-253 1h0m39 0h0m38 0h0m20 0h0m30 0h0m180 0h0m9 0h0m16 0h0m17 0h0m4 0h0m-285 1h0m36 0h0m52 0h0m24 0h0m43 0h0m48 0h0m37 0h0m43 0h0m-318 1h0m3 0h0m27 0h0m2 0h0m17 0h0m42 0h0m95 0h0m66 0h0m6 0h0m17 0h0m32 0h0m24 0h0m6 0h0m-277 1h0m51 0h0m79 0h0m38 0h0m31 0h0m4 0h0m-268 1h0m60 0h0m107 0h0m53 0h0m21 0h0m74 0h0m-335 1h0m6 0h0m86 0h0m37 0h0m14 0h0m65 0h0m10 0h0m74 0h0m88 0h0m-325 1h0m22 0h0m108 0h0m162 0h0m8 0h0m5 0h0m23 0h0m-258 1h0m10 0h0m74 0h0m89 0h0m40 0h0m-338 1h0m49 0h0m62 0h0m63 0h0m23 0h0m96 0h0m78 0h0m-294 1h0m5 0h0m101 0h0m82 0h0m49 0h0m0 0h0m2 0h0m32 0h0m12 0h0m12 0h0m-376 1h0m89 0h0m39 0h0m117 0h0m18 0h0m122 0h0m-379 1h0m5 0h0m68 0h0m93 0h0m19 0h0m97 0h0m-265 1h0m4 0h0m63 0h0m35 0h0m13 0h0m7 0h0m26 0h0m7 0h0m53 0h0m160 0h0m-361 1h0m27 0h0m42 0h0m32 0h0m53 0h0m116 0h0m24 0h0m40 0h0m-377 1h0m4 0h0m71 0h0m11 0h0m16 0h0m88 0h0m129 0h0m-246 1h0m136 0h0m28 0h0m23 0h0m56 0h0m59 0h0m-360 1h0m21 0h0m21 0h0m178 0h0m90 0h0m-276 1h0m141 0h0m43 0h0m39 0h0m40 0h0m25 0h0m11 0h0m4 0h0m33 0h0m-318 1h0m34 0h0m142 0h0m-215 1h0m24 0h0m30 0h0m16 0h0m4 0h0m57 0h0m152 0h0m45 0h0m34 0h0m-290 1h0m32 0h0m11 0h0m73 0h0m2 0h0m26 0h0m30 0h0m58 0h0m-304 1h0m17 0h0m16 0h0m18 0h0m13 0h0m98 0h0m54 0h0m-234 1h0m3 0h0m67 0h0m65 0h0m113 0h0m6 0h0m44 0h0m1 0h0m12 0h0m-293 1h0m-10 1h0m15 0h0m18 0h0m18 0h0m1 0h0m23 0h0m11 0h0m6 0h0m17 0h0m2 0h0m112 0h0m0 0h0m-185 1h0m61 0h0m33 0h0m40 0h0m1 0h0m92 0h0m4 0h0m91 0h0m-138 1h0m20 0h0m7 0h0m9 0h0m40 0h0m40 0h0m8 0h0m9 0h0m-298 1h0m11 0h0m0 0h0m106 0h0m13 0h0m13 0h0m55 0h0m38 0h0m33 0h0m48 0h0m-268 1h0m2 0h0m104 0h0m10 0h0m71 0h0m48 0h0m33 0h0m8 0h0m-362 1h0m70 0h0m94 0h0m45 0h0m4 0h0m-207 1h0m123 0h0m11 0h0m47 0h0m5 0h0m16 0h0m31 0h0m54 0h0m-281 1h0m2 0h0m0 0h0m61 0h0m18 0h0m5 0h0m-132 1h0m49 0h0m13 0h0m38 0h0m16 0h0m37 0h0m29 0h0m33 0h0m8 0h0m0 0h0m108 0h0m-220 1h0m102 0h0m42 0h0m17 0h0m103 0h0m-359 1h0m2 0h0m68 0h0m143 0h0m15 0h0m105 0h0m50 0h0m-384 1h0m16 0h0m6 0h0m35 0h0m26 0h0m19 0h0m18 0h0m46 0h0m51 0h0m30 0h0m9 0h0m45 0h0m-301 1h0m101 0h0m12 0h0m8 0h0m44 0h0m10 0h0m3 0h0m9 0h0m61 0h0m1 0h0m81 0h0m23 0h0m0 0h0m6 0h0m20 0h0m-351 1h0m14 0h0m66 0h0m143 0h0m78 0h0m31 0h0m-368 1h0m23 0h0m3 0h0m152 0h0m205 0h0m5 0h0m-384 1h0m8 0h0m124 0h0m14 0h0m66 0h0m71 0h0m48 0h0m52 0h0m-371 1h0m30 0h0m13 0h0m13 0h0m69 0h0m2 0h0m215 0h0m-365 1h0m6 0h0m7 0h0m1 0h0m6 0h0m179 0h0m14 0h0m36 0h0m31 0h0m29 0h0m74 0h0m-350 1h0m1 0h0m110 0h0m66 0h0m20 0h0m2 0h0m2 0h0m-214 1h0m17 0h0m22 0h0m12 0h0m75 0h0m52 0h0m29 0h0m46 0h0m34 0h0m51 0h0m26 0h0m-291 1h0m121 0h0m4 0h0m36 0h0m10 0h0m4 0h0m131 0h0m-399 1h0m22 0h0m7 0h0m2 0h0m26 0h0m82 0h0m59 0h0m49 0h0m-218 1h0m19 0h0m11 0h0m124 0h0m-169 1h0m157 0h0m41 0h0m-200 1h0m114 0h0m9 0h0m85 0h0m50 0h0m1 0h0m41 0h0m32 0h0m25 0h0m18 0h0m-389 1h0m42 0h0m11 0h0m182 0h0m99 0h0m67 0h0m-403 1h0m14 0h0m78 0h0m22 0h0m105 0h0m27 0h0m48 0h0m80 0h0m3 0h0m11 0h0m-351 1h0m105 0h0m100 0h0m150 0h0m-367 1h0m57 0h0m68 0h0m54 0h0m86 0h0m1 0h0m-289 1h0m74 0h0m46 0h0m144 0h0m90 0h0m28 0h0m11 0h0m-368 1h0m6 0h0m71 0h0m79 0h0m92 0h0m21 0h0m5 0h0m18 0h0m69 0h0m-196 1h0m15 0h0m30 0h0m3 0h0m32 0h0m10 0h0m1 0h0m45 0h0m9 0h0m6 0h0m-145 1h0m116 0h0m18 0h0m14 0h0m-337 1h0m76 0h0m43 0h0m45 0h0m42 0h0m17 0h0m62 0h0m-259 1h0m24 0h0m88 0h0m13 0h0m12 0h0m27 0h0m41 0h0m16 0h0m14 0h0m-270 1h0m143 0h0m31 0h0m17 0h0m83 0h0m90 0h0m34 0h0m1 0h0m-390 1h0m38 0h0m12 0h0m1 0h0m77 0h0m8 0h0m38 0h0m4 0h0m5 0h0m133 0h0m67 0h0m8 0h0m-401 1h0m130 0h0m88 0h0m26 0h0m83 0h0m19 0h0m-340 1h0m62 0h0m63 0h0m6 0h0m1 0h0m14 0h0m15 0h0m53 0h0m66 0h0m2 0h0m30 0h0m26 0h0m35 0h0m9 0h0m-318 1h0m78 0h0m14 0h0m36 0h0m79 0h0m50 0h0m58 0h0m-368 1h0m39 0h0m88 0h0m49 0h0m9 0h0m42 0h0m151 0h0m-382 1h0m33 0h0m16 0h0m54 0h0m120 0h0m44 0h0m67 0h0m40 0h0m-353 1h0m44 0h0m46 0h0m29 0h0m15 0h0m48 0h0m84 0h0m7 0h0m1 0h0m48 0h0m33 0h0m1 0h0m-208 1h0m18 0h0m12 0h0m8 0h0m81 0h0m5 0h0m-302 1h0m34 0h0m108 0h0m234 0h0m-359 1h0m78 0h0m4 0h0m20 0h0m7 0h0m69 0h0m23 0h0m57 0h0m2 0h0m23 0h0m82 0h0" stroke-width="5.6"/>
<path d="M1427 778h0m51 0h0m48 0h0m19 0h0m6 0h0m1 0h0m59 0h0m9 0h0m6 0h0m-339 1h0m44 0h0m51 0h0m1 0h0m9 0h0m99 0h0m9 0h0m2 0h0m-224 1h0m19 0h0m134 0h0m80 0h0m52 0h0m4 0h0m37 0h0m-330 1h0m20 0h0m126 0h0m77 0h0m33 0h0m30 0h0m2 0h0m31 0h0m-324 1h0m160 0h0m20 0h0m15 0h0m163 0h0m8 0h0m-238 1h0m60 0h0m96 0h0m25 0h0m20 0h0m2 0h0m8 0h0m-337 1h0m251 0h0m4 0h0m91 0h0m10 0h0m38 0h0m-386 1h0m82 0h0m4 0h0m8 0h0m83 0h0m40 0h0m48 0h0m92 0h0m-331 1h0m38 0h0m28 0h0m17 0h0m76 0h0m1 0h0m147 0h0m32 0h0m12 0h0m-364 1h0m15 0h0m75 0h0m0 0h0m68 0h0m38 0h0m14 0h0m5 0h0m90 0h0m21 0h0m4 0h0m27 0h0m-226 1h0m10 0h0m31 0h0m27 0h0m22 0h0m24 0h0m72 0h0m48 0h0m10 0h0m-395 1h0m259 0h0m31 0h0m5 0h0m24 0h0m37 0h0m-308 1h0m49 0h0m9 0h0m16 0h0m2 0h0m36 0h0m5 0h0m132 0h0m68 0h0m33 0h0m-386 1h0m52 0h0m15 0h0m95 0h0m62 0h0m162 0h0m-348 1h0m44 0h0m67 0h0m80 0h0m48 0h0m37 0h0m19 0h0m-325 1h0m11 0h0m96 0h0m102 0h0m5 0h0m74 0h0m28 0h0m30 0h0m-295 1h0m43 0h0m104 0h0m86 0h0m5 0h0m21 0h0m14 0h0m29 0h0m-341 1h0m10 0h0m24 0h0m19 0h0m50 0h0m47 0h0m11 0h0m-186 1h0m24 0h0m17 0h0m94 0h0m33 0h0m63 0h0m1 0h0m56 0h0m22 0h0m-239 1h0m64 0h0m3 0h0m112 0h0m65 0h0m44 0h0m-321 1h0m25 0h0m27 0h0m53 0h0m101 0h0m42 0h0m27 0h0m-322 1h0m34 0h0m51 0h0m37 0h0m49 0h0m21 0h0m12 0h0m20 0h0m6 0h0m55 0h0m7 0h0m-123 1h0m76 0h0m12 0h0m103 0h0m4 0h0m-323 1h0m30 0h0m139 0h0m10 0h0m94 0h0m4 0h0m-276 1h0m53 0h0m2 0h0m63 0h0m8 0h0m32 0h0m9 0h0m61 0h0m11 0h0m27 0h0m9 0h0m-302 1h0m30 0h0m2 0h0m41 0h0m30 0h0m45 0h0m42 0h0m29 0h0m148 0h0m10 0h0m8 0h0m-342 1h0m15 0h0m107 0h0m38 0h0m29 0h0m20 0h0m45 0h0m6 0h0m13 0h0m60 0h0m-349 1h0m14 0h0m88 0h0m221 0h0m-350 1h0m175 0h0m10 0h0m101 0h0m16 0h0m65 0h0m-330 1h0m37 0h0m129 0h0m60 0h0m25 0h0m55 0h0m39 0h0m-375 1h0m85 0h0m103 0h0m43 0h0m47 0h0m6 0h0m13 0h0m47 0h0m-347 1h0m32 0h0m125 0h0m49 0h0m10 0h0m10 0h0m62 0h0m29 0h0m6 0h0m-342 1h0m32 0h0m8 0h0m9 0h0m81 0h0m251 0h0m-321 1h0m19 0h0m26 0h0m57 0h0m66 0h0m13 0h0m130 0h0m-358 1h0m45 0h0m27 0h0m27 0h0m60 0h0m47 0h0m125 0h0m-346 1h0m86 0h0m9 0h0m174 0h0m94 0h0m37 0h0m-242 1h0m43 0h0m70 0h0m5 0h0m35 0h0m50 0h0m23 0h0m-209 1h0m44 0h0m17 0h0m37 0h0m39 0h0m-297 1h0m8 0h0m55 0h0m42 0h0m58 0h0m6 0h0m9 0h0m58 0h0m5 0h0m49 0h0m-276 1h0m5 0h0m72 0h0m50 0h0m37 0h0m9 0h0m27 0h0m32 0h0m40 0h0m44 0h0m36 0h0m22 0h0m-282 1h0m32 0h0m11 0h0m30 0h0m53 0h0m12 0h0m4 0h0m7 0h0m14 0h0m20 0h0m26 0h0m70 0h0m-315 1h0m21 0h0m82 0h0m200 0h0m-334 1h0m27 0h0m37 0h0m130 0h0m29 0h0m88 0h0m-318 1h0m6 0h0m107 0h0m71 0h0m26 0h0m3 0h0m2 0h0m95 0h0m16 0h0m-324 1h0m62 0h0m50 0h0m82 0h0m64 0h0m71 0h0m-353 1h0m53 0h0m29 0h0m7 0h0m23 0h0m22 0h0m11 0h0m21 0h0m63 0h0m-225 1h0m10 0h0m9 0h0m42 0h0m5 0h0m55 0h0m21 0h0m8 0h0m23 0h0m69 0h0m2 0h0m90 0h0m-307 1h0m47 0h0m14 0h0m1 0h0m54 0h0m32 0h0m62 0h0m92 0h0m-274 1h0m126 0h0m79 0h0m82 0h0m-356 1h0m8 0h0m45 0h0m84 0h0m31 0h0m30 0h0m40 0h0m59 0h0m41 0h0m49 0h0m-399 1h0m68 0h0m60 0h0m8 0h0m93 0h0m106 0h0m3 0h0m-311 1h0m227 0h0m2 0h0m22 0h0m89 0h0m27 0h0m-392 1h0m135 0h0m62 0h0m38 0h0m79 0h0m32 0h0m36 0h0m-373 1h0m10 0h0m40 0h0m10 0h0m3 0h0m19 0h0m49 0h0m49 0h0m98 0h0m108 0h0m2 0h0m-346 1h0m18 0h0m15 0h0m32 0h0m19 0h0m73 0h0m26 0h0m14 0h0m40 0h0m72 0h0m36 0h0m-160 1h0m36 0h0m107 0h0m-339 1h0m32 0h0m123 0h0m8 0h0m-158 1h0m18 0h0m43 0h0m5 0h0m29 0h0m71 0h0m80 0h0m16 0h0m32 0h0m52 0h0m-338 1h0m14 0h0m173 0h0m67 0h0m9 0h0m29 0h0m12 0h0m36 0h0m-341 1h0m174 0h0m39 0h0m93 0h0m-331 1h0m50 0h0m8 0h0m111 0h0m9 0h0m22 0h0m43 0h0m97 0h0m-266 1h0m162 0h0m83 0h0m-288 1h0m18 0h0m1 0h0m65 0h0m27 0h0m50 0h0m3 0h0m22 0h0m39 0h0m19 0h0m49 0h0m16 0h0m18 0h0m12 0h0m-392 1h0m11 0h0m174 0h0m5 0h0m5 0h0m80 0h0m6 0h0m63 0h0m-331 1h0m38 0h0m23 0h0m40 0h0m117 0h0m104 0h0m-327 1h0m104 0h0m14 0h0m97 0h0m18 0h0m19 0h0m14 0h0m-265 1h0m21 0h0m47 0h0m15 0h0m73 0h0m29 0h0m12 0h0m91 0h0m-171 1h0m90 0h0m116 0h0m4 0h0m2 0h0m21 0h0m-313 1h0m29 0h0m27 0h0m8 0h0m65 0h0m188 0h0m-325 1h0m1 0h0m36 0h0m77 0h0m17 0h0m38 0h0m76 0h0m40 0h0m-331 1h0m140 0h0m200 0h0m-337 1h0m51 0h0m12 0h0m7 0h0m55 0h0m18 0h0m51 0h0m8 0h0m4 0h0m69 0h0m3 0h0m61 0h0m14 0h0m13 0h0m-317 1h0m2 0h0m41 0h0m91 0h0m56 0h0m43 0h0m39 0h0m8 0h0m3 0h0m-306 1h0m1 0h0m16 0h0m134 0h0m44 0h0m7 0h0m27 0h0m15 0h0m10 0h0m111 0h0m-385 1h0m27 0h0m52 0h0m61 0h0m1 0h0m143 0h0m84 0h0m12 0h0m-198 1h0m45 0h0m29 0h0m101 0h0m-333 1h0m45 0h0m8 0h0m139 0h0m127 0h0m6 0h0m-241 1h0m88 0h0m52 0h0m11 0h0m50 0h0m10 0h0m-265 1h0m1 0h0m14 0h0m5 0h0m46 0h0m37 0h0m61 0h0m28 0h0m137 0h0m-330 1h0m78 0h0m23 0h0m14 0h0m9 0h0m67 0h0m8 0h0m75 0h0m33 0h0m-221 1h0m1 0h0m56 0h0m17 0h0m13 0h0m67 0h0m40 0h0m-244 1h0m73 0h0m28 0h0m73 0h0m5 0h0m-239 1h0m229 0h0m51 0h0m31 0h0m7 1h0m-307 1h0m50 0h0m63 0h0m12 0h0m48 0h0m42 0h0m-234 1h0m32 0h0m8 0h0m48 0h0m49 0h0m10 0h0m99 0h0m47 0h0m52 0h0m-263 1h0m31 0h0m178 0h0m6 0h0m26 0h0m3 0h0m19 0h0m23 0h0m-354 1h0m4 0h0m48 0h0m23 0h0m63 0h0m41 0h0m150 0h0m-334 1h0m25 0h0m58 0h0m91 0h0m66 0h0m53 0h0m7 0h0m63 0h0m-393 1h0m74 0h0m18 0h0m25 0h0m20 0h0m11 0h0m19 0h0m98 0h0m19 0h0m-219 1h0m36 0h0m135 0h0m8 0h0m23 0h0m18 0h0m20 0h0m-273 1h0m149 0h0m28 0h0m23 0h0m19 0h0m13 0h0m39 0h0m30 0h0m-299 1h0m14 0h0m108 0h0m11 0h0m59 0h0m1 0h0m18 0h0m74 0h0m20 0h0m4 0h0m-321 1h0m28 0h0m141 0h0m39 0h0m3 0h0m80 0h0m27 0h0m-345 1h0m2 0h0m246 0h0m8 0h0m29 0h0m-288 1h0m33 0h0m48 0h0m75 0h0m58 0h0m13 0h0m83 0h0m89 0h0m-385 1h0m5 0h0m12 0h0m58 0h0m25 0h0m50 0h0m115 0h0m120 0h0m-356 1h0m7 0h0m6 0h0m1 0h0m52 0h0m51 0h0m89 0h0m106 0h0m3 0h0m-85 1h0m37 0h0m58 0h0m10 0h0m3 0h0m12 0h0m-380 1h0m88 0h0m1 0h0m87 0h0m73 0h0m104 0h0m-261 1h0m27 0h0m34 0h0m5 0h0m64 0h0m8 0h0m24 0h0m26 0h0m3 0h0m3 0h0m27 0h0m19 0h0m-210 1h0m97 0h0m3 0h0m22 0h0m66 0h0m17 0h0m23 0h0m-325 1h0m205 0h0m109 0h0m-308 1h0m10 0h0m128 0h0m84 0h0m28 0h0m14 0h0m60 0h0m-287 1h0m12 0h0m10 0h0m75 0h0m74 0h0m19 0h0m65 0h0m24 0h0m7 0h0m17 0h0m-386 1h0m100 0h0m53 0h0m46 0h0m13 0h0m30 0h0m5 0h0m22 0h0m34 0h0m17 0h0m16 0h0m12 0h0m13 0h0m26 0h0m-354 1h0m113 0h0m11 0h0m14 0h0m25 0h0m61 0h0m5 0h0m28 0h0m34 0h0m27 0h0m50 0h0m-391 1h0m132 0h0m17 0h0m93 0h0m136 0h0m-365 1h0m119 0h0m23 0h0m55 0h0m14 0h0m110 0h0m-249 1h0m19 0h0m73 0h0m33 0h0m115 0h0m55 0h0m-256 1h0m47 0h0m4 0h0m1 0h0m90 0h0m2 0h0m53 0h0m-316 1h0m27 0h0m15 0h0m23 0h0m12 0h0m12 0h0m9 0h0m48 0h0m21 0h0m97 0h0m-236 1h0m144 0h0m132 0h0m63 0h0m17 0h0m-392 1h0m23 0h0m76 0h0m13 0h0m102 0h0m10 0h0m29 0h0m32 0h0m63 0h0m8 0h0m11 0h0m-347 1h0m44 0h0m122 0h0m21 0h0m3 0h0m86 0h0m-300 1h0m106 0h0m48 0h0m129 0h0m14 0h0m59 0h0m36 0h0m-379 1h0m16 0h0m41 0h0m10 0h0m11 0h0m22 0h0m15 0h0m138 0h0m66 0h0m52 0h0m-386 1h0m54 0h0m66 0h0m18 0h0m77 0h0m38 0h0m37 0h0m22 0h0m-293 1h0m13 0h0m84 0h0m2 0h0m106 0h0m5 0h0m16 0h0m-247 1h0m45 0h0m41 0h0m40 0h0m67 0h0m83 0h0m50 0h0m66 0h0m-339 1h0m43 0h0m90 0h0m101 0h0m0 0h0m2 0h0m48 0h0m29 0h0m16 0h0m-375 1h0m9 1h0m44 0h0m16 0h0m78 0h0m48 0h0m10 0h0m35 0h0m122 0h0m-346 1h0m48 0h0m51 0h0m21 0h0m35 0h0m4 0h0m2 0h0m32 0h0m26 0h0m36 0h0m49 0h0m12 0h0m47 0h0m6 0h0m-353 1h0m16 0h0m91 0h0m6 0h0m144 0h0m-290 1h0m2 0h0m84 0h0m165 0h0m105 0h0m16 0h0m-373 1h0m39 0h0m21 0h0m63 0h0m140 0h0m3 0h0m71 0h0m42 0h0m-294 1h0m66 0h0m84 0h0m2 0h0m45 0h0m7 0h0m13 0h0m65 0h0m-367 1h0m15 0h0m2 0h0m45 0h0m78 0h0m1 0h0m11 0h0m49 0h0m17 0h0m36 0h0m42 0h0m4 0h0m29 0h0m4 0h0m4 0h0m12 0h0m6 0h0m12 0h0m-314 1h0m37 0h0m23 0h0m30 0h0m21 0h0m44 0h0m2 0h0m8 0h0m35 0h0m11 0h0m4 0h0m51 0h0m18 0h0m35 0h0m-357 1h0m1 0h0m26 0h0m43 0h0m28 0h0m17 0h0m4 0h0m62 0h0m13 0h0m1 0h0m42 0h0m8 0h0m122 0h0m-326 1h0m34 0h0m8 0h0m91 0h0m7 0h0m21 0h0m84 0h0m-292 1h0m64 0h0m11 0h0m31 0h0m16 0h0m18 0h0m39 0h0m12 0h0m8 0h0m29 0h0m99 0h0m-339 1h0m21 0h0m1 0h0m38 0h0m40 0h0m37 0h0m42 0h0m53 0h0m39 0h0m7 0h0m31 0h0m11 0h0m-310 1h0m3 0h0m86 0h0m57 0h0m138 0h0m14 0h0m42 0h0m29 0h0m-381 1h0m55 0h0m4 0h0m73 0h0m10 0h0m117 0h0m58 0h0m36 0h0m-277 1h0m93 0h0m5 0h0m32 0h0m17 0h0m26 0h0m120 0h0m-292 1h0m5 0h0m6 0h0m23 0h0m29 0h0m51 0h0m138 0h0m17 0h0m-202 1h0m190 0h0m29 0h0m16 0h0m12 0h0m-384 1h0m20 0h0m18 0h0m19 0h0m10 0h0m35 0h0m1 0h0m96 0h0m52 0h0m86 0h0m54 0h0m-383 1h0m25 0h0m5 0h0m112 0h0m45 0h0m77 0h0m85 0h0m-327 1h0m18 0h0m12 0h0m17 0h0m14 0h0m10 0h0m60 0h0m71 0h0m67 0h0m-289 1h0m6 0h0m129 0h0m179 0h0m-290 1h0m58 0h0m2 0h0m7 0h0m3 0h0m31 0h0m47 0h0m16 0h0m73 0h0m6 0h0m31 0h0m5 0h0m24 0h0m8 0h0m23 0h0m-295 1h0m25 0h0m4 0h0m23 0h0m77 0h0m25 0h0m46 0h0m104 0h0m-318 1h0m43 0h0m33 0h0m13 0h0m105 0h0m7 0h0m113 0h0m-360 1h0m115 0h0m51 0h0m143 0h0m15 0h0m17 0h0m2 0h0m-223 1h0m68 0h0m12 0h0m12 0h0m31 0h0m9 0h0m7 0h0m11 0h0m69 0h0m26 0h0m-381 1h0m16 0h0m19 0h0m43 0h0m62 0h0m43 0h0m59 0h0m39 0h0m41 0h0m58 0h0m-250 1h0m44 0h0m1 0h0m25 0h0m21 0h0m5 0h0m117 0h0m2 0h0m-283 1h0m0 0h0m15 0h0m2 0h0m25 0h0m7 0h0m29 0h0m121 0h0m15 0h0m73 0h0m3 0h0m-350 1h0m79 0h0m14 0h0m207 0h0m29 0h0m-333 1h0m18 0h0m10 0h0m23 0h0m96 0h0m52 0h0m10 0h0m189 0h0m-325 1h0m58 0h0m9 0h0m45 0h0m6 0h0m10 0h0m-29 1h0m39 0h0m1 0h0m61 0h0m83 0h0m6 0h0m-325 1h0m124 0h0m53 0h0m2 0h0m23 0h0m75 0h0m41 0h0m-347 1h0m51 0h0m24 0h0m53 0h0m28 0h0m19 0h0m19 0h0m42 0h0m82 0h0m0 0h0m58 0h0m10 0h0m-370 1h0m181 0h0m19 0h0m-211 1h0m114 0h0m55 0h0m8 0h0m30 0h0m6 0h0m86 0h0m57 0h0m13 0h0m-381 1h0m17 0h0m178 0h0m49 0h0m96 0h0m33 0h0m24 0h0m-314 1h0m3 0h0m19 0h0m18 0h0m13 0h0m8 0h0m97 0h0m4 0h0m80 0h0m2 0h0m32 0h0m15 0h0m-340 1h0m15 0h0m24 0h0m30 0h0m15 0h0m5 0h0m69 0h0m45 0h0m119 0h0m42 0h0m-329 1h0m72 0h0m23 0h0m3 0h0m16 0h0m10 0h0m59 0h0m42 0h0m12 0h0m-292 1h0m28 0h0m68 0h0m167 0h0m3 0h0m17 0h0m17 0h0m-287 1h0m50 0h0m51 0h0m49 0h0m40 0h0m78 0h0m-297 1h0m1 0h0m52 0h0m57 0h0m62 0h0m13 0h0m44 0h0m7 0h0m11 0h0m7 0h0m17 0h0m40 0h0m-258 1h0m11 0h0m51 0h0m32 0h0m140 0h0m57 0h0m10 0h0m-341 1h0m3 0h0m7 0h0m110 0h0m49 0h0m101 0h0m59 0h0m7 0h0m-314 1h0m28 0h0m80 0h0m34 0h0m170 0h0m53 0h0m-367 1h0m22 0h0m86 0h0m15 0h0m33 0h0m25 0h0m143 0h0m-334 1h0m15 0h0m37 0h0m23 0h0m3 0h0m118 0h0m11 0h0m23 0h0m5 0h0m14 0h0m20 0h0m11 0h0m21 0h0m-283 1h0m26 0h0m3 0h0m29 0h0m17 0h0m26 0h0m40 0h0m57 0h0m48 0h0m54 0h0m11 0h0m23 0h0m-369 1h0m11 0h0m83 0h0m130 0h0m131 0h0m14 0h0m-342 1h0m9 0h0m33 0h0m22 0h0m11 0h0m29 0h0m73 0h0m34 0h0m24 0h0m54 0h0m4 0h0m12 0h0m34 0h0m-360 1h0m29 0h0m32 0h0m78 0h0m1 0h0m22 0h0m174 0h0m-331 1h0m45 0h0m65 0h0m115 0h0m15 0h0m17 0h0m9 0h0m14 0h0m9 0h0m-145 1h0m98 0h0m127 0h0m12 0h0m-399 1h0m95 0h0m49 0h0m10 0h0m129 0h0m57 0h0m-309 1h0m71 0h0m3 0h0m131 0h0m18 0h0m14 0h0m44 0h0m-196 1h0m21 0h0m22 0h0m43 0h0m151 0h0m31 0h0m-303 1h0m11 0h0m61 0h0m0 0h0m14 0h0m2 0h0m158 0h0m30 0h0m5 0h0m18 0h0m-380 1h0m18 0h0m22 0h0m24 0h0m34 0h0m42 0h0m56 0h0m72 0h0m9 0h0m31 0h0m56 0h0m-333 1h0m2 0h0m71 0h0m79 0h0m23 0h0m-201 1h0m34 0h0m15 0h0m13 0h0m12 0h0m15 0h0m40 0h0m34 0h0m111 0h0m62 0h0m11 0h0m-350 1h0m10 0h0m62 0h0m6 0h0m31 0h0m41 0h0m54 0h0m25 0h0m64 0h0m32 0h0m55 0h0m-355 1h0m1 0h0m22 0h0m18 0h0m20 0h0m7 0h0m37 0h0m17 0h0m147 0h0m16 0h0m65 0h0m14 0h0m-215 1h0m4 0h0m37 0h0m16 0h0m30 0h0m39 0h0m35 0h0m14 0h0m13 0h0m-353 1h0m37 0h0m2 0h0m60 0h0m1 0h0m19 0h0m73 0h0m3 0h0m34 0h0m10 0h0m-93 1h0m37 0h0m21 0h0m81 0h0m28 0h0m16 0h0m63 0h0m-290 1h0m94 0h0m8 0h0m59 0h0m78 0h0m-316 1h0m10 0h0m68 0h0m13 0h0m37 0h0m67 0h0m137 0h0m-346 1h0m87 0h0m76 0h0m34 0h0m107 0h0m10 0h0m16 0h0m21 0h0m-200 1h0m26 0h0m10 0h0m7 0h0m130 0h0m37 0h0m-331 1h0m57 0h0m1 0h0m29 0h0m185 0h0m57 0h0m4 0h0m-351 1h0m49 0h0m3 0h0m2 0h0m82 0h0m88 0h0m37 0h0m36 0h0m20 0h0m-261 1h0m59 0h0m5 0h0m31 0h0m41 0h0m76 0h0m-159 1h0m69 0h0m39 0h0m37 0h0m45 0h0m60 0h0m-249 1h0m130 0h0m51 0h0m19 0h0m46 0h0m-335 1h0m206 0h0m16 0h0m14 0h0m80 0h0m-361 1h0m51 0h0m26 0h0m87 0h0m72 0h0m14 0h0m55 0h0m20 0h0m29 0h0m21 0h0m4 0h0m-293 1h0m179 0h0m29 0h0m33 0h0m40 0h0m-353 1h0m78 0h0m128 0h0m3 0h0m15 0h0m13 0h0m42 0h0m-244 1h0m38 0h0m74 0h0m28 0h0m39 0h0m0 0h0m11 0h0m94 0h0m16 0h0m29 0h0m-250 1h0m4 0h0m78 0h0m29 0h0m65 0h0m52 0h0m30 0h0m-359 1h0m23 0h0m31 0h0m67 0h0m47 0h0m47 0h0m6 0h0m64 0h0m-237 1h0m35 0h0m54 0h0m111 0h0m-230 1h0m126 0h0m66 0h0m22 0h0m11 0h0m27 0h0m16 0h0m-304 1h0m18 0h0m21 0h0m168 0h0m11 0h0m12 0h0m-183 1h0m5 0h0m12 0h0m49 0h0m37 0h0m76 0h0m31 0h0m63 0h0m48 0h0m-348 1h0m30 0h0m24 0h0m33 0h0m73 0h0m105 0h0m-285 1h0m230 0h0m40 0h0m100 0h0m-370 1h0m0 0h0m65 0h0m118 0h0m58 0h0m50 0h0m25 0h0m39 0h0m-329 1h0m10 0h0m30 0h0m71 0h0m30 0h0m26 0h0m87 0h0m13 0h0m8 0h0m4 0h0m28 0h0m22 0h0m4 0h0m-374 1h0m92 0h0m86 0h0m77 0h0m103 0h0m14 0h0m5 0h0m-295 1h0m9 0h0m20 0h0m105 0h0m55 0h0m90 0h0m10 0h0m3 0h0m-368 1h0m198 0h0m32 0h0m1 0h0m53 0h0m-251 1h0m123 0h0m20 0h0m26 0h0m1 0h0m7 0h0m44 0h0m63 0h0m17 0h0m46 0h0m-242 1h0m12 0h0m46 0h0m34 0h0m33 0h0m126 0h0m-332 1h0m8 0h0m46 0h0m19 0h0m4 0h0m196 0h0m17 0h0m10 0h0m-319 1h0m15 0h0m10 0h0m32 0h0m28 0h0m9 0h0m10 0h0m2 0h0m152 0h0m68 0h0m11 0h0m3 0h0m-379 1h0m92 0h0m46 0h0m13 0h0m12 0h0m30 0h0m55 0h0m57 0h0m-214 1h0m218 0h0m12 0h0m27 0h0m26 0h0m-335 1h0m12 0h0m121 0h0m15 0h0m198 0h0m-358 1h0m44 0h0m25 0h0m56 0h0m19 0h0m49 0h0m64 0h0m-262 1h0m125 0h0m10 0h0m43 0h0m83 0h0m-273 1h0m52 0h0m22 0h0m198 0h0m15 0h0m70 0h0m-297 1h0m61 0h0m40 0h0m41 0h0m20 0h0m7 0h0m61 0h0m4 0h0m6 0h0m30 0h0m36 0h0m-256 1h0m13 0h0m30 0h0m50 0h0m82 0h0m1 0h0m21 0h0m16 0h0m-139 1h0m51 0h0m94 0h0m-260 1h0m29 0h0m40 0h0m13 0h0m55 0h0m9 0h0m87 0h0m64 0h0m-255 1h0m2 0h0m28 0h0m55 0h0m30 0h0m19 0h0m126 0h0m-288 1h0m39 0h0m27 0h0m49 0h0m132 0h0m-344 1h0m19 0h0m11 0h0m148 0h0m40 0h0m36 0h0m28 0h0m70 0h0m6 0h0m33 0h0m8 0h0m0 0h0m-317 1h0m45 0h0m88 0h0m28 0h0m5 0h0m15 0h0m-233 1h0m106 0h0m120 0h0m36 0h0m-259 1h0m120 0h0m11 0h0m4 0h0m84 0h0m146 0h0m-389 1h0m6 0h0m40 0h0m46 0h0m5 0h0m135 0h0m14 0h0m8 0h0m90 0h0m30 0h0m-345 1h0m5 0h0m4 0h0m10 0h0m4 0h0m99 0h0m69 0h0m54 0h0m61 0h0m48 0h0m-327 1h0m6 0h0m109 0h0m153 0h0m54 0h0m-318 1h0m84 0h0m45 0h0m104 0h0m44 0h0m-260 1h0m12 0h0m4 0h0m14 0h0m28 0h0m25 0h0m50 0h0m144 0h0m-336 1h0m59 0h0m135 0h0m-221 1h0m128 0h0m11 0h0m18 0h0m131 0h0m47 0h0m41 0h0m-266 1h0m17 0h0m10 0h0m59 0h0m145 0h0m3 0h0m-344 1h0m23 0h0m105 0h0m20 0h0m19 0h0m20 0h0m20 0h0m32 0h0m13 1h0m102 0h0m24 0h0m-368 1h0m18 0h0m9 0h0m13 0h0m41 0h0m66 0h0m137 0h0m38 0h0m-336 1h0m71 0h0m33 0h0m13 0h0m87 0h0m61 0h0m6 0h0m120 0h0m-257 1h0m4 0h0m66 0h0m74 0h0m43 0h0m37 0h0m-268 1h0m5 0h0m100 0h0m109 0h0m89 0h0m-335 1h0m54 0h0m9 0h0m18 0h0m25 0h0m142 0h0m60 0h0m-365 1h0m149 0h0m46 0h0m63 0h0m29 0h0m60 0h0m1 0h0m-337 1h0m12 0h0m4 0h0m45 0h0m42 0h0m22 0h0m100 0h0m128 0h0m-343 1h0m14 0h0m142 0h0m19 0h0m6 0h0m132 0h0m-330 1h0m67 0h0m29 0h0m18 0h0m12 0h0m5 0h0m32 0h0m1 0h0m67 0h0m25 0h0m36 0h0m37 0h0m67 0h0m-392 1h0m188 0h0m24 0h0m53 0h0m43 0h0m59 0h0m-342 1h0m1 0h0m11 0h0m8 0h0m61 0h0m29 0h0m11 0h0m34 0h0m54 0h0m22 0h0m14 0h0m60 0h0m58 0h0m-365 1h0m58 0h0m1 0h0m54 0h0m97 0h0m1 0h0m44 0h0m29 0h0m46 0h0m17 0h0m-302 1h0m8 0h0m32 0h0m0 0h0m90 0h0m9 0h0m12 0h0m43 0h0m59 0h0m34 0h0m36 0h0m-330 1h0m225 0h0m5 0h0m27 0h0m65 0h0m-348 1h0m134 0h0m4 0h0m12 0h0m52 0h0m98 0h0m26 0h0m19 0h0m-342 1h0m21 0h0m6 0h0m30 0h0m30 0h0m16 0h0m34 0h0m132 0h0m58 0h0m-320 1h0m17 0h0m114 0h0m6 0h0m56 0h0m13 0h0m3 0h0m-239 1h0m44 0h0m1 0h0m14 0h0m13 0h0m121 0h0m103 0h0m40 0h0m26 0h0m-349 1h0m4 0h0m34 0h0m164 0h0m63 0h0m1 0h0m8 0h0m26 0h0m35 0h0m-335 1h0m50 0h0m14 0h0m134 0h0m163 0h0m-381 1h0m7 0h0m91 0h0m44 0h0m66 0h0m7 0h0m7 0h0m62 0h0m55 0h0m16 0h0m16 0h0m-314 1h0m27 0h0m13 0h0m5 0h0m11 0h0m59 0h0m74 0h0m104 0h0m-365 1h0m26 0h0m154 0h0m104 0h0m27 0h0m32 0h0m7 0h0m40 0h0m-392 1h0m46 0h0m27 0h0m85 0h0m13 0h0m20 0h0m19 0h0m2 0h0m2 0h0m86 0h0m23 0h0m1 0h0m5 0h0m1 0h0m3 0h0m5 0h0m24 0h0m4 0h0m35 0h0m-270 1h0m53 0h0m32 0h0m56 0h0m6 0h0m2 0h0m4 0h0m61 0h0m-220 1h0m4 0h0m17 0h0m40 0h0m95 0h0m66 0h0m51 0h0m-387 1h0m32 0h0m14 0h0m5 0h0m19 0h0m7 0h0m1 0h0m96 0h0m52 0h0m4 0h0m29 0h0m12 0h0m26 0h0m9 0h0m1 0h0m83 0h0m-363 1h0m55 0h0m54 0h0m6 0h0m24 0h0m14 0h0m4 0h0m201 0h0m-363 1h0m5 0h0m20 0h0m31 0h0m23 0h0m2 0h0m33 0h0m3 0h0m30 0h0m48 0h0m19 0h0m47 0h0m99 0h0m1 0h0m-302 1h0m5 0h0m20 0h0m13 0h0m1 0h0m34 0h0m63 0h0m23 0h0m6 0h0m115 0h0m22 0h0m-383 1h0m38 0h0m18 0h0m24 0h0m63 0h0m15 0h0m38 0h0m4 0h0m98 0h0m31 0h0m-327 1h0m66 0h0m22 0h0m95 0h0m14 0h0m24 0h0m17 0h0m31 0h0m6 0h0m-289 1h0m47 0h0m62 0h0m8 0h0m46 0h0m165 0h0m11 0h0m-331 1h0m16 0h0m164 0h0m5 0h0m23 0h0m64 0h0m-197 1h0m86 0h0m106 0h0m69 0h0m51 0h0m-144 1h0m52 0h0m34 0h0m13 0h0m-324 1h0m80 0h0m54 0h0m13 0h0m74 0h0m14 0h0m61 0h0m15 0h0m35 0h0m1 0h0m-361 1h0m38 0h0m34 0h0m31 0h0m59 0h0m65 0h0m90 0h0m21 0h0m-284 1h0m335 0h0m-325 1h0m2 0h0m170 0h0m8 0h0m40 0h0m56 0h0m12 0h0m14 0h0m-337 1h0m80 0h0m61 0h0m75 0h0m63 0h0m15 0h0m18 0h0m-352 1h0m118 0h0m37 0h0m94 0h0m97 0h0m-313 1h0m35 0h0m3 0h0m10 0h0m8 0h0m31 0h0m141 0h0m2 0h0m55 0h0m66 0h0m-375 1h0m11 0h0m50 0h0m59 0h0m76 0h0m33 0h0m39 0h0m36 0h0m17 0h0m21 0h0m2 0h0m-250 1h0m104 0h0m5 0h0m39 0h0m0 0h0m-248 1h0m16 0h0m50 0h0m6 0h0m127 0h0m7 0h0m64 0h0m77 0h0m41 0h0m-387 1h0m37 0h0m5 0h0m13 0h0m1 0h0m68 0h0m52 0h0m101 0h0m25 0h0m20 0h0m-321 1h0m76 0h0m161 0h0m3 0h0m33 0h0m35 0h0m5 0h0m-276 1h0m13 0h0m33 0h0m9 0h0m46 0h0m43 0h0m45 0h0m30 0h0m25 0h0m6 0h0m27 0h0m32 0h0m-313 1h0m23 0h0m22 0h0m79 0h0m10 0h0m187 0h0m-353 1h0m33 0h0m253 0h0m37 0h0m31 0h0m34 0h0m-319 1h0m15 0h0m83 0h0m60 0h0m132 0h0m-233 1h0m37 1h0m16 0h0m30 0h0m6 0h0m42 0h0m21 0h0m2 0h0m16 0h0m18 0h0m-245 1h0m146 0h0m34 0h0m51 0h0m42 0h0m-275 1h0m26 0h0m32 0h0m157 0h0m3 0h0m-259 1h0m40 0h0m96 0h0m1 0h0m25 0h0m54 0h0m124 0h0m-339 1h0m9 0h0m124 0h0m22 0h0m8 0h0m24 0h0m85 0h0m-201 1h0m32 0h0m45 0h0m23 0h0m3 0h0m93 0h0m44 0h0m10 0h0m17 0h0m23 0h0m7 0h0m-230 1h0m1 0h0m40 0h0m51 0h0m5 0h0m133 0h0m-289 1h0m42 0h0m7 0h0m22 0h0m10 0h0m48 0h0m86 0h0m-308 1h0m72 0h0m46 0h0m89 0h0m39 0h0m1 0h0m20 0h0m108 0h0m-355 1h0m106 0h0m25 0h0m44 0h0m4 0h0m10 0h0m25 0h0m59 0h0m3 0h0m39 0h0m25 0h0m1 0h0m19 0h0m3 0h0m-336 1h0m71 0h0m76 0h0m44 0h0m43 0h0m48 0h0m-343 1h0m1 0h0m27 0h0m23 0h0m89 0h0m34 0h0m57 0h0m15 0h0m74 0h0m11 0h0m0 0h0m44 0h0m-342 1h0m90 0h0m47 0h0m19 0h0m26 0h0m63 0h0m116 0h0m-336 1h0m26 0h0m6 0h0m135 0h0m84 0h0m19 0h0m8 0h0m61 0h0m-338 1h0m2 0h0m16 0h0m20 0h0m69 0h0m231 0h0m-328 1h0m119 0h0m13 0h0m49 0h0m111 0h0m-350 1h0m34 0h0m10 0h0m73 0h0m86 0h0m11 0h0m123 0h0m26 0h0m8 0h0m13 0h0m-354 1h0m28 0h0m12 0h0m6 0h0m16 0h0m59 0h0m28 0h0m60 0h0m118 0h0m19 0h0m-272 1h0m14 0h0m36 0h0m12 0h0m4 0h0m36 0h0m60 0h0m-201 1h0m43 0h0m50 0h0m67 0h0m61 0h0m-299 1h0m102 0h0m58 0h0m145 0h0m25 0h0m9 0h0m1 0h0m16 0h0m27 0h0m-350 1h0m25 0h0m52 0h0m9 0h0m10 0h0m13 0h0m26 0h0m16 0h0m60 0h0m18 0h0m37 0h0m66 0h0m-345 1h0m10 0h0m48 0h0m7 0h0m44 0h0m90 0h0m26 0h0m38 0h0m90 0h0m9 0h0m-284 1h0m1 0h0m39 0h0m37 0h0m43 0h0m123 0h0m21 0h0m-365 1h0m193 0h0m56 0h0m66 0h0m14 0h0m62 0h0m-379 1h0m4 0h0m68 0h0m95 0h0m10 0h0m23 0h0m19 0h0m17 0h0m92 0h0m54 0h0m-394 1h0m36 0h0m56 0h0m6 0h0m24 0h0m63 0h0m25 0h0m50 0h0m99 0h0m8 0h0m1 0h0m-363 1h0m49 0h0m11 0h0m63 0h0m87 0h0m82 0h0m6 0h0m-292 1h0m3 0h0m10 0h0m90 0h0m54 0h0m3 0h0m4 0h0m21 0h0m6 0h0m96 0h0m4 0h0m32 0h0m-313 1h0m190 0h0m55 0h0m42 0h0m18 0h0m36 0h0m8 0h0m-349 1h0m37 0h0m43 0h0m34 0h0m80 0h0m29 0h0m53 0h0m22 0h0m6 0h0m-226 1h0m86 0h0m0 0h0m0 0h0m1 0h0m45 0h0m-108 1h0m21 0h0m2 0h0m48 0h0m26 0h0m34 0h0m62 0h0m22 0h0m17 0h0m-318 1h0m1 0h0m87 0h0m11 0h0m77 0h0m57 0h0m54 0h0m14 0h0m3 0h0m4 0h0m37 0h0m-201 1h0m34 0h0m63 0h0m72 0h0m39 0h0m-381 1h0m40 0h0m92 0h0m211 0h0m8 0h0m27 0h0m-383 1h0m11 0h0m53 0h0m2 0h0m5 0h0m151 0h0m30 0h0m3 0h0m-198 1h0m6 0h0m52 0h0m54 0h0m1 0h0m93 0h0m113 0h0m19 0h0m-364 1h0m31 0h0m182 0h0m1 0h0m29 0h0m16 0h0m25 0h0m-285 1h0m4 0h0m25 0h0m10 0h0m42 0h0m12 0h0m41 0h0m42 0h0m129 0h0m4 0h0m3 0h0m-304 1h0m15 0h0m141 0h0m46 0h0m4 0h0m74 0h0m2 0h0m59 0h0m19 0h0m-378 1h0m3 0h0m4 0h0m104 0h0m93 0h0m22 0h0m0 0h0m43 0h0m72 0h0m-238 1h0m19 0h0m18 0h0m40 0h0m35 0h0m39 0h0m52 0h0m47 0h0m8 0h0m-345 1h0m71 0h0m100 0h0m18 0h0m-208 1h0m41 0h0m5 0h0m46 0h0m17 0h0m175 0h0m34 0h0m28 0h0m2 0h0m-243 1h0m6 0h0m10 0h0m32 0h0m4 0h0m15 0h0m48 0h0m26 0h0m91 0h0m9 0h0m-307 1h0m40 0h0m48 0h0m34 0h0m25 0h0m43 0h0m10 0h0m2 0h0m-254 1h0m37 0h0m46 0h0m10 0h0m3 0h0m28 0h0m259 0h0m-369 1h0m38 0h0m21 0h0m68 0h0m188 0h0m33 0h0m-361 1h0m21 0h0m72 0h0m19 0h0m7 0h0m131 0h0m15 0h0m49 0h0m11 0h0m58 0h0m2 0h0m4 0h0m-294 1h0m89 0h0m37 0h0m59 0h0m21 0h0m5 0h0m-206 1h0m28 0h0m35 0h0m168 0h0m-310 1h0m63 0h0m60 0h0m4 0h0m14 0h0m18 0h0m70 0h0m70 0h0m33 0h0m30 0h0m-352 1h0m11 0h0m22 0h0m78 0h0m134 0h0m78 0h0m-249 1h0m43 0h0m97 0h0m42 0h0m-224 1h0m185 0h0m34 0h0m39 0h0m14 0h0m-322 1h0m40 0h0m37 0h0m40 0h0m18 0h0m55 0h0m81 0h0m2 0h0m37 0h0m41 0h0m-363 1h0m48 0h0m11 0h0m62 0h0m204 0h0m58 0h0m-322 1h0m93 0h0m54 0h0m26 0h0m17 0h0m39 0h0m-161 1h0m-119 1h0m31 0h0m30 0h0m25 0h0m2 0h0m1 0h0m31 0h0m30 0h0m14 0h0m22 0h0m21 0h0m1 0h0m25 0h0m13 0h0m80 0h0m-249 1h0m27 0h0m51 0h0m2 0h0m15 0h0m61 0h0m148 0h0m-390 1h0m31 0h0m75 0h0m16 0h0m74 0h0m50 0h0m11 0h0m7 0h0m40 0h0m-271 1h0m13 0h0m55 0h0m145 0h0m25 0h0m58 0h0m49 0h0m-387 1h0m8 0h0m143 0h0m37 0h0m30 0h0m52 0h0m116 0h0m9 0h0m-391 1h0m16 0h0m214 0h0m108 0h0m11 0h0m0 0h0m1 0h0m-331 1h0m11 0h0m123 0h0m36 0h0m150 0h0m33 0h0m-343 1h0m42 0h0m37 0h0m20 0h0m7 0h0m2 0h0m12 0h0m1 0h0m13 0h0m45 0h0m39 0h0m40 0h0m-205 1h0m6 0h0m88 0h0m34 0h0m7 0h0m33 0h0m29 0h0m13 0h0m2 0h0m75 0h0m10 0h0m-280 1h0m58 0h0m36 0h0m5 0h0m20 0h0m87 0h0m25 0h0m-324 1h0m77 0h0m38 0h0m120 0h0m95 0h0m39 0h0m-324 1h0m116 0h0m15 0h0m62 0h0m148 0h0m-350 1h0m165 0h0m40 0h0m42 0h0m55 0h0m-318 1h0m89 0h0m122 0h0m4 0h0m92 0h0m32 0h0m-247 1h0m72 0h0m35 0h0m13 0h0m159 0h0m-402 1h0m35 0h0m22 0h0m53 0h0m11 0h0m35 0h0m143 0h0m75 0h0m-357 1h0m70 0h0m112 0h0m30 0h0m87 0h0m23 0h0m42 0h0m-262 1h0m21 0h0m144 0h0m32 0h0m-308 1h0m134 0h0m17 0h0m0 0h0m6 0h0m24 0h0m113 0h0m1 0h0m5 0h0m17 0h0m20 0h0m13 0h0m5 0h0m-322 1h0m45 0h0m99 0h0m44 0h0m28 0h0m86 0h0m5 0h0m28 0h0m27 0h0m-357 1h0m5 0h0m5 0h0m11 0h0m50 0h0m39 0h0m202 0h0m-332 1h0m54 0h0m35 0h0m34 0h0m48 0h0m181 0h0m15 0h0m-379 1h0m81 0h0m43 0h0m4 0h0m105 0h0m9 0h0m-232 1h0m4 0h0m16 0h0m83 0h0m16 0h0m94 0h0m5 0h0m64 0h0m34 0h0m44 0h0m-314 1h0m59 0h0m3 0h0m3 0h0m207 0h0m2 0h0m-224 1h0m17 0h0m35 0h0m10 0h0m66 0h0m150 0h0m-390 1h0m40 0h0m0 0h0m211 0h0m30 0h0m7 0h0m21 0h0m62 0h0m-276 1h0m16 0h0m31 0h0m11 0h0m103 0h0m108 0h0m-361 1h0m14 0h0m10 0h0m55 0h0m50 0h0m31 0h0m7 0h0m6 0h0m18 0h0m17 0h0m31 0h0m113 0h0m-323 1h0m208 0h0m54 0h0m40 0h0m2 0h0m-286 1h0m56 0h0m10 0h0m19 0h0m73 0h0m81 0h0m-266 1h0m40 0h0m114 0h0m12 0h0m10 0h0m70 0h0m7 0h0m-210 1h0m35 0h0m38 0h0m16 0h0m7 0h0m173 0h0m22 0h0m26 0h0m-388 1h0m24 0h0m81 0h0m15 0h0m14 0h0m19 0h0m55 0h0m-132 1h0m35 0h0m31 0h0m5 0h0m36 0h0m41 0h0m65 0h0m37 0h0m-296 1h0m69 0h0m10 0h0m8 0h0m62 0h0m38 0h0m52 0h0m-257 1h0m28 0h0m4 0h0m7 0h0m77 0h0m49 0h0m43 0h0m5 0h0m37 0h0m-228 1h0m17 0h0m16 0h0m14 0h0m8 0h0m20 0h0m0 0h0m16 0h0m34 0h0m6 0h0m91 0h0m54 0h0m28 0h0m54 0h0m8 0h0m-365 1h0m1 0h0m2 0h0m6 0h0m15 0h0m5 0h0m38 0h0m19 0h0m49 0h0m40 0h0m91 0h0m41 0h0m-288 1h0m6 0h0m6 0h0m54 0h0m32 0h0m1 0h0m73 0h0m36 0h0m21 0h0m11 0h0m72 0h0m4 0h0m-312 1h0m29 0h0m6 0h0m34 0h0m130 0h0m127 0h0m-265 1h0m143 0h0m135 0h0m-369 1h0m79 0h0m33 0h0m63 0h0m34 0h0m86 0h0m38 0h0m2 0h0m-351 1h0m124 0h0m11 0h0m18 0h0m8 0h0m96 0h0m65 0h0m6 0h0m17 0h0m34 0h0m-375 1h0m26 0h0m17 0h0m37 0h0m8 0h0m71 0h0m68 0h0m130 0h0m-297 1h0m92 0h0m43 0h0m105 0h0m32 0h0m12 0h0m-340 1h0m19 0h0m40 0h0m80 0h0m4 0h0m77 0h0m120 0h0m24 0h0m1 0h0m1 0h0m-236 1h0m12 0h0m35 0h0m61 0h0m17 0h0m63 0h0m58 0h0m-361 1h0m45 0h0m25 0h0m97 0h0m116 0h0m24 0h0m1 0h0m18 0h0m6 0h0m3 0h0m-273 1h0m2 0h0m8 0h0m38 0h0m16 0h0m52 0h0m24 0h0m8 0h0m13 0h0m85 0h0m14 0h0m-317 1h0m38 0h0m26 0h0m42 0h0m46 0h0m15 0h0m154 0h0m-357 1h0m24 0h0m25 0h0m80 0h0m99 0h0m21 0h0m82 0h0m40 0h0m2 0h0m-318 1h0m106 0h0m42 0h0m62 0h0m31 0h0m21 0h0m23 0h0m-342 1h0m11 0h0m281 0h0m-151 1h0m97 0h0m44 0h0m19 0h0m-212 1h0m183 0h0m107 0h0m-369 1h0m18 0h0m44 0h0m63 0h0m28 0h0m34 0h0m31 0h0m96 0h0m-299 1h0m25 0h0m109 0h0m57 0h0m110 0h0m2 0h0m19 0h0m25 0h0m21 0h0m-331 1h0m33 0h0m7 0h0m17 0h0m23 0h0m3 0h0m6 0h0m74 0h0m14 0h0m112 0h0m-290 1h0m34 0h0m32 0h0m11 0h0m2 0h0m34 0h0m11 0h0m67 0h0m52 0h0m12 0h0m61 0h0m17 0h0m-366 1h0m27 0h0m16 0h0m80 0h0m43 0h0m24 0h0m12 0h0m116 0h0m50 0h0m-378 1h0m31 0h0m161 0h0m29 0h0m61 0h0m6 0h0m18 0h0m37 0h0m-298 1h0m8 0h0m26 0h0m16 0h0m73 0h0m67 0h0m70 0h0m5 0h0m13 0h0m-272 1h0m162 0h0m89 0h0m50 0h0m-350 1h0m17 0h0m18 0h0m2 0h0m33 0h0m25 0h0m36 0h0m17 0h0m67 0h0m33 0h0m12 0h0m68 0h0m-300 1h0m153 0h0m74 0h0m22 0h0m6 0h0m12 0h0m32 0h0m22 0h0m23 0h0m-315 1h0m84 0h0m232 0h0m-382 1h0m2 0h0m54 0h0m4 0h0m15 0h0m116 0h0m3 0h0m5 0h0m16 0h0m19 0h0m2 0h0m10 0h0m65 0h0m-301 1h0m56 0h0m26 0h0m25 0h0m122 0h0m52 0h0m3 0h0m3 0h0m0 0h0m16 0h0m13 0h0m-332 1h0m131 0h0m22 0h0m30 0h0m6 0h0m182 0h0m-339 1h0m50 0h0m14 0h0m50 0h0m90 0h0m68 0h0m34 0h0m3 0h0m12 0h0m-313 1h0m15 0h0m102 0h0m5 0h0m40 0h0m3 0h0m22 0h0m6 0h0m41 0h0m77 0h0m-286 1h0m4 0h0m9 0h0m100 0h0m10 0h0m60 0h0m1 0h0m106 0h0m-366 1h0m85 0h0m168 0h0m45 0h0m52 0h0m33 0h0m-276 1h0m13 0h0m92 0h0m55 0h0m-244 1h0m23 0h0m171 0h0m99 0h0m-224 1h0m59 0h0m15 0h0m57 0h0m37 0h0m26 0h0m47 0h0m12 0h0m36 0h0m-333 1h0m3 0h0m56 0h0m44 0h0m23 0h0m30 0h0m21 0h0m-222 1h0m25 0h0m29 0h0m31 0h0m85 0h0m26 0h0m6 0h0m16 0h0m138 0h0m5 0h0m-359 1h0m60 0h0m56 0h0m65 0h0m39 0h0m28 0h0m67 0h0m5 0h0m25 0h0m22 0h0m-346 1h0m131 0h0m65 0h0m36 0h0m10 0h0m15 0h0m14 0h0m-291 1h0m2 0h0m67 0h0m31 0h0m42 0h0m68 0h0m128 0h0m10 0h0m41 0h0m-380 1h0m26 0h0m35 0h0m30 0h0m46 0h0m86 0h0m13 0h0m89 0h0m43 0h0m-378 1h0m131 0h0m65 0h0m83 0h0m91 0h0m-333 1h0m5 0h0m171 0h0m27 0h0m8 0h0m28 0h0m3 0h0m39 0h0m29 0h0m-333 1h0m138 0h0m48 0h0m64 0h0m7 0h0m26 0h0m36 0h0m22 0h0m-351 1h0m34 0h0m42 0h0m263 0h0m-280 1h0m46 0h0m88 0h0m65 0h0m32 0h0m41 0h0m-255 1h0m8 0h0m33 0h0m14 0h0m32 0h0m74 0h0m76 0h0m0 0h0m-172 1h0m56 0h0m7 0h0m7 0h0m67 0h0m32 0h0m28 0h0m50 0h0m-267 1h0m11 0h0m50 0h0m36 0h0m97 0h0m10 0h0m38 0h0m-372 1h0m67 0h0m33 0h0m82 0h0m43 0h0m-113 1h0m35 0h0m56 0h0m17 0h0m1 0h0m138 0h0m0 0h0m42 0h0m-344 1h0m130 0h0m13 0h0m12 0h0m7 0h0m11 0h0m105 0h0m-333 1h0m14 0h0m55 0h0m41 0h0m72 0h0m33 0h0m2 0h0m61 0h0m87 0h0m-365 1h0m16 0h0m17 0h0m27 0h0m8 0h0m7 0h0m4 0h0m52 0h0m18 0h0m59 0h0m21 0h0m49 0h0m1 0h0m10 0h0m96 0h0m0 0h0m-370 1h0m17 0h0m10 0h0m108 0h0m38 0h0m5 0h0m81 0h0m25 0h0m16 0h0m25 0h0m55 0h0m-358 1h0m56 0h0m8 0h0m38 0h0m55 0h0m75 0h0m33 0h0m27 0h0m18 0h0m17 0h0m2 0h0m-359 1h0m74 0h0m181 0h0m46 0h0m12 0h0m-203 1h0m25 0h0m6 0h0m140 0h0m28 0h0m-262 1h0m220 0h0m75 0h0m-339 1h0m7 0h0m22 0h0m28 0h0m15 0h0m17 0h0m81 0h0m39 0h0m126 0h0m12 0h0m5 0h0m17 0h0m13 0h0m2 0h0m-381 1h0m20 0h0m7 0h0m11 0h0m3 0h0m61 0h0m46 0h0m18 0h0m2 0h0m53 0h0m124 0h0m40 0h0m-394 1h0m205 0h0m38 0h0m29 0h0m57 0h0m13 0h0m22 0h0m15 0h0m-378 1h0m73 0h0m59 0h0m118 0h0m40 0h0m11 0h0m-252 1h0m5 0h0m55 0h0m18 0h0m22 0h0m42 0h0m14 0h0m18 0h0m41 0h0m13 0h0m92 0h0m4 0h0m-304 1h0m61 0h0m68 0h0m9 0h0m13 0h0m55 0h0m12 0h0m17 0h0m4 0h0m74 0h0m-374 1h0m38 0h0m5 0h0m14 0h0m63 0h0m88 0h0m11 0h0m41 0h0m15 0h0m5 0h0m29 0h0m54 0h0m12 0h0m-384 1h0m26 0h0m55 0h0m11 0h0m64 0h0m117 0h0m51 0h0m41 0h0m-326 1h0m5 0h0m10 0h0m12 0h0m5 0h0m54 0h0m48 0h0m18 0h0m97 0h0m86 0h0m-374 1h0m62 0h0m1 0h0m154 0h0m22 0h0m94 0h0m1 0h0m28 0h0m11 0h0m-346 1h0m52 0h0m1 0h0m0 0h0m13 0h0m43 0h0m41 0h0m5 0h0m76 0h0m66 0h0m-324 1h0m18 0h0m62 0h0m17 0h0m2 0h0m14 0h0m25 0h0m34 0h0m84 0h0m13 0h0m1 0h0m1 0h0m13 0h0m2 0h0m33 0h0m26 0h0m-246 1h0m12 0h0m78 0h0m67 0h0m42 0h0m84 0h0m-375 1h0m18 0h0m15 0h0m47 0h0m31 0h0m26 0h0m18 0h0m20 0h0m47 0h0m14 0h0m40 0h0m-238 1h0m20 0h0m110 0h0m7 0h0m6 0h0m117 0h0m64 0h0m4 0h0m-280 1h0m125 0h0m165 0h0m-388 1h0m1 0h0m77 0h0m64 0h0m10 0h0m174 0h0m-322 1h0m74 0h0m12 0h0m159 0h0m64 0h0m68 0h0m-354 1h0m80 0h0m23 0h0m38 0h0m114 0h0m7 0h0m36 0h0m16 0h0m31 0h0m-293 1h0m38 0h0m22 0h0m17 0h0m32 0h0m60 0h0m5 0h0m147 0h0m-376 1h0m10 0h0m87 0h0m6 0h0m11 0h0m77 0h0m46 0h0m16 0h0m-169 1h0m37 0h0m12 0h0m66 0h0m0 0h0m9 0h0m102 0h0m30 0h0m17 0h0m-326 1h0m160 0h0m154 0h0m16 0h0m-294 1h0m12 0h0m9 0h0m9 0h0m96 0h0m144 0h0m-328 1h0m17 0h0m102 0h0m51 0h0m8 0h0m26 0h0m7 0h0m105 0h0m5 0h0m-341 1h0m104 0h0m13 0h0m57 0h0m19 0h0m149 0h0m-303 1h0m7 0h0m72 0h0m95 0h0m10 0h0m87 0h0m53 0h0m1 0h0m-319 1h0m40 0h0m33 0h0m22 0h0m123 0h0m1 0h0m8 0h0m72 0h0m-269 1h0m38 0h0m12 0h0m5 0h0m13 0h0m55 0h0m11 0h0m9 0h0m29 0h0m140 0h0m1 0h0m-395 1h0m10 0h0m35 0h0m57 0h0m24 0h0m54 0h0m2 0h0m24 0h0m13 0h0m4 0h0m14 0h0m41 0h0m2 0h0m-283 1h0m9 0h0m25 0h0m10 0h0m173 0h0m24 0h0m108 0h0m-340 1h0m21 0h0m5 0h0m38 0h0m8 0h0m45 0h0m125 0h0m4 0h0m3 0h0m19 0h0m5 0h0m110 0h0m-375 1h0m35 0h0m60 0h0m46 0h0m54 0h0m21 0h0m7 0h0m19 0h0m85 0h0m-334 1h0m25 0h0m125 0h0m99 0h0m66 0h0m32 0h0m12 0h0m-304 1h0m56 0h0m63 0h0m111 0h0m0 0h0m-210 1h0m9 0h0m128 0h0m6 0h0m22 0h0m29 0h0m52 0h0m3 0h0m24 0h0m-348 1h0m30 0h0m62 0h0m46 0h0m21 0h0m95 0h0m37 0h0m33 0h0m4 0h0m41 0h0m-373 1h0m18 0h0m122 0h0m102 0h0m126 0h0m-302 1h0m28 0h0m15 0h0m41 0h0m0 0h0m4 0h0m26 0h0m7 0h0m38 0h0m4 0h0m4 0h0m23 0h0m19 0h0m52 0h0m8 0h0m7 0h0m-323 1h0m9 0h0m29 0h0m35 0h0m27 0h0m40 0h0m144 0h0m10 0h0m5 0h0m22 0h0m4 0h0m-129 1h0m36 0h0m42 0h0m26 0h0m1 0h0m71 0h0m-349 1h0m80 0h0m133 0h0m18 0h0m-266 1h0m7 0h0m22 0h0m124 0h0m12 0h0m13 0h0m101 0h0m-176 1h0m22 0h0m79 0h0m28 0h0m30 0h0m46 0h0m31 0h0m-281 1h0m80 0h0m105 0h0m12 0h0m53 0h0m23 0h0m-296 1h0m13 0h0m72 0h0m74 0h0m8 0h0m12 0h0m29 0h0m29 0h0m-287 1h0m46 0h0m92 0h0m1 0h0m104 0h0m35 0h0m-205 1h0m153 0h0m4 0h0m7 0h0m3 0h0m10 0h0m64 0h0m2 0h0m27 0h0m-321 1h0m15 0h0m22 0h0m26 0h0m11 0h0m5 0h0m35 0h0m22 0h0m5 0h0m127 0h0m12 0h0m22 0h0m7 0h0m7 0h0m-318 1h0m48 0h0m16 0h0m57 0h0m13 0h0m95 0h0m88 0h0m18 0h0m43 0h0m-322 1h0m146 0h0m4 0h0m88 0h0m8 0h0m6 0h0m-324 1h0m162 0h0m25 0h0m45 0h0m5 0h0m54 0h0m-273 1h0m2 0h0m56 0h0m87 0h0m154 0h0m26 0h0m32 0h0m-370 1h0m5 0h0m57 0h0m9 0h0m39 0h0m25 0h0m4 0h0m2 0h0m104 0h0m-255 1h0m12 0h0m112 0h0m18 0h0m72 0h0m11 0h0m18 0h0m61 0h0m8 0h0m17 0h0m32 0h0m-239 1h0m33 0h0m56 0h0m45 0h0m55 0h0m8 0h0m84 0h0m-399 1h0m67 0h0m163 0h0m40 0h0m50 0h0m17 0h0m-337 1h0m27 0h0m212 0h0m1 0h0m-203 1h0m69 0h0m32 0h0m133 0h0m38 0h0m73 0h0m-338 1h0m182 0h0m31 0h0m76 0h0m42 0h0m-375 1h0m44 0h0m18 0h0m24 0h0m17 0h0m15 0h0m53 0h0m69 0h0m74 0h0m22 0h0m26 0h0m5 0h0m29 0h0m-329 1h0m30 0h0m21 0h0m24 0h0m29 0h0m51 0h0m6 0h0m27 0h0m3 0h0m1 0h0m22 0h0m56 0h0m7 0h0m5 0h0m-309 1h0m21 0h0m43 0h0m56 0h0m156 0h0m2 0h0m16 0h0m-307 1h0m42 0h0m24 0h0m27 0h0m11 0h0m71 0h0m38 0h0m66 0h0m9 0h0m9 0h0m-252 1h0m27 0h0m104 0h0m-116 1h0m13 0h0m25 0h0m4 0h0m135 0h0m17 0h0m48 0h0m6 0h0m2 0h0m48 0h0m-225 1h0m3 0h0m53 0h0m18 0h0m71 0h0m-275 1h0m274 0h0m39 0h0m3 0h0m1 0h0m3 0h0m18 0h0m-238 1h0m16 0h0m33 0h0m30 0h0m33 0h0m14 0h0m14 0h0m19 0h0m30 0h0m-211 1h0m55 0h0m19 0h0m32 0h0m33 0h0m63 0h0m12 0h0m76 0h0m-359 1h0m74 0h0m40 0h0m6 0h0m198 0h0m-358 1h0m4 0h0m19 0h0m44 0h0m52 0h0m71 0h0m22 0h0m10 0h0m57 0h0m15 0h0m49 0h0m-195 1h0m112 0h0m48 0h0" stroke-width="5.6"/>
</g>

<text transform="translate(39.5 141.5) scale(1.25 1)" class="t">0</text>
<text transform="translate(35.7 134.2) scale(1.25 1)" class="t e">0</text>
<text transform="translate(64.5 141.5) scale(1.25 1)" class="t">50</text>
<text transform="translate(35.7 108.9) scale(1.25 1)" class="t e">50</text>
<text transform="translate(89.5 141.5) scale(1.25 1)" class="t">100</text>
<text transform="translate(35.7 83.6) scale(1.25 1)" class="t e">100</text>
<text transform="translate(114.5 141.5) scale(1.25 1)" class="t">150</text>
<text transform="translate(35.7 58.3) scale(1.25 1)" class="t e">150</text>
<text transform="translate(139.5 141.5) scale(1.25 1)" class="t">200</text>
<text transform="translate(35.7 33) scale(1.25 1)" class="t e">200</text>
<text transform="translate(164.5 141.5) scale(1.25 1)" class="t">250</text>
<text transform="translate(35.7 7.7) scale(1.25 1)" class="t e">250</text>
<text transform="translate(106.05 152.26) scale(1.35 1)" class="l" font-size="7.2">(x,y)</text>
<text transform="translate(14.43 67.3) scale(1.1 1) rotate(-90)" class="l" font-size="8.4">(x+1,y)</text>
<text transform="translate(87.7 173.28) scale(1.08 1)" class="c"><tspan class="n">(</tspan>a<tspan class="n">)</tspan></text>
<text transform="translate(224.5 144.8) scale(1.25 1)" class="t">0</text>
<text transform="translate(220.7 137.5) scale(1.25 1)" class="t e">0</text>
<text transform="translate(249.5 144.8) scale(1.25 1)" class="t">50</text>
<text transform="translate(220.7 111.54) scale(1.25 1)" class="t e">50</text>
<text transform="translate(274.5 144.8) scale(1.25 1)" class="t">100</text>
<text transform="translate(220.7 85.58) scale(1.25 1)" class="t e">100</text>
<text transform="translate(299.5 144.8) scale(1.25 1)" class="t">150</text>
<text transform="translate(220.7 59.62) scale(1.25 1)" class="t e">150</text>
<text transform="translate(324.5 144.8) scale(1.25 1)" class="t">200</text>
<text transform="translate(220.7 33.66) scale(1.25 1)" class="t e">200</text>
<text transform="translate(349.5 144.8) scale(1.25 1)" class="t">250</text>
<text transform="translate(220.7 7.7) scale(1.25 1)" class="t e">250</text>
<text transform="translate(289.45 154.71) scale(1.35 1)" class="l" font-size="7.2">(x,y)</text>
<text transform="translate(199.13 69.2) scale(1.1 1) rotate(-90)" class="l" font-size="8.4">(x+1,y)</text>
<text transform="translate(281.8 173.38) scale(1.08 1)" class="c"><tspan class="n">(</tspan>b<tspan class="n">)</tspan></text>
<text transform="translate(407.5 144.9) scale(1.25 1)" class="t">0</text>
<text transform="translate(403.7 137.6) scale(1.25 1)" class="t e">0</text>
<text transform="translate(432.5 144.9) scale(1.25 1)" class="t">50</text>
<text transform="translate(403.7 111.64) scale(1.25 1)" class="t e">50</text>
<text transform="translate(457.5 144.9) scale(1.25 1)" class="t">100</text>
<text transform="translate(403.7 85.68) scale(1.25 1)" class="t e">100</text>
<text transform="translate(482.5 144.9) scale(1.25 1)" class="t">150</text>
<text transform="translate(403.7 59.72) scale(1.25 1)" class="t e">150</text>
<text transform="translate(507.5 144.9) scale(1.25 1)" class="t">200</text>
<text transform="translate(403.7 33.76) scale(1.25 1)" class="t e">200</text>
<text transform="translate(532.5 144.9) scale(1.25 1)" class="t">250</text>
<text transform="translate(403.7 7.8) scale(1.25 1)" class="t e">250</text>
<text transform="translate(472.65 155.26) scale(1.35 1)" class="l" font-size="7.2">(x,y)</text>
<text transform="translate(383.13 69.4) scale(1.1 1) rotate(-90)" class="l" font-size="8.4">(x+1,y)</text>
<text transform="translate(468.3 173.57) scale(1.08 1)" class="c"><tspan class="n">(</tspan>c<tspan class="n">)</tspan></text>
<text transform="translate(33.3 337.7) scale(1.25 1)" class="t">0</text>
<text transform="translate(29.5 329.6) scale(1.25 1)" class="t e">0</text>
<text transform="translate(59.12 337.7) scale(1.25 1)" class="t">50</text>
<text transform="translate(29.5 303.8) scale(1.25 1)" class="t e">50</text>
<text transform="translate(84.94 337.7) scale(1.25 1)" class="t">100</text>
<text transform="translate(29.5 278) scale(1.25 1)" class="t e">100</text>
<text transform="translate(110.76 337.7) scale(1.25 1)" class="t">150</text>
<text transform="translate(29.5 252.2) scale(1.25 1)" class="t e">150</text>
<text transform="translate(136.58 337.7) scale(1.25 1)" class="t">200</text>
<text transform="translate(29.5 226.4) scale(1.25 1)" class="t e">200</text>
<text transform="translate(162.4 337.7) scale(1.25 1)" class="t">250</text>
<text transform="translate(29.5 200.6) scale(1.25 1)" class="t e">250</text>
<text transform="translate(99.65 350.13) scale(1.33 1)" class="l" font-size="7.6">(x,y)</text>
<text transform="translate(9.06 259.6) scale(1.03 1) rotate(-90)" class="l" font-size="9.1">(x+1,y)</text>
<text transform="translate(87.8 370.02) scale(1.08 1)" class="c"><tspan class="n">(</tspan>d<tspan class="n">)</tspan></text>
<text transform="translate(223.4 338.1) scale(1.25 1)" class="t">0</text>
<text transform="translate(219.6 330) scale(1.25 1)" class="t e">0</text>
<text transform="translate(249.2 338.1) scale(1.25 1)" class="t">50</text>
<text transform="translate(219.6 304.14) scale(1.25 1)" class="t e">50</text>
<text transform="translate(275 338.1) scale(1.25 1)" class="t">100</text>
<text transform="translate(219.6 278.28) scale(1.25 1)" class="t e">100</text>
<text transform="translate(300.8 338.1) scale(1.25 1)" class="t">150</text>
<text transform="translate(219.6 252.42) scale(1.25 1)" class="t e">150</text>
<text transform="translate(326.6 338.1) scale(1.25 1)" class="t">200</text>
<text transform="translate(219.6 226.56) scale(1.25 1)" class="t e">200</text>
<text transform="translate(352.4 338.1) scale(1.25 1)" class="t">250</text>
<text transform="translate(219.6 200.7) scale(1.25 1)" class="t e">250</text>
<text transform="translate(289.35 351.48) scale(1.33 1)" class="l" font-size="7.6">(x,y)</text>
<text transform="translate(199.06 259.5) scale(1.03 1) rotate(-90)" class="l" font-size="9.1">(x+1,y)</text>
<text transform="translate(281.7 370.18) scale(1.08 1)" class="c"><tspan class="n">(</tspan>e<tspan class="n">)</tspan></text>
<text transform="translate(411.8 339) scale(1.25 1)" class="t">0</text>
<text transform="translate(408 330.9) scale(1.25 1)" class="t e">0</text>
<text transform="translate(437.56 339) scale(1.25 1)" class="t">50</text>
<text transform="translate(408 304.85) scale(1.25 1)" class="t e">50</text>
<text transform="translate(463.32 339) scale(1.25 1)" class="t">100</text>
<text transform="translate(408 278.79) scale(1.25 1)" class="t e">100</text>
<text transform="translate(489.09 339) scale(1.25 1)" class="t">150</text>
<text transform="translate(408 252.74) scale(1.25 1)" class="t e">150</text>
<text transform="translate(514.85 339) scale(1.25 1)" class="t">200</text>
<text transform="translate(408 226.68) scale(1.25 1)" class="t e">200</text>
<text transform="translate(540.61 339) scale(1.25 1)" class="t">250</text>
<text transform="translate(408 200.63) scale(1.25 1)" class="t e">250</text>
<text transform="translate(477.95 351.98) scale(1.33 1)" class="l" font-size="7.6">(x,y)</text>
<text transform="translate(387.56 261) scale(1.03 1) rotate(-90)" class="l" font-size="9.1">(x+1,y)</text>
<text transform="translate(468.2 369.93) scale(1.08 1)" class="c"><tspan class="n">(</tspan>f<tspan class="n">)</tspan></text>
</svg></body></html>
